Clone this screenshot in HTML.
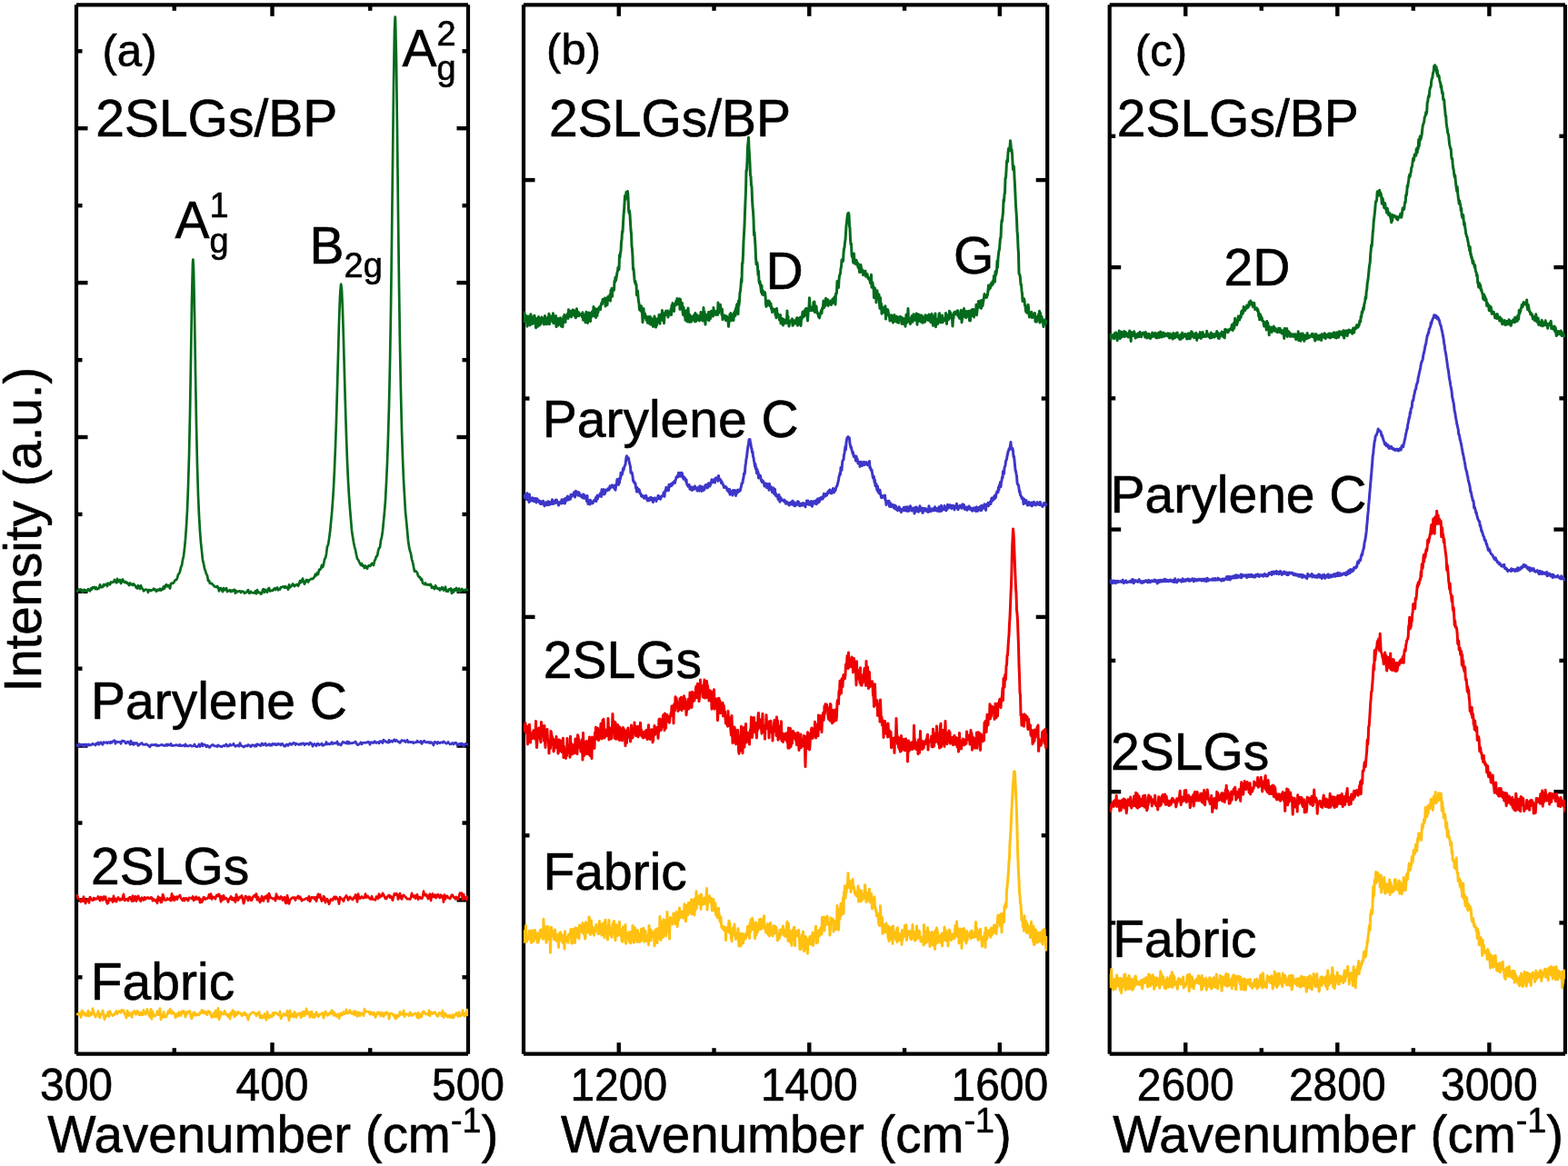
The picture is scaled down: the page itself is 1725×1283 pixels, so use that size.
<!DOCTYPE html>
<html lang="en">
<head>
<meta charset="utf-8">
<title>Raman spectra</title>
<style>html,body{margin:0;padding:0;background:#fff;}body{width:1725px;height:1283px;overflow:hidden;}svg{display:block;}</style>
</head>
<body>
<svg width="1725" height="1283" viewBox="0 0 1725 1283" font-family='"Liberation Sans", Arial, Helvetica, sans-serif' fill="#000">
<defs>
<clipPath id="clipa"><rect x="84.0" y="5.3" width="431.0" height="1154.4"/></clipPath>
<clipPath id="clipb"><rect x="576.0" y="5.3" width="576.2" height="1154.4"/></clipPath>
<clipPath id="clipc"><rect x="1220.7" y="5.3" width="501.20000000000005" height="1154.4"/></clipPath>
</defs>
<rect width="1725" height="1283" fill="#fff"/>
<g id="axes-a">
<line x1="84.00" y1="5.30" x2="515.00" y2="5.30" stroke="#000" stroke-width="4.2"/>
<line x1="84.00" y1="1159.70" x2="515.00" y2="1159.70" stroke="#000" stroke-width="4.2"/>
<line x1="84.00" y1="5.30" x2="84.00" y2="1159.70" stroke="#000" stroke-width="4.2"/>
<line x1="515.00" y1="5.30" x2="515.00" y2="1159.70" stroke="#000" stroke-width="4.2"/>
<line x1="299.50" y1="1159.70" x2="299.50" y2="1147.20" stroke="#000" stroke-width="4.4"/>
<line x1="299.50" y1="5.30" x2="299.50" y2="17.80" stroke="#000" stroke-width="4.4"/>
<line x1="191.75" y1="1159.70" x2="191.75" y2="1153.20" stroke="#000" stroke-width="4.4"/>
<line x1="191.75" y1="5.30" x2="191.75" y2="11.80" stroke="#000" stroke-width="4.4"/>
<line x1="407.25" y1="1159.70" x2="407.25" y2="1153.20" stroke="#000" stroke-width="4.4"/>
<line x1="407.25" y1="5.30" x2="407.25" y2="11.80" stroke="#000" stroke-width="4.4"/>
<line x1="84.00" y1="141.20" x2="96.50" y2="141.20" stroke="#000" stroke-width="4.4"/>
<line x1="515.00" y1="141.20" x2="502.50" y2="141.20" stroke="#000" stroke-width="4.4"/>
<line x1="84.00" y1="311.10" x2="96.50" y2="311.10" stroke="#000" stroke-width="4.4"/>
<line x1="515.00" y1="311.10" x2="502.50" y2="311.10" stroke="#000" stroke-width="4.4"/>
<line x1="84.00" y1="481.00" x2="96.50" y2="481.00" stroke="#000" stroke-width="4.4"/>
<line x1="515.00" y1="481.00" x2="502.50" y2="481.00" stroke="#000" stroke-width="4.4"/>
<line x1="84.00" y1="650.80" x2="96.50" y2="650.80" stroke="#000" stroke-width="4.4"/>
<line x1="515.00" y1="650.80" x2="502.50" y2="650.80" stroke="#000" stroke-width="4.4"/>
<line x1="84.00" y1="820.60" x2="96.50" y2="820.60" stroke="#000" stroke-width="4.4"/>
<line x1="515.00" y1="820.60" x2="502.50" y2="820.60" stroke="#000" stroke-width="4.4"/>
<line x1="84.00" y1="990.30" x2="96.50" y2="990.30" stroke="#000" stroke-width="4.4"/>
<line x1="515.00" y1="990.30" x2="502.50" y2="990.30" stroke="#000" stroke-width="4.4"/>
<line x1="84.00" y1="56.30" x2="90.50" y2="56.30" stroke="#000" stroke-width="4.4"/>
<line x1="515.00" y1="56.30" x2="508.50" y2="56.30" stroke="#000" stroke-width="4.4"/>
<line x1="84.00" y1="226.20" x2="90.50" y2="226.20" stroke="#000" stroke-width="4.4"/>
<line x1="515.00" y1="226.20" x2="508.50" y2="226.20" stroke="#000" stroke-width="4.4"/>
<line x1="84.00" y1="396.10" x2="90.50" y2="396.10" stroke="#000" stroke-width="4.4"/>
<line x1="515.00" y1="396.10" x2="508.50" y2="396.10" stroke="#000" stroke-width="4.4"/>
<line x1="84.00" y1="565.90" x2="90.50" y2="565.90" stroke="#000" stroke-width="4.4"/>
<line x1="515.00" y1="565.90" x2="508.50" y2="565.90" stroke="#000" stroke-width="4.4"/>
<line x1="84.00" y1="735.70" x2="90.50" y2="735.70" stroke="#000" stroke-width="4.4"/>
<line x1="515.00" y1="735.70" x2="508.50" y2="735.70" stroke="#000" stroke-width="4.4"/>
<line x1="84.00" y1="905.50" x2="90.50" y2="905.50" stroke="#000" stroke-width="4.4"/>
<line x1="515.00" y1="905.50" x2="508.50" y2="905.50" stroke="#000" stroke-width="4.4"/>
<line x1="84.00" y1="1075.30" x2="90.50" y2="1075.30" stroke="#000" stroke-width="4.4"/>
<line x1="515.00" y1="1075.30" x2="508.50" y2="1075.30" stroke="#000" stroke-width="4.4"/>
</g>
<text transform="translate(84.00,1210.60) scale(1.0,1.025)" font-size="48" text-anchor="middle" stroke="#000" stroke-width="0.6" stroke-linejoin="round">300</text>
<text transform="translate(299.50,1210.60) scale(1.0,1.025)" font-size="48" text-anchor="middle" stroke="#000" stroke-width="0.6" stroke-linejoin="round">400</text>
<text transform="translate(515.00,1210.60) scale(1.0,1.025)" font-size="48" text-anchor="middle" stroke="#000" stroke-width="0.6" stroke-linejoin="round">500</text>
<text transform="translate(300.30,1268.30) scale(1.0,1.02)" font-size="56.5" text-anchor="middle" stroke="#000" stroke-width="0.6" stroke-linejoin="round">Wavenumber (cm<tspan font-size="37.7" dy="-22.3">-1</tspan><tspan font-size="56.5" dy="22.3">)</tspan></text>
<g id="axes-b">
<line x1="576.00" y1="5.30" x2="1152.20" y2="5.30" stroke="#000" stroke-width="4.2"/>
<line x1="576.00" y1="1159.70" x2="1152.20" y2="1159.70" stroke="#000" stroke-width="4.2"/>
<line x1="576.00" y1="5.30" x2="576.00" y2="1159.70" stroke="#000" stroke-width="4.2"/>
<line x1="1152.20" y1="5.30" x2="1152.20" y2="1159.70" stroke="#000" stroke-width="4.2"/>
<line x1="680.76" y1="1159.70" x2="680.76" y2="1147.20" stroke="#000" stroke-width="4.4"/>
<line x1="680.76" y1="5.30" x2="680.76" y2="17.80" stroke="#000" stroke-width="4.4"/>
<line x1="890.29" y1="1159.70" x2="890.29" y2="1147.20" stroke="#000" stroke-width="4.4"/>
<line x1="890.29" y1="5.30" x2="890.29" y2="17.80" stroke="#000" stroke-width="4.4"/>
<line x1="1099.82" y1="1159.70" x2="1099.82" y2="1147.20" stroke="#000" stroke-width="4.4"/>
<line x1="1099.82" y1="5.30" x2="1099.82" y2="17.80" stroke="#000" stroke-width="4.4"/>
<line x1="785.53" y1="1159.70" x2="785.53" y2="1153.20" stroke="#000" stroke-width="4.4"/>
<line x1="785.53" y1="5.30" x2="785.53" y2="11.80" stroke="#000" stroke-width="4.4"/>
<line x1="995.05" y1="1159.70" x2="995.05" y2="1153.20" stroke="#000" stroke-width="4.4"/>
<line x1="995.05" y1="5.30" x2="995.05" y2="11.80" stroke="#000" stroke-width="4.4"/>
<line x1="576.00" y1="198.10" x2="588.50" y2="198.10" stroke="#000" stroke-width="4.4"/>
<line x1="1152.20" y1="198.10" x2="1139.70" y2="198.10" stroke="#000" stroke-width="4.4"/>
<line x1="576.00" y1="678.90" x2="588.50" y2="678.90" stroke="#000" stroke-width="4.4"/>
<line x1="1152.20" y1="678.90" x2="1139.70" y2="678.90" stroke="#000" stroke-width="4.4"/>
<line x1="576.00" y1="438.50" x2="582.50" y2="438.50" stroke="#000" stroke-width="4.4"/>
<line x1="1152.20" y1="438.50" x2="1145.70" y2="438.50" stroke="#000" stroke-width="4.4"/>
<line x1="576.00" y1="919.30" x2="582.50" y2="919.30" stroke="#000" stroke-width="4.4"/>
<line x1="1152.20" y1="919.30" x2="1145.70" y2="919.30" stroke="#000" stroke-width="4.4"/>
</g>
<text transform="translate(680.76,1210.60) scale(1.0,1.025)" font-size="48" text-anchor="middle" stroke="#000" stroke-width="0.6" stroke-linejoin="round">1200</text>
<text transform="translate(890.29,1210.60) scale(1.0,1.025)" font-size="48" text-anchor="middle" stroke="#000" stroke-width="0.6" stroke-linejoin="round">1400</text>
<text transform="translate(1099.82,1210.60) scale(1.0,1.025)" font-size="48" text-anchor="middle" stroke="#000" stroke-width="0.6" stroke-linejoin="round">1600</text>
<text transform="translate(864.90,1268.30) scale(1.0,1.02)" font-size="56.5" text-anchor="middle" stroke="#000" stroke-width="0.6" stroke-linejoin="round">Wavenumber (cm<tspan font-size="37.7" dy="-22.3">-1</tspan><tspan font-size="56.5" dy="22.3">)</tspan></text>
<g id="axes-c">
<line x1="1220.70" y1="5.30" x2="1721.90" y2="5.30" stroke="#000" stroke-width="4.2"/>
<line x1="1220.70" y1="1159.70" x2="1721.90" y2="1159.70" stroke="#000" stroke-width="4.2"/>
<line x1="1220.70" y1="5.30" x2="1220.70" y2="1159.70" stroke="#000" stroke-width="4.2"/>
<line x1="1721.90" y1="5.30" x2="1721.90" y2="1159.70" stroke="#000" stroke-width="4.2"/>
<line x1="1304.23" y1="1159.70" x2="1304.23" y2="1147.20" stroke="#000" stroke-width="4.4"/>
<line x1="1304.23" y1="5.30" x2="1304.23" y2="17.80" stroke="#000" stroke-width="4.4"/>
<line x1="1471.30" y1="1159.70" x2="1471.30" y2="1147.20" stroke="#000" stroke-width="4.4"/>
<line x1="1471.30" y1="5.30" x2="1471.30" y2="17.80" stroke="#000" stroke-width="4.4"/>
<line x1="1638.37" y1="1159.70" x2="1638.37" y2="1147.20" stroke="#000" stroke-width="4.4"/>
<line x1="1638.37" y1="5.30" x2="1638.37" y2="17.80" stroke="#000" stroke-width="4.4"/>
<line x1="1387.77" y1="1159.70" x2="1387.77" y2="1153.20" stroke="#000" stroke-width="4.4"/>
<line x1="1387.77" y1="5.30" x2="1387.77" y2="11.80" stroke="#000" stroke-width="4.4"/>
<line x1="1554.83" y1="1159.70" x2="1554.83" y2="1153.20" stroke="#000" stroke-width="4.4"/>
<line x1="1554.83" y1="5.30" x2="1554.83" y2="11.80" stroke="#000" stroke-width="4.4"/>
<line x1="1220.70" y1="294.10" x2="1233.20" y2="294.10" stroke="#000" stroke-width="4.4"/>
<line x1="1721.90" y1="294.10" x2="1709.40" y2="294.10" stroke="#000" stroke-width="4.4"/>
<line x1="1220.70" y1="582.60" x2="1233.20" y2="582.60" stroke="#000" stroke-width="4.4"/>
<line x1="1721.90" y1="582.60" x2="1709.40" y2="582.60" stroke="#000" stroke-width="4.4"/>
<line x1="1220.70" y1="871.20" x2="1233.20" y2="871.20" stroke="#000" stroke-width="4.4"/>
<line x1="1721.90" y1="871.20" x2="1709.40" y2="871.20" stroke="#000" stroke-width="4.4"/>
<line x1="1220.70" y1="149.80" x2="1227.20" y2="149.80" stroke="#000" stroke-width="4.4"/>
<line x1="1721.90" y1="149.80" x2="1715.40" y2="149.80" stroke="#000" stroke-width="4.4"/>
<line x1="1220.70" y1="438.30" x2="1227.20" y2="438.30" stroke="#000" stroke-width="4.4"/>
<line x1="1721.90" y1="438.30" x2="1715.40" y2="438.30" stroke="#000" stroke-width="4.4"/>
<line x1="1220.70" y1="726.90" x2="1227.20" y2="726.90" stroke="#000" stroke-width="4.4"/>
<line x1="1721.90" y1="726.90" x2="1715.40" y2="726.90" stroke="#000" stroke-width="4.4"/>
<line x1="1220.70" y1="1015.40" x2="1227.20" y2="1015.40" stroke="#000" stroke-width="4.4"/>
<line x1="1721.90" y1="1015.40" x2="1715.40" y2="1015.40" stroke="#000" stroke-width="4.4"/>
</g>
<text transform="translate(1304.23,1210.60) scale(1.0,1.025)" font-size="48" text-anchor="middle" stroke="#000" stroke-width="0.6" stroke-linejoin="round">2600</text>
<text transform="translate(1471.30,1210.60) scale(1.0,1.025)" font-size="48" text-anchor="middle" stroke="#000" stroke-width="0.6" stroke-linejoin="round">2800</text>
<text transform="translate(1638.37,1210.60) scale(1.0,1.025)" font-size="48" text-anchor="middle" stroke="#000" stroke-width="0.6" stroke-linejoin="round">3000</text>
<text transform="translate(1472.10,1268.30) scale(1.0,1.02)" font-size="56.5" text-anchor="middle" stroke="#000" stroke-width="0.6" stroke-linejoin="round">Wavenumber (cm<tspan font-size="37.7" dy="-22.3">-1</tspan><tspan font-size="56.5" dy="22.3">)</tspan></text>
<polyline points="84.0,650.0 85.0,650.4 86.0,649.5 87.0,648.6 88.0,649.2 89.0,648.4 90.0,650.0 91.0,651.8 92.0,649.1 93.0,648.8 94.0,650.5 95.0,650.2 96.0,649.8 97.0,648.2 98.0,649.5 99.0,650.4 100.0,647.3 101.0,648.5 102.0,646.2 103.0,646.9 104.0,645.9 105.0,648.1 106.0,646.4 107.0,648.4 108.0,647.9 109.0,647.1 110.0,643.3 111.0,645.9 112.0,646.2 113.0,646.0 114.0,643.1 115.0,644.2 116.0,643.0 117.0,642.7 118.0,645.0 119.0,641.7 120.0,642.3 121.0,643.2 122.0,640.5 123.0,640.8 124.0,640.7 125.0,640.2 126.0,638.0 127.0,639.6 128.0,641.3 129.0,636.8 130.0,640.3 131.0,639.1 132.0,638.0 133.0,642.0 134.0,640.3 135.0,637.5 136.0,639.7 137.0,640.8 138.0,640.0 139.0,641.6 140.0,640.9 141.0,642.5 142.0,644.1 143.0,641.4 144.0,643.2 145.0,642.6 146.0,644.0 147.0,642.4 148.0,643.8 149.0,644.7 150.0,646.8 151.0,647.5 152.0,644.2 153.0,645.4 154.0,647.9 155.0,644.4 156.0,647.0 157.0,647.9 158.0,650.3 159.0,649.8 160.0,648.5 161.0,648.7 162.0,649.0 163.0,651.8 164.0,649.0 165.0,649.1 166.0,650.1 167.0,649.3 168.0,649.1 169.0,647.7 170.0,649.2 171.0,648.5 172.0,650.8 173.0,649.8 174.0,648.7 175.0,649.5 176.0,647.8 177.0,649.7 178.0,647.9 179.0,648.5 180.0,645.5 181.0,647.6 182.0,644.2 183.0,643.3 184.0,645.4 185.0,644.0 186.0,645.0 187.0,647.5 188.0,642.1 189.0,641.6 190.0,642.0 191.0,641.5 192.0,639.4 193.0,638.1 194.0,638.1 195.0,636.2 196.0,632.1 197.0,631.3 198.0,628.9 199.0,624.2 200.0,622.2 201.0,615.9 202.0,612.1 203.0,603.4 204.0,593.2 205.0,579.2 206.0,561.5 207.0,535.4 208.0,501.7 209.0,455.6 210.0,395.3 211.0,332.4 212.0,289.4 212.4,285.5 213.0,295.0 214.0,344.9 215.0,409.3 216.0,466.3 217.0,511.9 218.0,544.7 219.0,567.4 220.0,584.5 221.0,597.4 222.0,606.3 223.0,616.3 224.0,620.1 225.0,625.5 226.0,628.3 227.0,631.6 228.0,633.2 229.0,639.1 230.0,638.8 231.0,642.0 232.0,641.8 233.0,641.9 234.0,643.4 235.0,643.9 236.0,645.4 237.0,645.5 238.0,646.2 239.0,645.0 240.0,646.3 241.0,650.4 242.0,647.2 243.0,647.0 244.0,649.3 245.0,651.2 246.0,647.1 247.0,649.2 248.0,648.7 249.0,647.2 250.0,651.1 251.0,650.1 252.0,650.3 253.0,649.2 254.0,651.1 255.0,649.7 256.0,650.4 257.0,649.0 258.0,648.9 259.0,652.8 260.0,650.1 261.0,651.3 262.0,650.9 263.0,650.3 264.0,650.3 265.0,652.0 266.0,650.6 267.0,650.9 268.0,651.1 269.0,652.9 270.0,652.2 271.0,651.7 272.0,650.3 273.0,649.1 274.0,652.6 275.0,652.6 276.0,650.9 277.0,651.9 278.0,652.3 279.0,652.3 280.0,652.4 281.0,650.3 282.0,653.3 283.0,649.1 284.0,652.2 285.0,651.6 286.0,652.2 287.0,653.6 288.0,653.0 289.0,649.0 290.0,648.1 291.0,651.8 292.0,649.0 293.0,650.4 294.0,651.6 295.0,647.8 296.0,647.0 297.0,650.5 298.0,650.1 299.0,649.6 300.0,649.9 301.0,648.4 302.0,647.3 303.0,649.1 304.0,647.6 305.0,646.4 306.0,649.3 307.0,648.2 308.0,648.6 309.0,646.1 310.0,646.3 311.0,645.5 312.0,645.4 313.0,646.8 314.0,645.1 315.0,646.6 316.0,646.3 317.0,648.7 318.0,643.3 319.0,646.5 320.0,644.9 321.0,644.8 322.0,642.4 323.0,643.6 324.0,645.2 325.0,643.7 326.0,643.7 327.0,642.9 328.0,644.8 329.0,642.7 330.0,639.1 331.0,641.1 332.0,638.8 333.0,636.6 334.0,640.3 335.0,642.7 336.0,640.4 337.0,638.1 338.0,638.0 339.0,640.6 340.0,638.6 341.0,637.9 342.0,637.2 343.0,636.7 344.0,637.1 345.0,636.0 346.0,634.6 347.0,631.8 348.0,633.2 349.0,630.3 350.0,631.8 351.0,626.9 352.0,627.1 353.0,625.6 354.0,621.8 355.0,624.1 356.0,621.2 357.0,615.6 358.0,614.1 359.0,609.7 360.0,601.3 361.0,599.8 362.0,593.1 363.0,585.8 364.0,575.5 365.0,565.4 366.0,552.1 367.0,536.7 368.0,516.0 369.0,491.3 370.0,462.5 371.0,427.6 372.0,390.6 373.0,354.3 374.0,326.5 375.0,313.0 375.2,312.6 376.0,318.9 377.0,342.0 378.0,375.9 379.0,413.1 380.0,448.7 381.0,480.1 382.0,507.4 383.0,528.7 384.0,546.0 385.0,559.9 386.0,571.6 387.0,583.7 388.0,590.5 389.0,596.5 390.0,601.5 391.0,605.0 392.0,610.2 393.0,614.8 394.0,615.7 395.0,618.1 396.0,619.9 397.0,621.8 398.0,620.2 399.0,622.8 400.0,622.3 401.0,625.1 402.0,622.6 403.0,624.5 404.0,625.8 405.0,622.9 406.0,622.2 407.0,622.9 408.0,622.0 409.0,619.8 410.0,620.9 411.0,622.0 412.0,617.2 413.0,615.5 414.0,612.2 415.0,611.7 416.0,606.4 417.0,603.1 418.0,602.3 419.0,594.3 420.0,590.8 421.0,584.0 422.0,573.5 423.0,562.8 424.0,550.5 425.0,531.3 426.0,509.3 427.0,481.0 428.0,446.0 429.0,400.2 430.0,340.2 431.0,265.4 432.0,179.5 433.0,93.9 434.0,32.7 434.7,18.5 435.0,21.3 436.0,65.6 437.0,145.3 438.0,233.9 439.0,314.1 440.0,379.9 441.0,432.1 442.0,473.4 443.0,503.9 444.0,527.9 445.0,545.6 446.0,563.0 447.0,572.8 448.0,583.5 449.0,594.7 450.0,601.6 451.0,606.3 452.0,609.1 453.0,615.3 454.0,618.5 455.0,623.6 456.0,628.8 457.0,628.2 458.0,628.9 459.0,630.2 460.0,633.6 461.0,634.9 462.0,634.8 463.0,637.9 464.0,637.0 465.0,641.4 466.0,642.2 467.0,643.0 468.0,641.4 469.0,643.5 470.0,643.2 471.0,643.3 472.0,643.9 473.0,642.9 474.0,643.1 475.0,646.9 476.0,645.7 477.0,646.7 478.0,648.1 479.0,644.3 480.0,645.9 481.0,647.6 482.0,648.1 483.0,647.1 484.0,649.4 485.0,648.3 486.0,646.3 487.0,646.8 488.0,649.5 489.0,649.1 490.0,645.7 491.0,650.7 492.0,649.6 493.0,650.8 494.0,648.3 495.0,648.5 496.0,647.4 497.0,652.9 498.0,648.9 499.0,651.6 500.0,648.3 501.0,649.6 502.0,646.9 503.0,648.9 504.0,650.9 505.0,647.6 506.0,651.2 507.0,650.1 508.0,648.0 509.0,648.9 510.0,649.0 511.0,649.6 512.0,648.9 513.0,648.5 514.0,649.3 515.0,648.3" fill="none" stroke="#046a1c" stroke-width="2.7" stroke-linejoin="round" stroke-linecap="butt" clip-path="url(#clipa)"/>
<polyline points="84.0,819.0 85.0,820.2 86.0,821.1 87.0,818.6 88.0,820.1 89.0,819.4 90.0,819.1 91.0,820.8 92.0,819.4 93.0,821.4 94.0,819.0 95.0,820.1 96.0,819.4 97.0,818.8 98.0,820.1 99.0,819.3 100.0,820.0 101.0,819.3 102.0,818.2 103.0,819.1 104.0,819.1 105.0,820.0 106.0,818.0 107.0,818.8 108.0,817.0 109.0,819.3 110.0,817.5 111.0,816.7 112.0,818.3 113.0,819.4 114.0,816.6 115.0,816.9 116.0,817.1 117.0,816.6 118.0,817.9 119.0,816.6 120.0,816.5 121.0,817.7 122.0,816.2 123.0,817.2 124.0,815.7 125.0,815.4 126.0,814.6 127.0,818.3 128.0,816.0 129.0,816.6 130.0,816.3 131.0,816.5 132.0,816.4 133.0,818.3 134.0,815.5 135.0,815.1 136.0,815.7 137.0,815.5 138.0,817.8 139.0,818.0 140.0,816.4 141.0,816.1 142.0,817.3 143.0,819.2 144.0,815.2 145.0,818.7 146.0,817.3 147.0,819.5 148.0,817.5 149.0,818.4 150.0,817.3 151.0,817.9 152.0,820.4 153.0,819.9 154.0,818.7 155.0,818.3 156.0,817.4 157.0,819.0 158.0,819.4 159.0,819.4 160.0,819.5 161.0,818.6 162.0,819.7 163.0,819.8 164.0,821.2 165.0,821.8 166.0,819.9 167.0,819.3 168.0,820.0 169.0,819.5 170.0,819.4 171.0,820.2 172.0,819.2 173.0,820.9 174.0,820.2 175.0,820.6 176.0,820.1 177.0,819.6 178.0,819.4 179.0,820.1 180.0,819.8 181.0,820.6 182.0,820.4 183.0,819.0 184.0,820.4 185.0,819.0 186.0,819.8 187.0,820.1 188.0,818.3 189.0,820.5 190.0,820.6 191.0,820.3 192.0,820.0 193.0,820.1 194.0,819.5 195.0,820.2 196.0,819.9 197.0,820.6 198.0,819.3 199.0,820.7 200.0,820.6 201.0,820.3 202.0,820.0 203.0,821.0 204.0,818.8 205.0,821.0 206.0,820.7 207.0,820.8 208.0,820.9 209.0,819.9 210.0,820.3 211.0,821.2 212.0,821.0 213.0,820.7 214.0,819.0 215.0,821.1 216.0,821.7 217.0,821.6 218.0,820.8 219.0,819.0 220.0,821.5 221.0,820.4 222.0,818.0 223.0,820.9 224.0,819.1 225.0,819.3 226.0,819.9 227.0,821.8 228.0,820.2 229.0,820.9 230.0,822.3 231.0,822.2 232.0,820.5 233.0,820.3 234.0,819.3 235.0,819.9 236.0,821.0 237.0,821.0 238.0,820.7 239.0,821.6 240.0,819.8 241.0,820.5 242.0,821.3 243.0,821.2 244.0,821.7 245.0,821.0 246.0,820.3 247.0,821.0 248.0,819.6 249.0,819.0 250.0,821.2 251.0,820.5 252.0,820.9 253.0,818.9 254.0,820.2 255.0,820.0 256.0,819.7 257.0,818.3 258.0,820.2 259.0,821.4 260.0,820.9 261.0,819.9 262.0,820.4 263.0,821.2 264.0,817.6 265.0,820.2 266.0,820.9 267.0,821.0 268.0,822.0 269.0,821.4 270.0,820.5 271.0,820.5 272.0,820.9 273.0,819.5 274.0,820.0 275.0,820.9 276.0,821.9 277.0,819.8 278.0,819.8 279.0,820.1 280.0,821.2 281.0,819.7 282.0,821.2 283.0,818.7 284.0,819.5 285.0,819.4 286.0,820.4 287.0,820.6 288.0,818.0 289.0,818.6 290.0,819.8 291.0,818.8 292.0,817.9 293.0,820.4 294.0,819.8 295.0,819.8 296.0,818.8 297.0,820.3 298.0,819.0 299.0,820.3 300.0,818.3 301.0,818.3 302.0,819.4 303.0,818.4 304.0,819.8 305.0,819.4 306.0,818.2 307.0,819.2 308.0,818.7 309.0,820.0 310.0,818.4 311.0,818.6 312.0,820.2 313.0,821.3 314.0,821.0 315.0,819.1 316.0,819.2 317.0,820.5 318.0,818.8 319.0,818.0 320.0,819.1 321.0,819.4 322.0,818.1 323.0,817.3 324.0,817.5 325.0,819.6 326.0,818.1 327.0,818.7 328.0,819.1 329.0,819.5 330.0,818.5 331.0,819.3 332.0,817.9 333.0,818.5 334.0,817.8 335.0,819.9 336.0,818.8 337.0,818.0 338.0,818.4 339.0,818.5 340.0,819.4 341.0,817.1 342.0,817.7 343.0,818.3 344.0,821.2 345.0,819.6 346.0,818.5 347.0,819.4 348.0,820.7 349.0,818.4 350.0,818.2 351.0,819.8 352.0,819.1 353.0,819.2 354.0,818.0 355.0,820.4 356.0,820.2 357.0,819.0 358.0,819.1 359.0,816.4 360.0,819.1 361.0,818.2 362.0,818.8 363.0,819.1 364.0,818.0 365.0,816.6 366.0,818.7 367.0,817.5 368.0,817.9 369.0,817.6 370.0,817.9 371.0,815.9 372.0,819.4 373.0,818.4 374.0,819.2 375.0,820.1 376.0,818.1 377.0,816.3 378.0,817.1 379.0,816.8 380.0,817.5 381.0,818.0 382.0,815.9 383.0,818.3 384.0,816.4 385.0,818.2 386.0,817.7 387.0,817.5 388.0,817.7 389.0,817.2 390.0,817.1 391.0,816.0 392.0,817.6 393.0,819.5 394.0,819.6 395.0,818.9 396.0,818.2 397.0,816.8 398.0,818.9 399.0,817.4 400.0,817.3 401.0,817.1 402.0,817.4 403.0,816.8 404.0,817.1 405.0,816.1 406.0,816.7 407.0,819.3 408.0,816.9 409.0,816.7 410.0,817.4 411.0,817.5 412.0,815.6 413.0,816.4 414.0,817.5 415.0,816.7 416.0,816.5 417.0,817.9 418.0,815.6 419.0,816.3 420.0,815.6 421.0,817.6 422.0,814.1 423.0,815.3 424.0,815.4 425.0,816.6 426.0,816.5 427.0,817.2 428.0,814.2 429.0,816.6 430.0,815.5 431.0,815.1 432.0,816.3 433.0,814.9 434.0,813.7 435.0,815.5 436.0,814.4 437.0,815.2 438.0,816.3 439.0,816.2 440.0,817.5 441.0,815.8 442.0,814.5 443.0,815.3 444.0,815.1 445.0,814.9 446.0,816.5 447.0,815.5 448.0,814.2 449.0,816.9 450.0,816.1 451.0,816.6 452.0,816.4 453.0,817.0 454.0,816.4 455.0,817.7 456.0,816.9 457.0,816.9 458.0,816.9 459.0,815.1 460.0,816.4 461.0,816.4 462.0,816.9 463.0,815.4 464.0,818.4 465.0,816.9 466.0,815.6 467.0,815.2 468.0,816.7 469.0,816.9 470.0,816.3 471.0,817.2 472.0,816.5 473.0,817.7 474.0,816.5 475.0,817.2 476.0,818.3 477.0,820.0 478.0,816.4 479.0,817.0 480.0,816.7 481.0,818.4 482.0,816.5 483.0,817.2 484.0,817.7 485.0,816.8 486.0,816.9 487.0,817.4 488.0,815.8 489.0,816.5 490.0,817.6 491.0,818.2 492.0,817.9 493.0,816.3 494.0,817.7 495.0,819.0 496.0,818.8 497.0,818.2 498.0,817.4 499.0,819.0 500.0,817.8 501.0,817.2 502.0,817.6 503.0,819.9 504.0,818.7 505.0,819.7 506.0,818.1 507.0,819.5 508.0,818.0 509.0,818.5 510.0,821.2 511.0,819.5 512.0,818.2 513.0,818.7 514.0,819.1 515.0,820.0" fill="none" stroke="#3d36c8" stroke-width="2.7" stroke-linejoin="round" stroke-linecap="butt" clip-path="url(#clipa)"/>
<polyline points="84.0,988.2 85.0,985.3 86.0,988.6 87.0,989.3 88.0,989.5 89.0,992.3 90.0,990.0 91.0,991.1 92.0,986.7 93.0,991.2 94.0,994.0 95.0,991.0 96.0,989.8 97.0,989.5 98.0,993.3 99.0,987.0 100.0,988.9 101.0,990.2 102.0,990.8 103.0,988.1 104.0,989.8 105.0,988.5 106.0,989.4 107.0,988.8 108.0,986.5 109.0,989.0 110.0,991.1 111.0,986.8 112.0,988.5 113.0,990.6 114.0,986.6 115.0,989.4 116.0,986.6 117.0,991.6 118.0,994.3 119.0,993.6 120.0,988.5 121.0,990.7 122.0,989.2 123.0,989.2 124.0,992.5 125.0,985.9 126.0,991.4 127.0,988.8 128.0,992.2 129.0,989.3 130.0,987.4 131.0,989.5 132.0,990.6 133.0,989.0 134.0,990.0 135.0,987.7 136.0,983.9 137.0,990.9 138.0,990.5 139.0,989.2 140.0,989.0 141.0,991.2 142.0,987.8 143.0,987.2 144.0,988.4 145.0,991.5 146.0,985.6 147.0,991.5 148.0,987.3 149.0,986.2 150.0,991.7 151.0,988.5 152.0,985.8 153.0,987.9 154.0,990.9 155.0,991.5 156.0,987.7 157.0,989.7 158.0,990.4 159.0,987.2 160.0,989.5 161.0,988.6 162.0,987.5 163.0,987.6 164.0,988.8 165.0,988.8 166.0,987.4 167.0,987.7 168.0,991.2 169.0,989.2 170.0,990.7 171.0,991.4 172.0,990.0 173.0,993.9 174.0,986.7 175.0,990.5 176.0,987.9 177.0,992.9 178.0,992.5 179.0,984.1 180.0,986.4 181.0,990.2 182.0,990.4 183.0,990.3 184.0,988.5 185.0,989.7 186.0,990.1 187.0,988.4 188.0,991.0 189.0,983.4 190.0,990.1 191.0,986.2 192.0,990.8 193.0,988.1 194.0,986.6 195.0,989.5 196.0,986.5 197.0,986.5 198.0,985.0 199.0,988.5 200.0,989.7 201.0,991.0 202.0,988.3 203.0,991.0 204.0,988.6 205.0,988.4 206.0,989.9 207.0,991.0 208.0,987.8 209.0,988.0 210.0,988.2 211.0,988.8 212.0,986.5 213.0,991.0 214.0,987.7 215.0,989.7 216.0,986.7 217.0,989.4 218.0,989.5 219.0,987.6 220.0,993.2 221.0,989.5 222.0,992.7 223.0,990.8 224.0,987.1 225.0,987.7 226.0,989.6 227.0,988.7 228.0,988.7 229.0,987.9 230.0,984.4 231.0,988.1 232.0,983.5 233.0,989.5 234.0,986.9 235.0,987.0 236.0,988.1 237.0,989.2 238.0,985.3 239.0,984.6 240.0,986.1 241.0,983.9 242.0,986.4 243.0,992.3 244.0,986.2 245.0,990.1 246.0,985.4 247.0,989.3 248.0,987.9 249.0,988.5 250.0,989.9 251.0,992.6 252.0,989.0 253.0,988.9 254.0,986.4 255.0,989.9 256.0,988.0 257.0,990.5 258.0,988.5 259.0,992.6 260.0,984.0 261.0,987.9 262.0,990.6 263.0,987.8 264.0,986.8 265.0,988.0 266.0,985.4 267.0,988.9 268.0,994.2 269.0,991.2 270.0,986.0 271.0,986.6 272.0,987.7 273.0,990.9 274.0,986.7 275.0,987.0 276.0,990.6 277.0,990.6 278.0,987.7 279.0,986.0 280.0,985.0 281.0,987.0 282.0,983.5 283.0,990.3 284.0,987.2 285.0,989.7 286.0,992.9 287.0,991.3 288.0,986.0 289.0,990.6 290.0,991.3 291.0,986.9 292.0,986.4 293.0,988.3 294.0,984.9 295.0,992.0 296.0,983.1 297.0,986.1 298.0,988.0 299.0,988.1 300.0,989.0 301.0,989.2 302.0,988.1 303.0,991.2 304.0,983.7 305.0,988.6 306.0,987.0 307.0,988.9 308.0,989.1 309.0,986.5 310.0,987.2 311.0,990.5 312.0,989.4 313.0,987.1 314.0,993.3 315.0,994.0 316.0,985.3 317.0,989.4 318.0,994.4 319.0,990.5 320.0,989.2 321.0,988.2 322.0,987.5 323.0,988.2 324.0,987.5 325.0,990.5 326.0,987.8 327.0,987.7 328.0,986.0 329.0,988.7 330.0,986.7 331.0,988.4 332.0,991.2 333.0,989.7 334.0,990.0 335.0,989.7 336.0,989.0 337.0,988.6 338.0,988.2 339.0,990.6 340.0,986.4 341.0,992.0 342.0,989.0 343.0,987.2 344.0,987.8 345.0,987.4 346.0,989.3 347.0,987.3 348.0,991.6 349.0,987.2 350.0,983.8 351.0,987.3 352.0,984.4 353.0,988.9 354.0,991.5 355.0,990.6 356.0,986.0 357.0,987.3 358.0,993.2 359.0,989.8 360.0,989.1 361.0,991.5 362.0,994.8 363.0,992.1 364.0,989.5 365.0,990.0 366.0,990.6 367.0,987.7 368.0,986.7 369.0,989.3 370.0,987.0 371.0,989.0 372.0,989.4 373.0,994.6 374.0,987.2 375.0,988.9 376.0,988.8 377.0,990.2 378.0,991.6 379.0,988.1 380.0,987.3 381.0,985.4 382.0,987.1 383.0,990.4 384.0,989.2 385.0,986.8 386.0,988.2 387.0,989.1 388.0,990.1 389.0,987.6 390.0,988.3 391.0,984.6 392.0,986.1 393.0,992.4 394.0,983.5 395.0,987.7 396.0,988.9 397.0,987.5 398.0,986.4 399.0,988.0 400.0,988.1 401.0,987.8 402.0,983.6 403.0,987.5 404.0,985.8 405.0,986.4 406.0,988.1 407.0,989.0 408.0,989.5 409.0,986.2 410.0,989.4 411.0,989.9 412.0,989.8 413.0,990.3 414.0,986.7 415.0,986.6 416.0,988.8 417.0,983.7 418.0,987.3 419.0,985.6 420.0,986.0 421.0,982.8 422.0,984.7 423.0,986.7 424.0,988.8 425.0,989.0 426.0,986.5 427.0,986.3 428.0,984.8 429.0,987.6 430.0,986.1 431.0,988.0 432.0,990.7 433.0,986.5 434.0,983.2 435.0,984.6 436.0,983.2 437.0,983.8 438.0,989.6 439.0,987.1 440.0,983.0 441.0,988.0 442.0,989.4 443.0,985.7 444.0,984.9 445.0,985.7 446.0,987.1 447.0,987.9 448.0,989.2 449.0,989.2 450.0,989.2 451.0,989.6 452.0,988.0 453.0,982.9 454.0,986.1 455.0,987.1 456.0,985.5 457.0,988.5 458.0,985.6 459.0,984.3 460.0,989.7 461.0,987.9 462.0,986.9 463.0,988.5 464.0,988.8 465.0,987.1 466.0,980.7 467.0,984.8 468.0,985.3 469.0,984.0 470.0,986.8 471.0,989.0 472.0,985.2 473.0,983.7 474.0,990.9 475.0,985.2 476.0,983.4 477.0,986.8 478.0,987.2 479.0,984.6 480.0,988.0 481.0,985.1 482.0,984.1 483.0,986.6 484.0,988.0 485.0,984.7 486.0,986.9 487.0,986.0 488.0,992.7 489.0,984.5 490.0,989.3 491.0,986.0 492.0,985.8 493.0,987.8 494.0,988.2 495.0,989.0 496.0,986.9 497.0,984.7 498.0,984.9 499.0,987.3 500.0,987.4 501.0,989.3 502.0,987.0 503.0,988.5 504.0,989.5 505.0,986.4 506.0,982.6 507.0,983.3 508.0,982.7 509.0,989.7 510.0,984.1 511.0,988.9 512.0,987.4 513.0,990.0 514.0,988.3 515.0,985.8" fill="none" stroke="#ee0000" stroke-width="2.7" stroke-linejoin="round" stroke-linecap="butt" clip-path="url(#clipa)"/>
<polyline points="84.0,1115.3 85.0,1116.0 86.0,1116.2 87.0,1114.6 88.0,1115.7 89.0,1119.5 90.0,1111.8 91.0,1116.3 92.0,1113.6 93.0,1116.1 94.0,1117.6 95.0,1115.6 96.0,1117.5 97.0,1112.0 98.0,1118.2 99.0,1114.3 100.0,1117.1 101.0,1116.1 102.0,1109.7 103.0,1113.9 104.0,1116.1 105.0,1119.2 106.0,1116.3 107.0,1116.2 108.0,1112.4 109.0,1118.9 110.0,1119.8 111.0,1115.7 112.0,1115.1 113.0,1111.9 114.0,1117.6 115.0,1121.8 116.0,1117.2 117.0,1118.5 118.0,1116.8 119.0,1113.3 120.0,1118.6 121.0,1112.7 122.0,1115.0 123.0,1116.2 124.0,1117.6 125.0,1116.5 126.0,1116.4 127.0,1113.8 128.0,1112.5 129.0,1115.6 130.0,1113.9 131.0,1112.5 132.0,1112.6 133.0,1114.4 134.0,1111.2 135.0,1112.4 136.0,1111.7 137.0,1115.9 138.0,1116.4 139.0,1120.1 140.0,1112.0 141.0,1113.9 142.0,1117.6 143.0,1115.0 144.0,1114.7 145.0,1119.4 146.0,1114.7 147.0,1112.8 148.0,1112.4 149.0,1116.2 150.0,1116.1 151.0,1112.3 152.0,1113.2 153.0,1116.7 154.0,1116.8 155.0,1114.0 156.0,1116.9 157.0,1116.7 158.0,1111.3 159.0,1114.7 160.0,1116.4 161.0,1114.1 162.0,1110.5 163.0,1114.8 164.0,1117.1 165.0,1119.1 166.0,1110.4 167.0,1121.4 168.0,1112.8 169.0,1117.6 170.0,1118.2 171.0,1117.7 172.0,1115.8 173.0,1112.7 174.0,1116.8 175.0,1113.8 176.0,1109.6 177.0,1121.9 178.0,1117.0 179.0,1119.6 180.0,1113.3 181.0,1118.8 182.0,1119.1 183.0,1119.0 184.0,1115.4 185.0,1112.6 186.0,1115.0 187.0,1110.3 188.0,1111.5 189.0,1115.6 190.0,1113.1 191.0,1115.0 192.0,1115.1 193.0,1119.8 194.0,1118.4 195.0,1115.3 196.0,1118.2 197.0,1113.6 198.0,1114.6 199.0,1117.5 200.0,1112.5 201.0,1114.8 202.0,1112.4 203.0,1115.7 204.0,1119.2 205.0,1113.7 206.0,1115.9 207.0,1113.3 208.0,1112.8 209.0,1112.6 210.0,1118.8 211.0,1120.9 212.0,1116.5 213.0,1113.8 214.0,1117.1 215.0,1114.7 216.0,1117.3 217.0,1116.1 218.0,1116.1 219.0,1116.9 220.0,1114.2 221.0,1114.6 222.0,1111.5 223.0,1114.5 224.0,1112.2 225.0,1115.2 226.0,1113.3 227.0,1115.8 228.0,1116.6 229.0,1112.3 230.0,1113.7 231.0,1113.4 232.0,1117.3 233.0,1119.5 234.0,1117.6 235.0,1114.8 236.0,1119.0 237.0,1112.2 238.0,1119.1 239.0,1114.2 240.0,1109.3 241.0,1121.8 242.0,1119.3 243.0,1113.3 244.0,1116.1 245.0,1115.2 246.0,1116.0 247.0,1112.4 248.0,1114.2 249.0,1116.9 250.0,1116.3 251.0,1118.6 252.0,1116.0 253.0,1121.2 254.0,1114.2 255.0,1116.5 256.0,1111.5 257.0,1113.0 258.0,1119.0 259.0,1113.7 260.0,1117.1 261.0,1115.8 262.0,1113.5 263.0,1115.2 264.0,1114.8 265.0,1114.9 266.0,1117.7 267.0,1117.5 268.0,1114.7 269.0,1113.9 270.0,1116.7 271.0,1115.8 272.0,1118.4 273.0,1122.2 274.0,1118.0 275.0,1116.0 276.0,1115.7 277.0,1114.1 278.0,1114.0 279.0,1113.8 280.0,1115.2 281.0,1115.1 282.0,1117.8 283.0,1115.2 284.0,1115.7 285.0,1113.3 286.0,1119.9 287.0,1117.3 288.0,1120.3 289.0,1118.0 290.0,1119.6 291.0,1115.6 292.0,1117.8 293.0,1122.4 294.0,1113.4 295.0,1118.9 296.0,1120.1 297.0,1117.2 298.0,1118.0 299.0,1119.1 300.0,1114.7 301.0,1117.2 302.0,1114.2 303.0,1114.6 304.0,1114.7 305.0,1115.9 306.0,1116.5 307.0,1117.3 308.0,1112.8 309.0,1120.8 310.0,1118.9 311.0,1117.9 312.0,1115.3 313.0,1116.0 314.0,1117.4 315.0,1117.1 316.0,1112.2 317.0,1117.9 318.0,1123.0 319.0,1111.8 320.0,1118.5 321.0,1117.0 322.0,1115.8 323.0,1119.3 324.0,1113.3 325.0,1116.5 326.0,1119.5 327.0,1115.6 328.0,1115.1 329.0,1116.3 330.0,1115.0 331.0,1119.7 332.0,1113.9 333.0,1118.1 334.0,1113.0 335.0,1117.6 336.0,1115.7 337.0,1109.8 338.0,1115.9 339.0,1113.4 340.0,1114.9 341.0,1119.5 342.0,1113.3 343.0,1113.4 344.0,1119.3 345.0,1116.1 346.0,1119.5 347.0,1116.6 348.0,1113.7 349.0,1115.7 350.0,1118.7 351.0,1118.0 352.0,1115.8 353.0,1115.9 354.0,1115.5 355.0,1114.4 356.0,1120.3 357.0,1115.7 358.0,1113.0 359.0,1114.6 360.0,1117.4 361.0,1117.2 362.0,1115.3 363.0,1114.1 364.0,1115.7 365.0,1111.7 366.0,1112.5 367.0,1117.5 368.0,1114.5 369.0,1116.5 370.0,1118.5 371.0,1117.1 372.0,1115.6 373.0,1120.6 374.0,1117.1 375.0,1114.7 376.0,1117.2 377.0,1116.5 378.0,1113.5 379.0,1115.7 380.0,1115.1 381.0,1110.8 382.0,1115.1 383.0,1114.8 384.0,1114.4 385.0,1111.6 386.0,1114.6 387.0,1115.3 388.0,1115.7 389.0,1112.7 390.0,1116.9 391.0,1112.5 392.0,1114.9 393.0,1118.5 394.0,1113.8 395.0,1114.2 396.0,1117.9 397.0,1114.5 398.0,1114.7 399.0,1115.9 400.0,1117.9 401.0,1110.2 402.0,1113.4 403.0,1113.0 404.0,1112.9 405.0,1113.4 406.0,1113.5 407.0,1116.2 408.0,1113.4 409.0,1115.8 410.0,1116.5 411.0,1113.9 412.0,1115.9 413.0,1119.5 414.0,1116.4 415.0,1114.2 416.0,1115.6 417.0,1113.6 418.0,1116.5 419.0,1117.9 420.0,1114.0 421.0,1115.4 422.0,1118.6 423.0,1114.8 424.0,1116.5 425.0,1113.7 426.0,1114.2 427.0,1115.0 428.0,1121.2 429.0,1115.3 430.0,1115.1 431.0,1115.1 432.0,1116.0 433.0,1117.9 434.0,1116.9 435.0,1121.2 436.0,1117.0 437.0,1119.9 438.0,1117.2 439.0,1118.0 440.0,1113.3 441.0,1116.4 442.0,1116.5 443.0,1116.2 444.0,1111.8 445.0,1118.8 446.0,1115.9 447.0,1115.8 448.0,1116.2 449.0,1116.3 450.0,1117.7 451.0,1113.9 452.0,1114.7 453.0,1117.5 454.0,1117.1 455.0,1115.9 456.0,1115.5 457.0,1114.9 458.0,1116.7 459.0,1119.5 460.0,1114.4 461.0,1120.3 462.0,1118.7 463.0,1115.8 464.0,1118.6 465.0,1113.4 466.0,1112.8 467.0,1113.8 468.0,1115.9 469.0,1116.0 470.0,1115.6 471.0,1117.0 472.0,1111.9 473.0,1117.9 474.0,1113.5 475.0,1115.3 476.0,1115.8 477.0,1114.1 478.0,1113.6 479.0,1114.5 480.0,1116.8 481.0,1118.1 482.0,1118.1 483.0,1114.5 484.0,1115.0 485.0,1114.7 486.0,1117.8 487.0,1112.1 488.0,1119.6 489.0,1115.6 490.0,1115.0 491.0,1117.5 492.0,1119.1 493.0,1117.5 494.0,1119.2 495.0,1117.0 496.0,1119.6 497.0,1119.6 498.0,1116.5 499.0,1120.0 500.0,1117.1 501.0,1116.9 502.0,1114.6 503.0,1116.0 504.0,1118.5 505.0,1113.7 506.0,1118.2 507.0,1117.5 508.0,1117.3 509.0,1111.6 510.0,1116.4 511.0,1118.1 512.0,1114.9 513.0,1116.8 514.0,1111.1 515.0,1118.1" fill="none" stroke="#ffc010" stroke-width="2.7" stroke-linejoin="round" stroke-linecap="butt" clip-path="url(#clipa)"/>
<polyline points="576.0,348.0 576.5,353.6 577.0,344.0 577.5,353.2 578.0,349.9 578.5,353.8 579.0,347.6 579.5,348.9 580.0,359.2 580.5,348.3 581.0,348.8 581.5,350.4 582.0,347.9 582.5,355.9 583.0,357.9 583.5,349.3 584.0,345.7 584.5,356.2 585.0,356.0 585.5,355.1 586.0,356.3 586.5,349.1 587.0,351.7 587.5,347.4 588.0,347.3 588.5,356.0 589.0,350.1 589.5,360.8 590.0,352.9 590.5,350.4 591.0,355.6 591.5,359.3 592.0,354.6 592.5,348.5 593.0,354.2 593.5,357.9 594.0,351.2 594.5,350.2 595.0,356.6 595.5,353.5 596.0,349.0 596.5,351.6 597.0,350.3 597.5,354.1 598.0,353.4 598.5,357.1 599.0,355.6 599.5,347.4 600.0,354.5 600.5,356.2 601.0,354.6 601.5,356.7 602.0,351.0 602.5,349.6 603.0,356.3 603.5,349.2 604.0,345.2 604.5,356.7 605.0,350.4 605.5,351.9 606.0,348.0 606.5,348.2 607.0,348.8 607.5,351.7 608.0,354.3 608.5,344.7 609.0,355.7 609.5,348.7 610.0,349.2 610.5,355.4 611.0,352.7 611.5,347.5 612.0,359.6 612.5,349.9 613.0,353.9 613.5,353.7 614.0,358.1 614.5,351.3 615.0,356.5 615.5,350.2 616.0,356.8 616.5,349.8 617.0,351.1 617.5,359.1 618.0,353.2 618.5,352.2 619.0,359.7 619.5,352.7 620.0,348.2 620.5,353.5 621.0,346.3 621.5,354.4 622.0,354.4 622.5,347.7 623.0,347.2 623.5,349.8 624.0,348.9 624.5,345.1 625.0,350.4 625.5,340.7 626.0,346.2 626.5,346.1 627.0,346.3 627.5,348.2 628.0,342.4 628.5,348.8 629.0,345.7 629.5,343.8 630.0,341.0 630.5,341.4 631.0,346.6 631.5,341.6 632.0,345.1 632.5,348.4 633.0,348.1 633.5,349.7 634.0,342.9 634.5,339.8 635.0,347.3 635.5,344.6 636.0,347.5 636.5,343.4 637.0,347.7 637.5,346.6 638.0,346.3 638.5,345.7 639.0,345.6 639.5,345.4 640.0,345.7 640.5,348.8 641.0,343.8 641.5,352.2 642.0,346.0 642.5,350.2 643.0,346.7 643.5,346.4 644.0,354.8 644.5,346.6 645.0,343.2 645.5,345.2 646.0,346.6 646.5,355.5 647.0,348.4 647.5,351.0 648.0,343.9 648.5,348.7 649.0,349.7 649.5,353.6 650.0,344.5 650.5,349.0 651.0,347.7 651.5,342.7 652.0,346.1 652.5,345.0 653.0,337.4 653.5,347.7 654.0,347.2 654.5,343.5 655.0,339.8 655.5,349.5 656.0,344.6 656.5,346.7 657.0,347.4 657.5,339.7 658.0,343.7 658.5,339.1 659.0,338.9 659.5,337.9 660.0,337.4 660.5,340.5 661.0,336.1 661.5,334.3 662.0,333.1 662.5,334.6 663.0,329.6 663.5,330.4 664.0,331.4 664.5,329.1 665.0,330.2 665.5,327.9 666.0,336.9 666.5,334.0 667.0,330.3 667.5,328.0 668.0,335.6 668.5,328.4 669.0,326.4 669.5,327.2 670.0,326.7 670.5,330.0 671.0,324.2 671.5,331.1 672.0,319.5 672.5,324.3 673.0,317.3 673.5,326.3 674.0,317.5 674.5,317.2 675.0,319.5 675.5,319.3 676.0,309.3 676.5,310.5 677.0,305.1 677.5,308.8 678.0,306.1 678.5,303.1 679.0,299.6 679.5,298.2 680.0,294.2 680.5,295.9 681.0,296.4 681.5,280.7 682.0,283.4 682.5,278.0 683.0,276.5 683.5,266.1 684.0,263.6 684.5,254.8 685.0,255.3 685.5,246.2 686.0,237.5 686.5,232.0 687.0,224.1 687.5,215.5 688.0,219.6 688.5,215.4 689.0,211.5 689.5,214.6 690.0,216.2 690.5,210.6 691.0,216.0 691.5,229.4 692.0,234.3 692.5,231.8 693.0,236.5 693.5,245.6 694.0,253.5 694.5,257.0 695.0,270.7 695.5,274.4 696.0,282.6 696.5,296.6 697.0,295.3 697.5,301.3 698.0,307.2 698.5,310.8 699.0,309.4 699.5,313.4 700.0,312.8 700.5,324.7 701.0,323.4 701.5,319.9 702.0,326.6 702.5,331.8 703.0,333.5 703.5,340.8 704.0,341.3 704.5,336.4 705.0,339.6 705.5,336.7 706.0,343.5 706.5,344.4 707.0,354.7 707.5,346.4 708.0,339.5 708.5,345.5 709.0,349.2 709.5,345.0 710.0,347.0 710.5,349.3 711.0,352.3 711.5,351.0 712.0,348.8 712.5,355.3 713.0,350.9 713.5,351.4 714.0,348.6 714.5,351.1 715.0,356.5 715.5,348.6 716.0,354.3 716.5,357.3 717.0,353.4 717.5,355.7 718.0,350.7 718.5,359.4 719.0,358.6 719.5,355.4 720.0,348.1 720.5,350.5 721.0,357.6 721.5,360.0 722.0,354.7 722.5,357.9 723.0,351.0 723.5,352.2 724.0,352.6 724.5,353.9 725.0,346.6 725.5,355.2 726.0,356.2 726.5,347.0 727.0,346.0 727.5,351.8 728.0,347.9 728.5,341.4 729.0,352.4 729.5,349.7 730.0,346.9 730.5,355.7 731.0,348.1 731.5,344.3 732.0,346.8 732.5,342.2 733.0,342.6 733.5,346.1 734.0,342.2 734.5,342.0 735.0,349.1 735.5,345.7 736.0,345.0 736.5,343.6 737.0,343.0 737.5,346.1 738.0,340.3 738.5,346.6 739.0,336.1 739.5,338.1 740.0,333.6 740.5,336.9 741.0,339.5 741.5,342.4 742.0,334.4 742.5,336.4 743.0,334.7 743.5,332.9 744.0,331.0 744.5,335.2 745.0,328.4 745.5,334.8 746.0,334.3 746.5,331.7 747.0,330.3 747.5,328.8 748.0,340.5 748.5,329.2 749.0,340.1 749.5,337.5 750.0,335.1 750.5,333.4 751.0,342.6 751.5,346.4 752.0,338.1 752.5,341.6 753.0,347.5 753.5,345.8 754.0,352.3 754.5,343.4 755.0,347.7 755.5,341.6 756.0,353.9 756.5,344.0 757.0,338.9 757.5,346.7 758.0,346.9 758.5,354.5 759.0,346.6 759.5,348.0 760.0,350.4 760.5,354.1 761.0,348.4 761.5,352.5 762.0,350.8 762.5,347.9 763.0,349.4 763.5,349.3 764.0,346.0 764.5,353.8 765.0,344.4 765.5,353.7 766.0,352.9 766.5,349.2 767.0,346.7 767.5,348.7 768.0,351.2 768.5,352.1 769.0,350.4 769.5,352.9 770.0,347.3 770.5,350.1 771.0,343.5 771.5,351.8 772.0,349.5 772.5,347.4 773.0,353.0 773.5,351.2 774.0,338.5 774.5,348.6 775.0,343.1 775.5,352.1 776.0,357.1 776.5,346.1 777.0,348.2 777.5,346.8 778.0,348.9 778.5,349.8 779.0,352.0 779.5,343.6 780.0,352.7 780.5,343.5 781.0,347.7 781.5,350.6 782.0,348.6 782.5,342.3 783.0,342.7 783.5,343.1 784.0,344.1 784.5,347.9 785.0,338.6 785.5,344.5 786.0,344.5 786.5,343.8 787.0,343.1 787.5,346.4 788.0,342.4 788.5,343.4 789.0,342.1 789.5,346.4 790.0,333.1 790.5,344.6 791.0,339.3 791.5,339.6 792.0,337.7 792.5,335.2 793.0,341.4 793.5,341.2 794.0,346.4 794.5,340.3 795.0,351.8 795.5,348.7 796.0,347.8 796.5,347.0 797.0,347.6 797.5,347.2 798.0,350.0 798.5,352.5 799.0,352.2 799.5,347.9 800.0,352.0 800.5,349.7 801.0,353.3 801.5,359.3 802.0,354.5 802.5,350.8 803.0,345.7 803.5,346.1 804.0,344.6 804.5,352.8 805.0,346.9 805.5,349.4 806.0,346.4 806.5,348.4 807.0,352.5 807.5,344.3 808.0,344.8 808.5,342.3 809.0,347.5 809.5,339.6 810.0,338.1 810.5,335.9 811.0,334.5 811.5,339.7 812.0,345.6 812.5,330.9 813.0,335.9 813.5,330.5 814.0,321.8 814.5,320.1 815.0,314.8 815.5,307.1 816.0,310.1 816.5,289.5 817.0,289.6 817.5,279.8 818.0,265.8 818.5,257.1 819.0,248.4 819.5,233.8 820.0,221.8 820.5,209.7 821.0,187.6 821.5,187.8 822.0,177.0 822.5,161.3 823.0,156.8 823.5,151.2 824.0,163.3 824.5,170.3 825.0,180.1 825.5,193.2 826.0,194.3 826.5,204.2 827.0,205.3 827.5,219.1 828.0,227.6 828.5,232.7 829.0,241.0 829.5,258.7 830.0,255.5 830.5,263.4 831.0,270.6 831.5,283.1 832.0,291.0 832.5,288.9 833.0,289.0 833.5,293.7 834.0,302.3 834.5,298.2 835.0,309.4 835.5,311.8 836.0,309.5 836.5,313.9 837.0,316.5 837.5,321.5 838.0,314.0 838.5,323.9 839.0,319.9 839.5,320.0 840.0,324.5 840.5,324.5 841.0,322.9 841.5,321.7 842.0,325.1 842.5,334.7 843.0,337.4 843.5,333.5 844.0,336.2 844.5,330.9 845.0,333.2 845.5,335.2 846.0,331.1 846.5,332.1 847.0,336.7 847.5,336.0 848.0,334.0 848.5,339.9 849.0,338.2 849.5,343.5 850.0,340.4 850.5,340.0 851.0,342.1 851.5,341.6 852.0,340.4 852.5,342.0 853.0,346.7 853.5,346.9 854.0,349.7 854.5,339.5 855.0,344.8 855.5,345.3 856.0,348.1 856.5,346.5 857.0,346.9 857.5,352.2 858.0,350.6 858.5,346.4 859.0,356.0 859.5,355.4 860.0,350.3 860.5,355.9 861.0,350.7 861.5,357.9 862.0,353.4 862.5,351.6 863.0,353.5 863.5,352.2 864.0,355.8 864.5,355.8 865.0,355.3 865.5,353.2 866.0,342.0 866.5,355.4 867.0,348.2 867.5,355.9 868.0,359.0 868.5,355.8 869.0,353.4 869.5,354.0 870.0,354.1 870.5,352.5 871.0,352.2 871.5,350.9 872.0,358.3 872.5,353.8 873.0,357.2 873.5,352.7 874.0,353.7 874.5,352.7 875.0,354.8 875.5,355.9 876.0,353.6 876.5,350.1 877.0,349.6 877.5,358.2 878.0,351.0 878.5,350.7 879.0,356.7 879.5,355.1 880.0,352.7 880.5,349.0 881.0,358.5 881.5,351.0 882.0,351.1 882.5,348.1 883.0,343.2 883.5,343.0 884.0,348.8 884.5,348.3 885.0,345.5 885.5,341.7 886.0,340.3 886.5,343.8 887.0,339.3 887.5,347.2 888.0,347.5 888.5,352.9 889.0,345.2 889.5,339.3 890.0,337.6 890.5,327.7 891.0,337.3 891.5,338.2 892.0,341.8 892.5,340.0 893.0,339.4 893.5,337.7 894.0,339.1 894.5,341.7 895.0,332.6 895.5,334.9 896.0,332.0 896.5,343.6 897.0,343.5 897.5,342.7 898.0,336.9 898.5,343.2 899.0,342.9 899.5,345.2 900.0,345.2 900.5,348.4 901.0,345.4 901.5,349.9 902.0,347.2 902.5,344.5 903.0,344.1 903.5,341.6 904.0,344.7 904.5,339.3 905.0,339.9 905.5,336.1 906.0,331.0 906.5,338.7 907.0,331.0 907.5,337.0 908.0,335.9 908.5,328.3 909.0,330.7 909.5,332.2 910.0,331.0 910.5,329.6 911.0,336.5 911.5,332.9 912.0,335.1 912.5,332.2 913.0,334.7 913.5,330.9 914.0,333.4 914.5,335.5 915.0,333.4 915.5,331.5 916.0,329.0 916.5,333.2 917.0,333.1 917.5,329.9 918.0,326.7 918.5,329.8 919.0,335.1 919.5,323.2 920.0,323.7 920.5,322.0 921.0,309.4 921.5,316.9 922.0,311.6 922.5,316.5 923.0,307.9 923.5,303.3 924.0,302.4 924.5,300.8 925.0,295.2 925.5,293.9 926.0,286.0 926.5,286.7 927.0,286.8 927.5,287.4 928.0,279.0 928.5,273.5 929.0,272.3 929.5,266.8 930.0,264.1 930.5,257.1 931.0,248.3 931.5,244.8 932.0,239.4 932.5,236.0 933.0,234.6 933.5,234.4 934.0,236.1 934.5,248.9 935.0,250.8 935.5,263.7 936.0,269.1 936.5,268.0 937.0,280.1 937.5,282.6 938.0,281.1 938.5,287.8 939.0,289.4 939.5,279.1 940.0,287.9 940.5,286.7 941.0,287.7 941.5,290.8 942.0,286.2 942.5,288.2 943.0,288.8 943.5,290.5 944.0,294.2 944.5,290.5 945.0,292.9 945.5,299.5 946.0,297.6 946.5,299.5 947.0,291.6 947.5,295.8 948.0,296.8 948.5,299.0 949.0,296.9 949.5,302.5 950.0,299.1 950.5,299.5 951.0,299.6 951.5,302.3 952.0,298.2 952.5,304.2 953.0,302.1 953.5,301.4 954.0,301.5 954.5,303.8 955.0,306.3 955.5,306.8 956.0,305.6 956.5,308.2 957.0,306.4 957.5,311.5 958.0,308.2 958.5,302.3 959.0,316.3 959.5,313.7 960.0,310.9 960.5,316.2 961.0,315.4 961.5,327.6 962.0,323.1 962.5,316.9 963.0,325.7 963.5,323.4 964.0,332.8 964.5,323.1 965.0,319.8 965.5,329.1 966.0,328.5 966.5,329.2 967.0,323.9 967.5,334.0 968.0,339.4 968.5,327.4 969.0,339.3 969.5,333.9 970.0,345.3 970.5,339.2 971.0,337.8 971.5,343.3 972.0,342.0 972.5,338.8 973.0,344.2 973.5,340.6 974.0,336.7 974.5,351.1 975.0,343.1 975.5,342.8 976.0,346.8 976.5,340.5 977.0,341.8 977.5,345.5 978.0,346.0 978.5,348.7 979.0,353.0 979.5,347.8 980.0,351.8 980.5,352.6 981.0,346.8 981.5,351.8 982.0,347.8 982.5,355.1 983.0,352.9 983.5,351.4 984.0,346.5 984.5,351.7 985.0,348.5 985.5,353.8 986.0,350.8 986.5,348.3 987.0,354.5 987.5,353.7 988.0,349.0 988.5,355.3 989.0,350.0 989.5,349.9 990.0,351.4 990.5,348.2 991.0,349.3 991.5,350.3 992.0,356.3 992.5,356.2 993.0,349.8 993.5,356.5 994.0,350.5 994.5,352.0 995.0,353.8 995.5,351.6 996.0,359.2 996.5,351.4 997.0,346.2 997.5,355.2 998.0,349.0 998.5,349.3 999.0,339.6 999.5,354.0 1000.0,353.3 1000.5,353.3 1001.0,353.9 1001.5,356.5 1002.0,350.3 1002.5,353.8 1003.0,347.8 1003.5,349.2 1004.0,354.3 1004.5,351.9 1005.0,345.8 1005.5,351.9 1006.0,350.0 1006.5,347.7 1007.0,352.3 1007.5,349.3 1008.0,345.1 1008.5,346.8 1009.0,357.2 1009.5,345.4 1010.0,351.7 1010.5,353.2 1011.0,353.3 1011.5,346.6 1012.0,349.9 1012.5,351.6 1013.0,354.0 1013.5,348.8 1014.0,347.0 1014.5,354.8 1015.0,355.2 1015.5,352.6 1016.0,349.1 1016.5,352.8 1017.0,351.7 1017.5,354.3 1018.0,346.8 1018.5,351.7 1019.0,350.7 1019.5,347.3 1020.0,352.0 1020.5,351.4 1021.0,349.7 1021.5,352.6 1022.0,346.0 1022.5,350.9 1023.0,352.6 1023.5,352.0 1024.0,354.8 1024.5,346.6 1025.0,345.4 1025.5,351.7 1026.0,352.4 1026.5,358.3 1027.0,352.8 1027.5,347.4 1028.0,353.4 1028.5,347.4 1029.0,345.0 1029.5,359.7 1030.0,351.4 1030.5,352.7 1031.0,352.1 1031.5,356.5 1032.0,351.0 1032.5,354.2 1033.0,346.1 1033.5,344.7 1034.0,354.8 1034.5,354.9 1035.0,351.4 1035.5,350.3 1036.0,350.0 1036.5,346.9 1037.0,354.8 1037.5,351.6 1038.0,351.0 1038.5,350.4 1039.0,352.8 1039.5,350.7 1040.0,351.5 1040.5,344.6 1041.0,350.5 1041.5,356.5 1042.0,346.7 1042.5,348.0 1043.0,351.6 1043.5,351.7 1044.0,350.5 1044.5,342.3 1045.0,349.9 1045.5,343.7 1046.0,344.9 1046.5,349.8 1047.0,346.7 1047.5,350.6 1048.0,358.9 1048.5,350.3 1049.0,350.0 1049.5,344.1 1050.0,345.0 1050.5,343.4 1051.0,345.2 1051.5,343.1 1052.0,344.6 1052.5,346.2 1053.0,343.3 1053.5,341.7 1054.0,341.9 1054.5,348.4 1055.0,346.9 1055.5,350.3 1056.0,350.4 1056.5,345.3 1057.0,348.9 1057.5,341.3 1058.0,354.7 1058.5,350.7 1059.0,345.6 1059.5,342.2 1060.0,347.7 1060.5,339.6 1061.0,343.5 1061.5,348.9 1062.0,346.5 1062.5,344.4 1063.0,349.6 1063.5,342.4 1064.0,347.1 1064.5,344.2 1065.0,342.9 1065.5,347.6 1066.0,342.3 1066.5,352.7 1067.0,343.7 1067.5,352.9 1068.0,341.7 1068.5,347.7 1069.0,341.1 1069.5,340.5 1070.0,345.9 1070.5,347.6 1071.0,340.4 1071.5,348.9 1072.0,341.3 1072.5,344.1 1073.0,344.4 1073.5,344.5 1074.0,335.2 1074.5,346.7 1075.0,342.1 1075.5,337.7 1076.0,334.8 1076.5,331.6 1077.0,332.0 1077.5,338.2 1078.0,334.4 1078.5,330.9 1079.0,332.4 1079.5,339.3 1080.0,331.9 1080.5,330.3 1081.0,336.6 1081.5,332.8 1082.0,330.6 1082.5,327.6 1083.0,323.5 1083.5,324.2 1084.0,325.9 1084.5,326.1 1085.0,327.4 1085.5,327.3 1086.0,325.2 1086.5,324.4 1087.0,319.1 1087.5,314.0 1088.0,319.0 1088.5,316.5 1089.0,316.6 1089.5,316.9 1090.0,312.4 1090.5,311.7 1091.0,314.1 1091.5,313.7 1092.0,309.5 1092.5,312.3 1093.0,308.1 1093.5,303.6 1094.0,305.6 1094.5,310.1 1095.0,298.7 1095.5,302.8 1096.0,300.9 1096.5,298.5 1097.0,287.2 1097.5,294.3 1098.0,284.1 1098.5,279.4 1099.0,275.7 1099.5,274.4 1100.0,267.7 1100.5,261.9 1101.0,261.8 1101.5,249.2 1102.0,242.5 1102.5,243.6 1103.0,237.9 1103.5,233.7 1104.0,220.1 1104.5,221.9 1105.0,213.8 1105.5,212.6 1106.0,196.0 1106.5,195.8 1107.0,188.5 1107.5,178.2 1108.0,176.0 1108.5,177.8 1109.0,168.1 1109.5,163.6 1110.0,165.8 1110.5,163.2 1111.0,161.4 1111.5,154.8 1112.0,159.2 1112.5,166.4 1113.0,164.5 1113.5,168.8 1114.0,179.0 1114.5,186.6 1115.0,182.6 1115.5,183.9 1116.0,195.0 1116.5,203.9 1117.0,214.7 1117.5,226.0 1118.0,232.8 1118.5,240.9 1119.0,253.9 1119.5,259.2 1120.0,271.8 1120.5,279.3 1121.0,300.5 1121.5,302.0 1122.0,302.6 1122.5,306.9 1123.0,313.3 1123.5,313.0 1124.0,319.9 1124.5,323.0 1125.0,331.5 1125.5,328.9 1126.0,329.2 1126.5,328.7 1127.0,330.7 1127.5,336.0 1128.0,336.6 1128.5,342.6 1129.0,337.2 1129.5,344.2 1130.0,342.1 1130.5,341.9 1131.0,335.3 1131.5,338.5 1132.0,346.3 1132.5,349.1 1133.0,345.2 1133.5,347.6 1134.0,343.7 1134.5,344.2 1135.0,343.4 1135.5,349.6 1136.0,347.6 1136.5,345.8 1137.0,345.7 1137.5,349.1 1138.0,348.5 1138.5,344.6 1139.0,354.0 1139.5,349.0 1140.0,348.4 1140.5,354.0 1141.0,352.6 1141.5,348.9 1142.0,351.5 1142.5,346.0 1143.0,347.8 1143.5,342.3 1144.0,355.1 1144.5,344.2 1145.0,353.8 1145.5,348.6 1146.0,348.4 1146.5,351.5 1147.0,353.4 1147.5,355.0 1148.0,359.5 1148.5,354.7 1149.0,356.8 1149.5,351.8 1150.0,356.8 1150.5,355.1 1151.0,353.2 1151.5,354.8 1152.0,355.2" fill="none" stroke="#046a1c" stroke-width="3.0" stroke-linejoin="round" stroke-linecap="butt" clip-path="url(#clipb)"/>
<polyline points="576.0,546.0 576.5,546.6 577.0,545.3 577.5,545.1 578.0,547.8 578.5,543.9 579.0,545.9 579.5,549.8 580.0,542.8 580.5,546.4 581.0,548.9 581.5,545.1 582.0,552.6 582.5,543.9 583.0,551.0 583.5,551.3 584.0,550.4 584.5,548.7 585.0,549.8 585.5,547.9 586.0,551.0 586.5,547.9 587.0,549.5 587.5,551.8 588.0,548.4 588.5,549.8 589.0,550.9 589.5,548.5 590.0,553.0 590.5,551.8 591.0,548.8 591.5,551.5 592.0,550.5 592.5,550.9 593.0,552.3 593.5,551.1 594.0,554.1 594.5,551.4 595.0,554.4 595.5,552.8 596.0,554.4 596.5,552.2 597.0,552.3 597.5,551.2 598.0,554.2 598.5,554.8 599.0,556.8 599.5,555.4 600.0,553.6 600.5,552.8 601.0,553.8 601.5,553.1 602.0,555.7 602.5,554.8 603.0,551.7 603.5,552.0 604.0,555.4 604.5,553.6 605.0,552.7 605.5,555.1 606.0,552.4 606.5,552.6 607.0,552.2 607.5,549.7 608.0,554.5 608.5,550.9 609.0,552.0 609.5,551.7 610.0,554.1 610.5,552.8 611.0,552.9 611.5,550.0 612.0,552.7 612.5,550.3 613.0,553.3 613.5,553.3 614.0,552.7 614.5,556.1 615.0,553.5 615.5,553.5 616.0,552.7 616.5,552.0 617.0,553.9 617.5,554.0 618.0,549.8 618.5,553.7 619.0,552.7 619.5,553.3 620.0,552.3 620.5,549.2 621.0,549.2 621.5,554.1 622.0,551.3 622.5,548.2 623.0,551.1 623.5,549.7 624.0,546.9 624.5,546.0 625.0,546.9 625.5,549.9 626.0,549.2 626.5,548.6 627.0,549.2 627.5,549.3 628.0,544.3 628.5,546.8 629.0,545.4 629.5,544.2 630.0,544.8 630.5,545.1 631.0,544.3 631.5,541.8 632.0,543.1 632.5,547.0 633.0,541.5 633.5,540.3 634.0,543.6 634.5,544.1 635.0,544.0 635.5,541.4 636.0,545.2 636.5,542.3 637.0,541.9 637.5,543.1 638.0,544.2 638.5,545.9 639.0,546.0 639.5,545.2 640.0,547.1 640.5,546.0 641.0,547.6 641.5,544.0 642.0,544.0 642.5,548.3 643.0,544.9 643.5,547.1 644.0,547.8 644.5,547.6 645.0,548.1 645.5,551.6 646.0,545.4 646.5,551.6 647.0,554.4 647.5,551.0 648.0,551.2 648.5,552.9 649.0,555.0 649.5,550.2 650.0,552.6 650.5,552.2 651.0,553.6 651.5,553.0 652.0,553.8 652.5,551.7 653.0,552.2 653.5,550.6 654.0,550.2 654.5,550.5 655.0,549.9 655.5,547.6 656.0,551.6 656.5,548.0 657.0,545.2 657.5,548.8 658.0,545.0 658.5,546.6 659.0,545.1 659.5,545.1 660.0,544.6 660.5,542.8 661.0,543.5 661.5,546.4 662.0,538.7 662.5,542.2 663.0,542.4 663.5,539.5 664.0,538.5 664.5,544.1 665.0,539.4 665.5,543.2 666.0,540.2 666.5,539.1 667.0,539.4 667.5,539.3 668.0,539.9 668.5,538.4 669.0,537.6 669.5,537.4 670.0,539.1 670.5,538.0 671.0,534.7 671.5,535.1 672.0,536.6 672.5,534.8 673.0,535.0 673.5,533.8 674.0,534.8 674.5,535.8 675.0,536.5 675.5,534.6 676.0,537.9 676.5,533.9 677.0,539.2 677.5,535.1 678.0,533.9 678.5,531.8 679.0,527.4 679.5,531.4 680.0,531.2 680.5,533.3 681.0,526.7 681.5,531.3 682.0,526.5 682.5,526.9 683.0,520.2 683.5,523.5 684.0,521.4 684.5,521.8 685.0,519.2 685.5,515.4 686.0,517.2 686.5,515.0 687.0,513.2 687.5,512.3 688.0,510.9 688.5,507.2 689.0,503.3 689.5,501.7 690.0,505.4 690.5,503.9 691.0,503.5 691.5,504.1 692.0,507.1 692.5,509.7 693.0,511.7 693.5,513.4 694.0,520.3 694.5,519.2 695.0,520.0 695.5,521.0 696.0,524.0 696.5,528.3 697.0,530.0 697.5,529.7 698.0,531.5 698.5,532.1 699.0,531.9 699.5,537.1 700.0,536.5 700.5,541.1 701.0,536.5 701.5,538.5 702.0,541.0 702.5,539.8 703.0,538.6 703.5,539.9 704.0,542.3 704.5,543.3 705.0,543.2 705.5,545.6 706.0,546.1 706.5,545.5 707.0,545.4 707.5,545.4 708.0,547.2 708.5,548.1 709.0,547.0 709.5,547.9 710.0,546.8 710.5,545.2 711.0,546.0 711.5,549.2 712.0,548.8 712.5,550.9 713.0,548.4 713.5,549.9 714.0,550.8 714.5,550.4 715.0,547.7 715.5,548.6 716.0,549.2 716.5,547.4 717.0,549.9 717.5,550.9 718.0,548.4 718.5,552.5 719.0,548.7 719.5,548.8 720.0,548.7 720.5,547.9 721.0,549.7 721.5,548.9 722.0,551.5 722.5,549.5 723.0,549.2 723.5,547.7 724.0,545.5 724.5,547.5 725.0,545.9 725.5,548.7 726.0,546.7 726.5,549.3 727.0,547.4 727.5,547.3 728.0,546.0 728.5,545.5 729.0,545.7 729.5,545.6 730.0,542.1 730.5,543.5 731.0,546.3 731.5,540.9 732.0,539.8 732.5,538.2 733.0,536.2 733.5,539.9 734.0,537.2 734.5,537.0 735.0,539.0 735.5,539.6 736.0,533.2 736.5,536.0 737.0,534.8 737.5,533.9 738.0,533.5 738.5,532.2 739.0,534.4 739.5,532.3 740.0,531.4 740.5,532.4 741.0,531.4 741.5,530.1 742.0,529.4 742.5,531.4 743.0,528.8 743.5,527.2 744.0,525.3 744.5,525.5 745.0,523.7 745.5,525.0 746.0,524.7 746.5,520.2 747.0,523.2 747.5,523.8 748.0,522.7 748.5,520.5 749.0,524.2 749.5,520.9 750.0,520.2 750.5,521.0 751.0,523.5 751.5,526.0 752.0,527.2 752.5,526.5 753.0,525.1 753.5,526.9 754.0,527.3 754.5,529.4 755.0,527.6 755.5,531.8 756.0,533.7 756.5,533.4 757.0,535.3 757.5,533.7 758.0,533.3 758.5,535.0 759.0,538.2 759.5,538.1 760.0,535.7 760.5,538.7 761.0,536.2 761.5,539.4 762.0,537.7 762.5,536.3 763.0,538.5 763.5,535.9 764.0,535.7 764.5,534.9 765.0,537.8 765.5,537.4 766.0,537.4 766.5,536.9 767.0,540.1 767.5,536.9 768.0,536.5 768.5,539.8 769.0,540.2 769.5,538.3 770.0,534.8 770.5,536.8 771.0,538.8 771.5,537.8 772.0,540.4 772.5,535.4 773.0,538.8 773.5,536.4 774.0,539.5 774.5,536.9 775.0,538.5 775.5,535.4 776.0,533.8 776.5,533.9 777.0,534.4 777.5,533.4 778.0,536.8 778.5,536.6 779.0,534.4 779.5,531.8 780.0,533.0 780.5,531.7 781.0,535.0 781.5,532.7 782.0,532.7 782.5,530.8 783.0,527.8 783.5,529.5 784.0,528.5 784.5,530.6 785.0,529.7 785.5,527.8 786.0,528.1 786.5,531.0 787.0,526.3 787.5,526.0 788.0,526.9 788.5,525.8 789.0,526.0 789.5,527.5 790.0,529.4 790.5,523.4 791.0,526.5 791.5,526.9 792.0,527.2 792.5,527.7 793.0,528.2 793.5,531.4 794.0,529.9 794.5,531.4 795.0,532.5 795.5,533.5 796.0,533.8 796.5,536.4 797.0,535.3 797.5,536.2 798.0,536.5 798.5,535.6 799.0,536.5 799.5,536.8 800.0,539.5 800.5,538.5 801.0,538.4 801.5,541.0 802.0,541.8 802.5,538.2 803.0,544.2 803.5,541.4 804.0,541.1 804.5,543.1 805.0,541.4 805.5,540.3 806.0,545.0 806.5,539.5 807.0,541.1 807.5,542.7 808.0,539.5 808.5,541.1 809.0,542.0 809.5,545.4 810.0,539.8 810.5,541.2 811.0,542.4 811.5,541.4 812.0,538.9 812.5,541.2 813.0,540.1 813.5,539.9 814.0,540.1 814.5,538.9 815.0,536.7 815.5,535.3 816.0,531.7 816.5,532.0 817.0,530.8 817.5,527.5 818.0,525.6 818.5,521.0 819.0,521.8 819.5,519.5 820.0,512.0 820.5,509.7 821.0,504.7 821.5,503.2 822.0,498.0 822.5,494.1 823.0,490.6 823.5,488.2 824.0,483.8 824.5,485.5 825.0,483.5 825.5,487.1 826.0,488.7 826.5,492.9 827.0,493.7 827.5,497.9 828.0,497.0 828.5,502.3 829.0,503.6 829.5,507.0 830.0,509.5 830.5,513.4 831.0,510.5 831.5,516.2 832.0,514.7 832.5,520.7 833.0,516.6 833.5,519.5 834.0,519.4 834.5,526.0 835.0,522.0 835.5,525.2 836.0,524.8 836.5,523.4 837.0,526.6 837.5,528.9 838.0,528.1 838.5,530.6 839.0,529.0 839.5,530.2 840.0,530.0 840.5,531.8 841.0,534.9 841.5,532.8 842.0,533.0 842.5,532.1 843.0,532.3 843.5,536.5 844.0,532.5 844.5,533.3 845.0,535.0 845.5,534.8 846.0,539.3 846.5,532.3 847.0,537.3 847.5,538.2 848.0,535.5 848.5,536.7 849.0,538.9 849.5,541.4 850.0,537.5 850.5,536.8 851.0,541.7 851.5,543.2 852.0,540.6 852.5,538.1 853.0,545.0 853.5,542.9 854.0,545.9 854.5,544.6 855.0,544.8 855.5,545.4 856.0,549.3 856.5,549.9 857.0,544.4 857.5,547.1 858.0,552.2 858.5,549.0 859.0,547.6 859.5,550.2 860.0,550.3 860.5,550.5 861.0,550.0 861.5,550.5 862.0,550.4 862.5,551.9 863.0,550.1 863.5,551.2 864.0,551.6 864.5,554.2 865.0,552.7 865.5,552.0 866.0,553.3 866.5,553.2 867.0,554.5 867.5,553.7 868.0,556.0 868.5,555.4 869.0,553.2 869.5,552.8 870.0,555.1 870.5,554.7 871.0,553.8 871.5,551.6 872.0,551.2 872.5,555.0 873.0,555.9 873.5,556.1 874.0,552.7 874.5,556.7 875.0,554.2 875.5,555.8 876.0,555.9 876.5,553.9 877.0,554.3 877.5,551.8 878.0,553.7 878.5,552.2 879.0,556.0 879.5,555.4 880.0,556.8 880.5,555.8 881.0,554.1 881.5,555.8 882.0,554.5 882.5,556.2 883.0,555.7 883.5,553.4 884.0,555.0 884.5,555.1 885.0,554.4 885.5,556.4 886.0,557.8 886.5,554.2 887.0,554.2 887.5,550.9 888.0,554.4 888.5,553.9 889.0,550.9 889.5,555.0 890.0,555.4 890.5,553.1 891.0,553.6 891.5,552.5 892.0,555.4 892.5,551.5 893.0,553.4 893.5,557.2 894.0,553.9 894.5,554.5 895.0,553.4 895.5,551.5 896.0,553.3 896.5,553.9 897.0,551.3 897.5,553.4 898.0,554.7 898.5,554.2 899.0,549.4 899.5,550.1 900.0,548.7 900.5,553.0 901.0,551.9 901.5,551.7 902.0,548.6 902.5,547.8 903.0,549.5 903.5,549.2 904.0,547.2 904.5,548.5 905.0,549.0 905.5,548.0 906.0,545.4 906.5,543.2 907.0,545.9 907.5,546.2 908.0,544.9 908.5,544.2 909.0,543.2 909.5,545.1 910.0,543.3 910.5,543.1 911.0,540.8 911.5,541.0 912.0,542.0 912.5,539.6 913.0,538.9 913.5,540.3 914.0,542.7 914.5,540.8 915.0,542.8 915.5,540.0 916.0,539.5 916.5,537.5 917.0,538.7 917.5,541.9 918.0,539.7 918.5,540.1 919.0,539.6 919.5,537.5 920.0,536.0 920.5,535.1 921.0,534.4 921.5,532.3 922.0,530.4 922.5,528.0 923.0,524.5 923.5,523.6 924.0,520.5 924.5,521.8 925.0,514.3 925.5,515.3 926.0,517.4 926.5,510.5 927.0,506.7 927.5,506.2 928.0,505.8 928.5,500.5 929.0,498.8 929.5,494.9 930.0,491.3 930.5,494.6 931.0,487.1 931.5,483.9 932.0,481.7 932.5,481.5 933.0,480.6 933.5,481.7 934.0,482.3 934.5,482.1 935.0,488.4 935.5,489.9 936.0,492.4 936.5,492.1 937.0,495.2 937.5,496.4 938.0,498.9 938.5,497.8 939.0,501.5 939.5,502.7 940.0,501.5 940.5,503.2 941.0,503.4 941.5,507.1 942.0,501.9 942.5,506.2 943.0,504.6 943.5,507.2 944.0,509.9 944.5,507.9 945.0,509.7 945.5,508.4 946.0,513.4 946.5,511.9 947.0,512.4 947.5,508.3 948.0,508.7 948.5,512.4 949.0,510.2 949.5,510.0 950.0,511.0 950.5,508.2 951.0,511.5 951.5,510.2 952.0,510.9 952.5,508.8 953.0,510.8 953.5,508.7 954.0,511.4 954.5,511.7 955.0,511.4 955.5,511.2 956.0,512.2 956.5,507.5 957.0,514.8 957.5,514.4 958.0,516.5 958.5,517.4 959.0,517.1 959.5,520.0 960.0,523.4 960.5,526.0 961.0,524.0 961.5,525.0 962.0,530.6 962.5,528.2 963.0,534.7 963.5,532.8 964.0,532.6 964.5,537.0 965.0,539.4 965.5,535.1 966.0,541.1 966.5,538.9 967.0,542.7 967.5,540.4 968.0,539.1 968.5,543.4 969.0,544.8 969.5,547.5 970.0,547.6 970.5,546.5 971.0,545.6 971.5,545.7 972.0,546.7 972.5,546.5 973.0,548.1 973.5,544.9 974.0,550.2 974.5,550.5 975.0,555.5 975.5,553.1 976.0,551.6 976.5,553.9 977.0,551.4 977.5,553.0 978.0,551.3 978.5,557.3 979.0,556.2 979.5,553.5 980.0,555.6 980.5,557.6 981.0,557.1 981.5,557.2 982.0,555.3 982.5,555.9 983.0,557.4 983.5,559.0 984.0,556.2 984.5,556.0 985.0,560.0 985.5,556.7 986.0,560.2 986.5,559.0 987.0,560.2 987.5,561.8 988.0,560.2 988.5,560.5 989.0,557.7 989.5,558.2 990.0,560.6 990.5,562.2 991.0,562.0 991.5,563.6 992.0,560.3 992.5,560.2 993.0,561.6 993.5,560.0 994.0,559.9 994.5,558.3 995.0,561.8 995.5,558.3 996.0,561.1 996.5,557.9 997.0,562.2 997.5,558.6 998.0,561.9 998.5,557.8 999.0,559.8 999.5,562.6 1000.0,559.3 1000.5,560.8 1001.0,559.9 1001.5,556.8 1002.0,561.3 1002.5,561.6 1003.0,559.0 1003.5,561.9 1004.0,559.6 1004.5,559.3 1005.0,561.0 1005.5,559.9 1006.0,565.0 1006.5,558.5 1007.0,562.4 1007.5,562.9 1008.0,557.9 1008.5,558.3 1009.0,562.2 1009.5,560.5 1010.0,562.0 1010.5,563.3 1011.0,560.7 1011.5,559.6 1012.0,556.8 1012.5,561.8 1013.0,559.9 1013.5,562.0 1014.0,561.9 1014.5,559.1 1015.0,564.4 1015.5,563.3 1016.0,562.9 1016.5,559.5 1017.0,560.8 1017.5,560.6 1018.0,560.8 1018.5,559.6 1019.0,562.2 1019.5,561.9 1020.0,562.1 1020.5,560.6 1021.0,563.6 1021.5,561.7 1022.0,556.7 1022.5,560.2 1023.0,561.2 1023.5,562.8 1024.0,560.6 1024.5,560.7 1025.0,559.9 1025.5,562.1 1026.0,560.2 1026.5,559.8 1027.0,559.5 1027.5,561.7 1028.0,559.8 1028.5,557.8 1029.0,561.6 1029.5,559.3 1030.0,561.0 1030.5,561.0 1031.0,562.3 1031.5,562.0 1032.0,559.2 1032.5,559.8 1033.0,557.8 1033.5,562.8 1034.0,560.6 1034.5,562.2 1035.0,559.2 1035.5,556.2 1036.0,562.2 1036.5,559.7 1037.0,559.7 1037.5,559.5 1038.0,560.4 1038.5,560.1 1039.0,556.4 1039.5,560.9 1040.0,558.0 1040.5,558.0 1041.0,561.7 1041.5,560.2 1042.0,558.0 1042.5,555.3 1043.0,558.6 1043.5,559.2 1044.0,558.0 1044.5,555.9 1045.0,556.6 1045.5,555.7 1046.0,558.2 1046.5,559.1 1047.0,559.4 1047.5,556.3 1048.0,557.9 1048.5,558.3 1049.0,556.5 1049.5,557.0 1050.0,560.9 1050.5,557.5 1051.0,558.7 1051.5,556.4 1052.0,557.2 1052.5,554.2 1053.0,557.1 1053.5,559.1 1054.0,560.7 1054.5,559.2 1055.0,558.4 1055.5,557.3 1056.0,556.3 1056.5,557.1 1057.0,558.5 1057.5,556.2 1058.0,559.2 1058.5,556.1 1059.0,554.8 1059.5,556.2 1060.0,555.2 1060.5,555.8 1061.0,560.2 1061.5,558.0 1062.0,558.8 1062.5,560.6 1063.0,560.8 1063.5,557.9 1064.0,561.2 1064.5,559.7 1065.0,559.1 1065.5,560.0 1066.0,556.9 1066.5,558.0 1067.0,559.3 1067.5,560.5 1068.0,558.9 1068.5,559.4 1069.0,561.3 1069.5,562.1 1070.0,561.0 1070.5,561.9 1071.0,559.0 1071.5,559.2 1072.0,560.2 1072.5,559.1 1073.0,558.7 1073.5,562.4 1074.0,559.2 1074.5,557.8 1075.0,560.2 1075.5,562.4 1076.0,559.4 1076.5,561.2 1077.0,558.3 1077.5,558.1 1078.0,557.7 1078.5,558.5 1079.0,561.8 1079.5,556.6 1080.0,561.2 1080.5,556.5 1081.0,557.7 1081.5,559.4 1082.0,558.9 1082.5,558.2 1083.0,554.7 1083.5,558.0 1084.0,555.5 1084.5,561.4 1085.0,556.5 1085.5,556.9 1086.0,554.4 1086.5,555.1 1087.0,553.4 1087.5,556.8 1088.0,554.2 1088.5,555.1 1089.0,552.4 1089.5,552.2 1090.0,554.6 1090.5,550.2 1091.0,548.1 1091.5,551.3 1092.0,548.0 1092.5,548.5 1093.0,550.1 1093.5,546.5 1094.0,548.7 1094.5,545.2 1095.0,548.1 1095.5,547.0 1096.0,543.0 1096.5,542.5 1097.0,540.5 1097.5,541.2 1098.0,541.7 1098.5,536.1 1099.0,538.9 1099.5,533.9 1100.0,533.4 1100.5,530.4 1101.0,535.5 1101.5,530.3 1102.0,528.7 1102.5,525.1 1103.0,526.0 1103.5,518.5 1104.0,519.9 1104.5,521.4 1105.0,514.8 1105.5,513.3 1106.0,512.2 1106.5,507.3 1107.0,506.3 1107.5,505.4 1108.0,501.8 1108.5,500.0 1109.0,496.9 1109.5,496.3 1110.0,494.0 1110.5,494.8 1111.0,492.3 1111.5,490.1 1112.0,486.6 1112.5,492.8 1113.0,494.3 1113.5,493.2 1114.0,493.4 1114.5,496.9 1115.0,502.6 1115.5,502.2 1116.0,506.7 1116.5,511.6 1117.0,517.0 1117.5,518.4 1118.0,521.3 1118.5,523.7 1119.0,530.6 1119.5,532.7 1120.0,533.6 1120.5,534.0 1121.0,537.2 1121.5,541.2 1122.0,540.6 1122.5,544.8 1123.0,545.2 1123.5,546.4 1124.0,548.2 1124.5,549.0 1125.0,547.6 1125.5,549.3 1126.0,554.5 1126.5,548.9 1127.0,550.6 1127.5,553.6 1128.0,551.9 1128.5,551.1 1129.0,550.6 1129.5,554.0 1130.0,555.1 1130.5,556.0 1131.0,554.0 1131.5,555.8 1132.0,552.5 1132.5,554.6 1133.0,553.3 1133.5,554.8 1134.0,555.8 1134.5,556.4 1135.0,552.9 1135.5,556.8 1136.0,553.9 1136.5,553.0 1137.0,554.5 1137.5,552.3 1138.0,554.9 1138.5,555.4 1139.0,554.6 1139.5,555.9 1140.0,554.4 1140.5,555.0 1141.0,552.6 1141.5,555.1 1142.0,553.6 1142.5,554.3 1143.0,555.0 1143.5,555.5 1144.0,552.4 1144.5,552.5 1145.0,554.7 1145.5,556.0 1146.0,555.8 1146.5,556.7 1147.0,557.5 1147.5,556.1 1148.0,555.2 1148.5,553.5 1149.0,553.7 1149.5,554.5 1150.0,555.7 1150.5,555.7 1151.0,555.3 1151.5,555.0 1152.0,556.4" fill="none" stroke="#3d36c8" stroke-width="3.0" stroke-linejoin="round" stroke-linecap="butt" clip-path="url(#clipb)"/>
<polyline points="576.0,802.7 576.5,803.6 577.0,803.9 577.5,798.6 578.0,795.7 578.5,806.0 579.0,805.8 579.5,801.9 580.0,800.9 580.5,818.9 581.0,799.1 581.5,802.9 582.0,806.4 582.5,797.2 583.0,805.8 583.5,817.1 584.0,811.6 584.5,809.8 585.0,809.8 585.5,806.8 586.0,812.5 586.5,805.3 587.0,803.7 587.5,807.3 588.0,812.7 588.5,809.0 589.0,811.4 589.5,793.6 590.0,814.9 590.5,822.6 591.0,816.0 591.5,805.2 592.0,801.7 592.5,809.2 593.0,800.9 593.5,812.3 594.0,804.1 594.5,814.0 595.0,816.7 595.5,794.4 596.0,809.8 596.5,803.3 597.0,798.7 597.5,804.1 598.0,806.8 598.5,815.2 599.0,798.6 599.5,815.8 600.0,822.4 600.5,813.3 601.0,813.3 601.5,809.9 602.0,802.6 602.5,814.3 603.0,813.6 603.5,816.3 604.0,828.9 604.5,817.1 605.0,815.5 605.5,823.4 606.0,804.6 606.5,806.3 607.0,811.8 607.5,810.3 608.0,819.5 608.5,813.1 609.0,827.0 609.5,825.9 610.0,821.2 610.5,813.9 611.0,820.9 611.5,822.5 612.0,810.4 612.5,820.1 613.0,822.8 613.5,819.9 614.0,829.2 614.5,827.2 615.0,814.0 615.5,820.6 616.0,814.6 616.5,824.2 617.0,815.0 617.5,827.0 618.0,823.8 618.5,827.8 619.0,820.7 619.5,812.2 620.0,833.6 620.5,821.0 621.0,831.3 621.5,825.2 622.0,826.8 622.5,834.5 623.0,824.6 623.5,831.6 624.0,812.6 624.5,828.1 625.0,820.8 625.5,821.5 626.0,822.5 626.5,824.7 627.0,833.3 627.5,810.2 628.0,822.7 628.5,817.7 629.0,830.1 629.5,819.6 630.0,825.4 630.5,819.8 631.0,826.8 631.5,829.1 632.0,819.8 632.5,822.7 633.0,813.0 633.5,824.4 634.0,828.1 634.5,818.7 635.0,829.8 635.5,808.7 636.0,810.2 636.5,813.2 637.0,819.2 637.5,822.5 638.0,821.9 638.5,821.9 639.0,827.1 639.5,819.2 640.0,813.9 640.5,814.0 641.0,836.1 641.5,806.6 642.0,820.9 642.5,831.6 643.0,825.1 643.5,816.3 644.0,821.7 644.5,827.3 645.0,829.5 645.5,815.5 646.0,826.3 646.5,822.9 647.0,828.4 647.5,830.1 648.0,818.6 648.5,811.1 649.0,823.2 649.5,832.0 650.0,824.4 650.5,820.9 651.0,834.6 651.5,811.1 652.0,823.1 652.5,812.5 653.0,815.6 653.5,815.0 654.0,823.4 654.5,806.3 655.0,808.1 655.5,800.3 656.0,813.2 656.5,806.4 657.0,811.6 657.5,801.3 658.0,805.8 658.5,814.7 659.0,806.5 659.5,811.5 660.0,810.6 660.5,804.5 661.0,796.3 661.5,812.9 662.0,807.3 662.5,812.5 663.0,792.5 663.5,794.7 664.0,791.3 664.5,799.5 665.0,812.1 665.5,808.8 666.0,804.8 666.5,805.8 667.0,809.9 667.5,802.8 668.0,807.4 668.5,805.7 669.0,790.4 669.5,802.3 670.0,813.9 670.5,802.4 671.0,804.2 671.5,801.3 672.0,802.2 672.5,813.0 673.0,804.0 673.5,799.2 674.0,785.6 674.5,802.6 675.0,793.6 675.5,794.7 676.0,812.2 676.5,811.8 677.0,794.7 677.5,813.2 678.0,810.8 678.5,802.8 679.0,813.0 679.5,797.6 680.0,800.5 680.5,799.1 681.0,801.4 681.5,814.7 682.0,800.2 682.5,801.5 683.0,802.9 683.5,810.5 684.0,807.0 684.5,814.9 685.0,804.5 685.5,800.6 686.0,805.8 686.5,809.3 687.0,802.8 687.5,810.7 688.0,820.8 688.5,804.9 689.0,808.9 689.5,817.5 690.0,804.2 690.5,802.7 691.0,801.0 691.5,810.7 692.0,811.4 692.5,806.9 693.0,808.0 693.5,816.0 694.0,813.2 694.5,798.1 695.0,807.2 695.5,807.9 696.0,811.8 696.5,805.5 697.0,802.6 697.5,803.8 698.0,795.0 698.5,806.5 699.0,802.6 699.5,809.6 700.0,799.7 700.5,803.6 701.0,799.9 701.5,799.4 702.0,811.0 702.5,803.3 703.0,809.3 703.5,799.0 704.0,807.0 704.5,795.2 705.0,803.2 705.5,803.0 706.0,810.2 706.5,807.5 707.0,805.2 707.5,811.9 708.0,807.6 708.5,809.9 709.0,811.4 709.5,805.9 710.0,804.4 710.5,808.5 711.0,803.6 711.5,808.9 712.0,813.6 712.5,811.9 713.0,803.8 713.5,797.8 714.0,805.9 714.5,805.5 715.0,813.5 715.5,803.7 716.0,804.7 716.5,810.8 717.0,802.7 717.5,804.7 718.0,816.9 718.5,815.3 719.0,809.4 719.5,806.9 720.0,798.5 720.5,808.4 721.0,804.8 721.5,805.7 722.0,800.6 722.5,803.7 723.0,802.3 723.5,805.3 724.0,812.4 724.5,805.1 725.0,791.4 725.5,795.5 726.0,790.9 726.5,795.5 727.0,803.8 727.5,802.1 728.0,794.8 728.5,799.7 729.0,792.3 729.5,787.1 730.0,786.5 730.5,789.4 731.0,803.7 731.5,784.9 732.0,801.3 732.5,801.2 733.0,790.6 733.5,790.9 734.0,786.5 734.5,789.8 735.0,793.6 735.5,788.7 736.0,794.6 736.5,795.2 737.0,789.1 737.5,788.3 738.0,785.1 738.5,787.2 739.0,777.0 739.5,786.4 740.0,784.4 740.5,776.8 741.0,796.0 741.5,774.9 742.0,774.9 742.5,781.9 743.0,766.7 743.5,773.6 744.0,768.1 744.5,771.2 745.0,776.0 745.5,778.3 746.0,782.6 746.5,779.7 747.0,781.2 747.5,776.4 748.0,768.7 748.5,778.6 749.0,767.9 749.5,767.2 750.0,781.7 750.5,777.3 751.0,774.1 751.5,778.3 752.0,779.8 752.5,765.8 753.0,774.9 753.5,768.5 754.0,777.7 754.5,773.0 755.0,786.8 755.5,781.5 756.0,772.8 756.5,777.9 757.0,769.6 757.5,777.3 758.0,780.0 758.5,777.3 759.0,762.0 759.5,771.5 760.0,776.1 760.5,773.7 761.0,778.4 761.5,761.3 762.0,772.4 762.5,763.9 763.0,768.8 763.5,769.6 764.0,770.9 764.5,762.0 765.0,766.6 765.5,757.2 766.0,755.1 766.5,767.6 767.0,763.1 767.5,752.3 768.0,756.9 768.5,762.2 769.0,771.8 769.5,767.9 770.0,765.8 770.5,748.1 771.0,758.6 771.5,761.6 772.0,760.3 772.5,759.7 773.0,754.7 773.5,767.2 774.0,764.8 774.5,754.1 775.0,748.1 775.5,768.1 776.0,751.0 776.5,762.8 777.0,767.8 777.5,749.4 778.0,758.0 778.5,754.3 779.0,760.5 779.5,759.8 780.0,771.1 780.5,762.8 781.0,759.8 781.5,768.4 782.0,760.6 782.5,761.5 783.0,780.3 783.5,761.8 784.0,765.6 784.5,770.6 785.0,764.6 785.5,758.7 786.0,780.3 786.5,768.8 787.0,771.0 787.5,772.6 788.0,769.1 788.5,768.9 789.0,777.5 789.5,792.7 790.0,782.1 790.5,782.6 791.0,768.2 791.5,778.4 792.0,771.3 792.5,784.8 793.0,778.8 793.5,781.2 794.0,781.1 794.5,778.6 795.0,773.3 795.5,788.0 796.0,775.9 796.5,778.1 797.0,784.8 797.5,783.0 798.0,790.3 798.5,796.2 799.0,792.1 799.5,792.8 800.0,792.6 800.5,799.2 801.0,782.4 801.5,798.0 802.0,790.5 802.5,789.6 803.0,798.8 803.5,797.2 804.0,804.6 804.5,809.0 805.0,787.4 805.5,803.2 806.0,817.7 806.5,811.6 807.0,816.6 807.5,808.9 808.0,799.9 808.5,803.0 809.0,816.2 809.5,818.8 810.0,808.4 810.5,812.2 811.0,816.2 811.5,803.2 812.0,812.6 812.5,825.6 813.0,829.2 813.5,814.0 814.0,826.6 814.5,810.9 815.0,808.8 815.5,799.2 816.0,820.1 816.5,811.1 817.0,828.7 817.5,815.3 818.0,814.1 818.5,800.6 819.0,822.1 819.5,809.5 820.0,810.4 820.5,796.6 821.0,816.8 821.5,816.8 822.0,805.9 822.5,810.1 823.0,811.6 823.5,815.0 824.0,808.9 824.5,819.1 825.0,805.7 825.5,802.8 826.0,803.3 826.5,789.1 827.0,800.0 827.5,811.4 828.0,806.0 828.5,798.3 829.0,805.5 829.5,789.4 830.0,800.3 830.5,805.2 831.0,805.8 831.5,795.6 832.0,806.3 832.5,812.0 833.0,796.3 833.5,803.5 834.0,787.7 834.5,784.5 835.0,801.0 835.5,796.9 836.0,797.5 836.5,792.1 837.0,793.9 837.5,801.1 838.0,807.2 838.5,794.5 839.0,785.3 839.5,804.9 840.0,800.8 840.5,801.6 841.0,798.7 841.5,813.2 842.0,798.8 842.5,802.0 843.0,786.7 843.5,795.4 844.0,795.0 844.5,799.6 845.0,802.3 845.5,795.3 846.0,812.0 846.5,793.8 847.0,798.1 847.5,802.9 848.0,793.3 848.5,805.5 849.0,806.2 849.5,800.3 850.0,815.1 850.5,803.3 851.0,804.8 851.5,796.9 852.0,792.4 852.5,799.5 853.0,801.8 853.5,801.2 854.0,809.5 854.5,788.9 855.0,797.4 855.5,793.1 856.0,814.3 856.5,801.9 857.0,802.5 857.5,798.9 858.0,812.4 858.5,804.0 859.0,808.4 859.5,793.8 860.0,815.2 860.5,810.4 861.0,811.7 861.5,816.4 862.0,807.3 862.5,807.7 863.0,813.8 863.5,812.1 864.0,807.9 864.5,810.0 865.0,806.7 865.5,814.9 866.0,816.6 866.5,810.7 867.0,823.3 867.5,801.0 868.0,809.8 868.5,822.9 869.0,809.0 869.5,801.4 870.0,821.5 870.5,816.1 871.0,804.8 871.5,818.0 872.0,806.3 872.5,804.5 873.0,812.5 873.5,810.5 874.0,806.6 874.5,811.7 875.0,807.6 875.5,814.8 876.0,814.4 876.5,819.7 877.0,811.9 877.5,806.2 878.0,806.4 878.5,813.6 879.0,825.5 879.5,821.1 880.0,811.3 880.5,821.9 881.0,808.1 881.5,822.6 882.0,813.5 882.5,821.2 883.0,820.4 883.5,814.5 884.0,818.6 884.5,809.4 885.0,816.1 885.5,823.8 886.0,843.8 886.5,821.4 887.0,817.3 887.5,810.1 888.0,823.8 888.5,805.8 889.0,811.2 889.5,818.4 890.0,807.5 890.5,825.0 891.0,821.3 891.5,809.4 892.0,808.5 892.5,802.5 893.0,801.0 893.5,812.2 894.0,812.4 894.5,809.7 895.0,808.2 895.5,801.9 896.0,807.2 896.5,794.2 897.0,803.1 897.5,812.0 898.0,810.1 898.5,797.4 899.0,797.3 899.5,807.8 900.0,809.6 900.5,786.9 901.0,793.1 901.5,796.6 902.0,802.2 902.5,787.7 903.0,796.5 903.5,789.2 904.0,805.7 904.5,791.7 905.0,786.9 905.5,784.5 906.0,792.7 906.5,789.4 907.0,777.1 907.5,785.2 908.0,774.7 908.5,778.5 909.0,775.1 909.5,775.2 910.0,779.8 910.5,778.3 911.0,788.8 911.5,791.2 912.0,784.9 912.5,779.6 913.0,792.9 913.5,774.6 914.0,775.7 914.5,793.6 915.0,793.4 915.5,795.8 916.0,788.2 916.5,781.5 917.0,786.7 917.5,794.1 918.0,785.3 918.5,785.8 919.0,781.0 919.5,781.4 920.0,792.6 920.5,787.3 921.0,773.4 921.5,770.5 922.0,770.5 922.5,774.6 923.0,760.4 923.5,764.7 924.0,749.3 924.5,752.9 925.0,761.8 925.5,762.8 926.0,747.1 926.5,747.5 927.0,755.8 927.5,745.8 928.0,742.6 928.5,747.3 929.0,742.8 929.5,746.5 930.0,742.2 930.5,731.1 931.0,732.3 931.5,731.3 932.0,721.8 932.5,723.5 933.0,735.6 933.5,718.0 934.0,734.4 934.5,729.1 935.0,725.8 935.5,729.9 936.0,729.1 936.5,733.7 937.0,723.0 937.5,724.2 938.0,724.7 938.5,739.9 939.0,735.1 939.5,724.4 940.0,730.1 940.5,729.4 941.0,736.0 941.5,738.9 942.0,754.0 942.5,727.7 943.0,747.4 943.5,744.4 944.0,737.6 944.5,742.1 945.0,740.4 945.5,744.6 946.0,751.3 946.5,734.8 947.0,753.6 947.5,742.3 948.0,754.3 948.5,746.6 949.0,751.5 949.5,746.4 950.0,749.3 950.5,741.9 951.0,735.5 951.5,745.2 952.0,745.3 952.5,754.5 953.0,727.6 953.5,739.8 954.0,748.6 954.5,733.9 955.0,741.3 955.5,757.6 956.0,753.8 956.5,739.5 957.0,755.6 957.5,755.0 958.0,753.8 958.5,753.2 959.0,754.5 959.5,749.7 960.0,754.7 960.5,765.5 961.0,764.0 961.5,777.5 962.0,764.8 962.5,752.8 963.0,768.1 963.5,773.6 964.0,775.8 964.5,775.1 965.0,770.7 965.5,787.4 966.0,774.5 966.5,785.0 967.0,779.9 967.5,775.4 968.0,794.3 968.5,770.0 969.0,782.6 969.5,792.7 970.0,789.1 970.5,798.0 971.0,793.9 971.5,792.9 972.0,811.5 972.5,796.9 973.0,798.4 973.5,793.4 974.0,796.7 974.5,807.0 975.0,807.4 975.5,804.7 976.0,801.0 976.5,811.0 977.0,796.1 977.5,805.8 978.0,807.1 978.5,803.7 979.0,810.8 979.5,805.8 980.0,805.3 980.5,822.8 981.0,816.2 981.5,819.5 982.0,812.2 982.5,818.5 983.0,817.6 983.5,820.7 984.0,828.5 984.5,811.6 985.0,815.1 985.5,813.2 986.0,790.6 986.5,804.7 987.0,814.3 987.5,818.5 988.0,810.7 988.5,822.2 989.0,823.4 989.5,812.4 990.0,824.7 990.5,827.1 991.0,818.8 991.5,809.5 992.0,825.9 992.5,815.4 993.0,814.2 993.5,817.7 994.0,813.6 994.5,824.5 995.0,822.7 995.5,825.8 996.0,821.8 996.5,812.9 997.0,817.3 997.5,824.3 998.0,815.9 998.5,838.0 999.0,817.2 999.5,815.0 1000.0,826.5 1000.5,823.8 1001.0,818.7 1001.5,817.4 1002.0,821.7 1002.5,824.4 1003.0,823.9 1003.5,816.8 1004.0,821.6 1004.5,824.3 1005.0,823.8 1005.5,798.3 1006.0,812.8 1006.5,813.5 1007.0,817.0 1007.5,819.7 1008.0,824.5 1008.5,822.5 1009.0,817.5 1009.5,818.4 1010.0,829.8 1010.5,814.1 1011.0,820.1 1011.5,828.4 1012.0,820.2 1012.5,804.4 1013.0,820.3 1013.5,815.2 1014.0,816.9 1014.5,824.5 1015.0,820.6 1015.5,815.7 1016.0,823.3 1016.5,820.2 1017.0,817.9 1017.5,819.1 1018.0,818.7 1018.5,814.7 1019.0,813.9 1019.5,817.0 1020.0,810.4 1020.5,808.3 1021.0,825.1 1021.5,814.8 1022.0,816.1 1022.5,815.2 1023.0,816.2 1023.5,816.0 1024.0,816.2 1024.5,810.3 1025.0,821.6 1025.5,810.7 1026.0,822.0 1026.5,802.3 1027.0,807.8 1027.5,821.2 1028.0,813.5 1028.5,809.9 1029.0,816.6 1029.5,807.1 1030.0,814.3 1030.5,799.0 1031.0,810.4 1031.5,809.0 1032.0,816.6 1032.5,818.7 1033.0,807.0 1033.5,823.1 1034.0,808.4 1034.5,798.5 1035.0,796.2 1035.5,821.9 1036.0,810.9 1036.5,806.9 1037.0,806.0 1037.5,803.4 1038.0,819.2 1038.5,809.4 1039.0,821.4 1039.5,808.0 1040.0,793.5 1040.5,814.3 1041.0,806.1 1041.5,806.9 1042.0,818.7 1042.5,806.6 1043.0,816.1 1043.5,808.5 1044.0,803.9 1044.5,812.6 1045.0,805.7 1045.5,818.3 1046.0,817.0 1046.5,811.7 1047.0,815.9 1047.5,816.2 1048.0,811.3 1048.5,819.7 1049.0,812.9 1049.5,819.0 1050.0,809.2 1050.5,816.6 1051.0,819.1 1051.5,811.5 1052.0,814.2 1052.5,813.6 1053.0,821.9 1053.5,812.4 1054.0,820.0 1054.5,827.1 1055.0,819.4 1055.5,806.4 1056.0,817.8 1056.5,823.8 1057.0,815.0 1057.5,824.1 1058.0,820.8 1058.5,819.4 1059.0,814.9 1059.5,813.1 1060.0,814.7 1060.5,816.7 1061.0,819.7 1061.5,818.9 1062.0,814.0 1062.5,816.3 1063.0,818.3 1063.5,804.9 1064.0,810.4 1064.5,810.1 1065.0,813.9 1065.5,813.3 1066.0,813.3 1066.5,809.1 1067.0,819.1 1067.5,816.4 1068.0,803.6 1068.5,814.3 1069.0,806.7 1069.5,825.2 1070.0,810.8 1070.5,811.1 1071.0,814.1 1071.5,812.1 1072.0,812.8 1072.5,823.3 1073.0,814.4 1073.5,818.3 1074.0,820.0 1074.5,805.9 1075.0,823.3 1075.5,816.5 1076.0,818.1 1076.5,805.8 1077.0,816.6 1077.5,813.7 1078.0,807.1 1078.5,825.4 1079.0,813.7 1079.5,808.0 1080.0,810.5 1080.5,814.8 1081.0,815.8 1081.5,811.4 1082.0,814.5 1082.5,814.7 1083.0,795.2 1083.5,798.4 1084.0,793.5 1084.5,798.5 1085.0,805.6 1085.5,798.8 1086.0,786.2 1086.5,790.0 1087.0,797.7 1087.5,786.3 1088.0,788.1 1088.5,789.8 1089.0,774.8 1089.5,791.0 1090.0,787.2 1090.5,787.9 1091.0,776.9 1091.5,777.5 1092.0,777.9 1092.5,782.9 1093.0,781.1 1093.5,781.0 1094.0,791.5 1094.5,787.9 1095.0,774.3 1095.5,774.4 1096.0,789.7 1096.5,776.1 1097.0,786.9 1097.5,788.0 1098.0,773.8 1098.5,775.2 1099.0,777.0 1099.5,770.5 1100.0,769.2 1100.5,772.1 1101.0,778.7 1101.5,769.1 1102.0,768.6 1102.5,764.8 1103.0,757.0 1103.5,770.7 1104.0,746.4 1104.5,752.9 1105.0,756.1 1105.5,742.7 1106.0,748.5 1106.5,746.8 1107.0,732.7 1107.5,731.9 1108.0,721.3 1108.5,721.0 1109.0,712.2 1109.5,704.3 1110.0,698.6 1110.5,686.9 1111.0,679.3 1111.5,667.6 1112.0,653.2 1112.5,643.2 1113.0,626.6 1113.5,604.1 1114.0,593.6 1114.5,582.0 1115.0,586.5 1115.5,596.6 1116.0,609.4 1116.5,622.6 1117.0,634.6 1117.5,647.1 1118.0,653.2 1118.5,671.1 1119.0,675.3 1119.5,682.6 1120.0,697.2 1120.5,710.1 1121.0,731.4 1121.5,743.5 1122.0,762.1 1122.5,765.1 1123.0,787.1 1123.5,785.9 1124.0,798.3 1124.5,786.2 1125.0,796.6 1125.5,788.5 1126.0,797.9 1126.5,799.1 1127.0,786.0 1127.5,789.0 1128.0,789.1 1128.5,787.2 1129.0,792.4 1129.5,791.3 1130.0,788.6 1130.5,799.1 1131.0,802.6 1131.5,791.2 1132.0,796.8 1132.5,801.1 1133.0,800.3 1133.5,797.9 1134.0,808.5 1134.5,809.4 1135.0,808.9 1135.5,803.7 1136.0,818.7 1136.5,817.7 1137.0,804.0 1137.5,806.4 1138.0,815.5 1138.5,802.9 1139.0,811.3 1139.5,809.4 1140.0,805.0 1140.5,808.5 1141.0,800.1 1141.5,807.3 1142.0,798.0 1142.5,826.5 1143.0,821.6 1143.5,819.9 1144.0,813.9 1144.5,818.4 1145.0,820.3 1145.5,818.6 1146.0,817.9 1146.5,805.8 1147.0,814.6 1147.5,808.2 1148.0,803.9 1148.5,804.1 1149.0,814.3 1149.5,818.3 1150.0,802.2 1150.5,822.6 1151.0,820.6 1151.5,808.2 1152.0,807.4" fill="none" stroke="#ee0000" stroke-width="3.0" stroke-linejoin="round" stroke-linecap="butt" clip-path="url(#clipb)"/>
<polyline points="576.0,1030.7 576.5,1036.4 577.0,1028.5 577.5,1024.3 578.0,1032.2 578.5,1018.5 579.0,1030.7 579.5,1036.2 580.0,1031.2 580.5,1033.7 581.0,1032.0 581.5,1033.1 582.0,1029.7 582.5,1024.1 583.0,1027.4 583.5,1028.1 584.0,1035.4 584.5,1037.4 585.0,1030.5 585.5,1023.9 586.0,1023.9 586.5,1026.9 587.0,1035.6 587.5,1029.7 588.0,1027.4 588.5,1023.4 589.0,1032.6 589.5,1029.3 590.0,1027.3 590.5,1028.2 591.0,1037.0 591.5,1026.7 592.0,1037.1 592.5,1034.6 593.0,1028.0 593.5,1032.7 594.0,1027.2 594.5,1023.3 595.0,1026.6 595.5,1023.1 596.0,1031.1 596.5,1028.5 597.0,1031.7 597.5,1033.3 598.0,1011.3 598.5,1030.7 599.0,1019.0 599.5,1030.1 600.0,1024.4 600.5,1030.0 601.0,1037.2 601.5,1020.1 602.0,1030.9 602.5,1029.5 603.0,1019.4 603.5,1033.7 604.0,1030.4 604.5,1027.4 605.0,1026.2 605.5,1048.3 606.0,1028.2 606.5,1020.3 607.0,1025.3 607.5,1028.5 608.0,1028.4 608.5,1030.1 609.0,1024.8 609.5,1033.7 610.0,1028.0 610.5,1023.1 611.0,1026.2 611.5,1028.7 612.0,1035.6 612.5,1033.6 613.0,1029.0 613.5,1031.0 614.0,1032.2 614.5,1042.4 615.0,1027.6 615.5,1033.6 616.0,1035.1 616.5,1025.7 617.0,1032.1 617.5,1032.0 618.0,1028.5 618.5,1034.3 619.0,1036.9 619.5,1037.4 620.0,1030.0 620.5,1032.1 621.0,1044.1 621.5,1024.7 622.0,1032.1 622.5,1035.7 623.0,1031.4 623.5,1034.1 624.0,1031.3 624.5,1034.4 625.0,1037.2 625.5,1028.6 626.0,1030.8 626.5,1029.2 627.0,1027.1 627.5,1029.0 628.0,1022.6 628.5,1032.9 629.0,1038.1 629.5,1037.9 630.0,1035.3 630.5,1022.6 631.0,1036.3 631.5,1023.6 632.0,1027.1 632.5,1037.5 633.0,1021.0 633.5,1031.5 634.0,1028.2 634.5,1025.6 635.0,1021.4 635.5,1028.6 636.0,1023.5 636.5,1031.8 637.0,1032.7 637.5,1018.0 638.0,1022.7 638.5,1023.6 639.0,1018.7 639.5,1018.9 640.0,1025.5 640.5,1023.7 641.0,1015.5 641.5,1021.6 642.0,1027.4 642.5,1017.6 643.0,1019.1 643.5,1033.0 644.0,1031.3 644.5,1014.8 645.0,1016.2 645.5,1025.7 646.0,1016.8 646.5,1022.0 647.0,1020.7 647.5,1026.3 648.0,1008.9 648.5,1010.6 649.0,1016.0 649.5,1028.5 650.0,1021.9 650.5,1013.1 651.0,1025.4 651.5,1026.5 652.0,1021.1 652.5,1020.6 653.0,1024.9 653.5,1029.2 654.0,1023.3 654.5,1025.4 655.0,1022.1 655.5,1020.3 656.0,1017.3 656.5,1023.8 657.0,1020.7 657.5,1021.0 658.0,1027.6 658.5,1025.1 659.0,1027.3 659.5,1013.6 660.0,1025.5 660.5,1019.1 661.0,1017.9 661.5,1017.6 662.0,1029.2 662.5,1027.0 663.0,1018.4 663.5,1016.0 664.0,1022.5 664.5,1019.8 665.0,1031.7 665.5,1014.2 666.0,1012.2 666.5,1021.0 667.0,1022.5 667.5,1023.1 668.0,1026.6 668.5,1034.0 669.0,1020.5 669.5,1019.4 670.0,1012.6 670.5,1023.9 671.0,1027.3 671.5,1021.2 672.0,1029.3 672.5,1022.9 673.0,1031.3 673.5,1024.8 674.0,1017.1 674.5,1019.5 675.0,1014.6 675.5,1013.6 676.0,1024.9 676.5,1028.4 677.0,1034.6 677.5,1023.5 678.0,1022.6 678.5,1017.8 679.0,1029.7 679.5,1026.5 680.0,1021.1 680.5,1028.4 681.0,1027.8 681.5,1014.3 682.0,1029.1 682.5,1025.8 683.0,1023.0 683.5,1023.1 684.0,1035.4 684.5,1034.4 685.0,1036.3 685.5,1019.9 686.0,1022.9 686.5,1031.9 687.0,1020.3 687.5,1023.3 688.0,1017.5 688.5,1038.3 689.0,1034.1 689.5,1031.0 690.0,1030.0 690.5,1026.7 691.0,1027.0 691.5,1033.0 692.0,1025.8 692.5,1036.9 693.0,1027.4 693.5,1025.5 694.0,1037.8 694.5,1029.9 695.0,1034.0 695.5,1028.7 696.0,1018.5 696.5,1034.2 697.0,1023.6 697.5,1037.3 698.0,1022.6 698.5,1020.9 699.0,1033.1 699.5,1033.8 700.0,1032.1 700.5,1024.7 701.0,1036.5 701.5,1023.4 702.0,1029.1 702.5,1027.3 703.0,1029.6 703.5,1036.5 704.0,1028.2 704.5,1035.0 705.0,1035.7 705.5,1022.3 706.0,1025.4 706.5,1029.8 707.0,1028.6 707.5,1033.7 708.0,1021.2 708.5,1036.0 709.0,1036.2 709.5,1031.1 710.0,1024.3 710.5,1032.0 711.0,1029.0 711.5,1035.1 712.0,1031.4 712.5,1035.9 713.0,1029.3 713.5,1039.7 714.0,1018.5 714.5,1025.6 715.0,1033.9 715.5,1022.5 716.0,1034.9 716.5,1023.7 717.0,1030.9 717.5,1025.0 718.0,1027.4 718.5,1030.6 719.0,1028.8 719.5,1027.0 720.0,1041.0 720.5,1028.7 721.0,1023.0 721.5,1033.4 722.0,1032.5 722.5,1034.5 723.0,1037.4 723.5,1021.8 724.0,1032.7 724.5,1032.8 725.0,1026.1 725.5,1027.1 726.0,1008.5 726.5,1021.7 727.0,1034.5 727.5,1014.0 728.0,1020.6 728.5,1024.7 729.0,1025.9 729.5,1031.3 730.0,1011.8 730.5,1021.5 731.0,1025.6 731.5,1013.0 732.0,1019.6 732.5,1030.0 733.0,1026.4 733.5,1021.6 734.0,1003.5 734.5,1016.9 735.0,1019.4 735.5,1015.0 736.0,1015.9 736.5,1033.1 737.0,1014.1 737.5,1009.4 738.0,1015.8 738.5,1012.1 739.0,1011.7 739.5,1012.5 740.0,1016.9 740.5,1013.4 741.0,1004.9 741.5,1010.4 742.0,1013.4 742.5,1007.7 743.0,1016.4 743.5,1013.9 744.0,1003.6 744.5,1010.6 745.0,1019.6 745.5,1016.9 746.0,1007.6 746.5,1012.6 747.0,1003.6 747.5,999.0 748.0,1010.0 748.5,1008.0 749.0,1009.3 749.5,1006.1 750.0,1007.8 750.5,1002.9 751.0,1008.2 751.5,1010.0 752.0,1004.8 752.5,1009.5 753.0,994.8 753.5,1000.1 754.0,1012.3 754.5,1013.8 755.0,1005.1 755.5,1002.8 756.0,995.9 756.5,1004.7 757.0,1006.6 757.5,993.4 758.0,1004.4 758.5,1003.4 759.0,1002.6 759.5,993.2 760.0,1001.9 760.5,989.9 761.0,1006.0 761.5,997.9 762.0,990.0 762.5,1003.6 763.0,1002.0 763.5,991.4 764.0,1007.0 764.5,988.7 765.0,995.8 765.5,1000.4 766.0,980.8 766.5,998.9 767.0,992.7 767.5,992.8 768.0,986.7 768.5,994.4 769.0,986.1 769.5,986.7 770.0,989.5 770.5,984.9 771.0,1000.4 771.5,984.0 772.0,987.1 772.5,989.3 773.0,991.0 773.5,995.2 774.0,995.1 774.5,988.7 775.0,988.0 775.5,990.1 776.0,994.3 776.5,993.4 777.0,986.4 777.5,977.6 778.0,1001.1 778.5,994.3 779.0,990.6 779.5,991.4 780.0,987.4 780.5,985.7 781.0,990.6 781.5,992.6 782.0,991.7 782.5,988.4 783.0,996.0 783.5,1002.1 784.0,997.0 784.5,1000.6 785.0,989.6 785.5,1000.7 786.0,1001.8 786.5,996.2 787.0,993.9 787.5,1006.5 788.0,1000.2 788.5,1008.0 789.0,1003.5 789.5,1009.9 790.0,1005.2 790.5,999.3 791.0,1008.0 791.5,1007.4 792.0,1013.8 792.5,1008.4 793.0,1009.7 793.5,1017.7 794.0,1020.4 794.5,1019.1 795.0,1021.6 795.5,1019.3 796.0,1022.0 796.5,1023.4 797.0,1021.6 797.5,1020.3 798.0,1021.4 798.5,1034.6 799.0,1021.7 799.5,1020.8 800.0,1020.6 800.5,1022.9 801.0,1024.9 801.5,1017.6 802.0,1013.2 802.5,1026.3 803.0,1016.0 803.5,1026.9 804.0,1026.5 804.5,1032.6 805.0,1035.8 805.5,1028.8 806.0,1024.0 806.5,1020.9 807.0,1023.4 807.5,1028.4 808.0,1017.0 808.5,1029.4 809.0,1029.3 809.5,1033.4 810.0,1028.3 810.5,1031.1 811.0,1026.8 811.5,1028.7 812.0,1021.7 812.5,1032.6 813.0,1040.9 813.5,1033.4 814.0,1034.7 814.5,1027.3 815.0,1040.9 815.5,1028.6 816.0,1037.3 816.5,1033.3 817.0,1027.2 817.5,1038.0 818.0,1032.0 818.5,1032.6 819.0,1033.7 819.5,1030.5 820.0,1028.1 820.5,1032.3 821.0,1026.9 821.5,1029.0 822.0,1024.3 822.5,1019.2 823.0,1023.3 823.5,1023.8 824.0,1026.2 824.5,1032.4 825.0,1015.9 825.5,1025.6 826.0,1012.1 826.5,1018.2 827.0,1020.7 827.5,1010.5 828.0,1012.3 828.5,1023.1 829.0,1022.2 829.5,1020.7 830.0,1016.4 830.5,1032.6 831.0,1019.3 831.5,1015.0 832.0,1028.9 832.5,1022.6 833.0,1016.8 833.5,1025.3 834.0,1019.2 834.5,1021.7 835.0,1019.2 835.5,1011.8 836.0,1022.8 836.5,1018.0 837.0,1011.2 837.5,1012.4 838.0,1021.9 838.5,1014.3 839.0,1016.5 839.5,1019.9 840.0,1016.9 840.5,1007.7 841.0,1019.9 841.5,1021.7 842.0,1021.5 842.5,1025.9 843.0,1019.2 843.5,1021.8 844.0,1026.7 844.5,1016.5 845.0,1028.3 845.5,1028.6 846.0,1023.7 846.5,1030.0 847.0,1024.9 847.5,1015.6 848.0,1027.2 848.5,1023.1 849.0,1023.9 849.5,1022.7 850.0,1029.7 850.5,1025.5 851.0,1018.7 851.5,1025.5 852.0,1027.0 852.5,1019.1 853.0,1020.9 853.5,1021.4 854.0,1020.3 854.5,1025.8 855.0,1029.7 855.5,1034.8 856.0,1031.1 856.5,1030.3 857.0,1031.1 857.5,1032.3 858.0,1022.9 858.5,1029.0 859.0,1027.1 859.5,1024.7 860.0,1023.0 860.5,1022.8 861.0,1024.3 861.5,1019.0 862.0,1028.9 862.5,1026.0 863.0,1026.8 863.5,1028.2 864.0,1030.5 864.5,1023.2 865.0,1026.0 865.5,1017.6 866.0,1014.3 866.5,1015.9 867.0,1035.4 867.5,1016.6 868.0,1029.5 868.5,1035.2 869.0,1024.4 869.5,1036.2 870.0,1037.4 870.5,1032.4 871.0,1040.5 871.5,1030.7 872.0,1023.2 872.5,1030.3 873.0,1025.0 873.5,1020.2 874.0,1020.5 874.5,1040.7 875.0,1025.0 875.5,1028.2 876.0,1024.9 876.5,1029.9 877.0,1028.2 877.5,1027.8 878.0,1023.8 878.5,1023.3 879.0,1027.6 879.5,1034.1 880.0,1044.7 880.5,1039.6 881.0,1044.5 881.5,1037.6 882.0,1034.9 882.5,1028.5 883.0,1036.5 883.5,1024.9 884.0,1035.6 884.5,1046.7 885.0,1039.7 885.5,1044.4 886.0,1036.0 886.5,1030.5 887.0,1035.5 887.5,1035.9 888.0,1044.8 888.5,1049.1 889.0,1033.8 889.5,1035.8 890.0,1036.9 890.5,1035.6 891.0,1030.4 891.5,1037.8 892.0,1039.1 892.5,1039.0 893.0,1029.9 893.5,1035.8 894.0,1026.3 894.5,1040.5 895.0,1028.9 895.5,1032.1 896.0,1030.1 896.5,1028.2 897.0,1024.4 897.5,1019.3 898.0,1037.8 898.5,1028.5 899.0,1027.6 899.5,1037.0 900.0,1024.0 900.5,1027.2 901.0,1023.8 901.5,1029.9 902.0,1025.7 902.5,1024.3 903.0,1020.7 903.5,1023.4 904.0,1028.0 904.5,1009.6 905.0,1020.2 905.5,1018.3 906.0,1018.7 906.5,1009.0 907.0,1023.9 907.5,1014.9 908.0,1018.1 908.5,1016.3 909.0,1009.5 909.5,1016.2 910.0,1008.1 910.5,1012.9 911.0,1016.2 911.5,1017.8 912.0,1017.9 912.5,1016.6 913.0,1029.1 913.5,1019.3 914.0,1009.9 914.5,1013.1 915.0,1012.7 915.5,1015.3 916.0,1012.8 916.5,1011.2 917.0,1025.1 917.5,1015.9 918.0,1013.7 918.5,1013.9 919.0,1013.9 919.5,1022.7 920.0,1017.4 920.5,1020.7 921.0,996.6 921.5,1015.5 922.0,1019.0 922.5,1023.2 923.0,1011.1 923.5,999.9 924.0,1011.2 924.5,1002.8 925.0,994.2 925.5,998.8 926.0,1006.3 926.5,1005.1 927.0,1000.3 927.5,988.0 928.0,1005.2 928.5,981.7 929.0,985.1 929.5,974.9 930.0,988.3 930.5,981.5 931.0,982.1 931.5,975.8 932.0,973.2 932.5,973.2 933.0,960.7 933.5,976.4 934.0,976.0 934.5,968.9 935.0,971.5 935.5,973.8 936.0,981.6 936.5,975.9 937.0,974.5 937.5,972.2 938.0,967.4 938.5,973.2 939.0,977.6 939.5,976.4 940.0,979.0 940.5,983.5 941.0,982.6 941.5,982.5 942.0,985.5 942.5,983.7 943.0,983.2 943.5,986.7 944.0,975.0 944.5,992.1 945.0,978.3 945.5,990.4 946.0,985.8 946.5,991.9 947.0,985.7 947.5,979.9 948.0,990.8 948.5,985.5 949.0,984.7 949.5,984.1 950.0,988.8 950.5,987.4 951.0,983.9 951.5,973.7 952.0,980.0 952.5,982.9 953.0,992.6 953.5,985.0 954.0,982.7 954.5,990.5 955.0,983.7 955.5,984.9 956.0,986.6 956.5,978.2 957.0,992.7 957.5,990.5 958.0,987.4 958.5,983.4 959.0,992.0 959.5,999.9 960.0,989.8 960.5,988.8 961.0,998.6 961.5,988.8 962.0,986.8 962.5,998.2 963.0,998.2 963.5,1001.9 964.0,1001.6 964.5,1007.8 965.0,1006.0 965.5,1005.2 966.0,1007.2 966.5,1014.6 967.0,1017.6 967.5,1018.4 968.0,1018.3 968.5,996.8 969.0,1010.5 969.5,1015.2 970.0,1018.9 970.5,1009.5 971.0,1027.3 971.5,1021.7 972.0,1017.3 972.5,1022.3 973.0,1020.1 973.5,1018.3 974.0,1026.0 974.5,1021.0 975.0,1016.1 975.5,1020.8 976.0,1024.0 976.5,1018.8 977.0,1032.2 977.5,1019.3 978.0,1035.5 978.5,1030.9 979.0,1020.8 979.5,1027.1 980.0,1033.2 980.5,1025.7 981.0,1020.2 981.5,1027.7 982.0,1038.4 982.5,1019.1 983.0,1030.6 983.5,1027.7 984.0,1027.1 984.5,1025.7 985.0,1026.1 985.5,1033.8 986.0,1031.3 986.5,1022.4 987.0,1036.7 987.5,1020.7 988.0,1031.6 988.5,1028.9 989.0,1034.5 989.5,1029.8 990.0,1033.6 990.5,1027.5 991.0,1033.0 991.5,1029.4 992.0,1039.4 992.5,1023.4 993.0,1033.9 993.5,1029.7 994.0,1028.0 994.5,1023.8 995.0,1029.4 995.5,1018.5 996.0,1019.0 996.5,1030.6 997.0,1017.8 997.5,1034.5 998.0,1024.9 998.5,1027.8 999.0,1026.8 999.5,1028.7 1000.0,1024.8 1000.5,1024.3 1001.0,1025.6 1001.5,1032.3 1002.0,1032.8 1002.5,1033.7 1003.0,1028.7 1003.5,1025.7 1004.0,1017.5 1004.5,1030.7 1005.0,1032.0 1005.5,1025.2 1006.0,1032.1 1006.5,1035.0 1007.0,1028.6 1007.5,1034.2 1008.0,1030.2 1008.5,1019.0 1009.0,1026.3 1009.5,1026.8 1010.0,1032.3 1010.5,1024.7 1011.0,1027.3 1011.5,1024.6 1012.0,1030.0 1012.5,1030.8 1013.0,1036.0 1013.5,1035.2 1014.0,1031.8 1014.5,1032.4 1015.0,1031.8 1015.5,1031.9 1016.0,1040.0 1016.5,1017.5 1017.0,1030.5 1017.5,1033.3 1018.0,1037.9 1018.5,1025.4 1019.0,1033.5 1019.5,1036.4 1020.0,1029.0 1020.5,1020.8 1021.0,1029.5 1021.5,1024.8 1022.0,1035.2 1022.5,1026.8 1023.0,1041.5 1023.5,1032.3 1024.0,1027.0 1024.5,1028.7 1025.0,1025.4 1025.5,1033.7 1026.0,1039.9 1026.5,1030.3 1027.0,1036.7 1027.5,1026.3 1028.0,1033.3 1028.5,1044.4 1029.0,1023.7 1029.5,1038.4 1030.0,1038.1 1030.5,1021.0 1031.0,1023.5 1031.5,1026.1 1032.0,1037.0 1032.5,1029.1 1033.0,1030.6 1033.5,1035.5 1034.0,1032.2 1034.5,1032.8 1035.0,1029.7 1035.5,1037.8 1036.0,1027.2 1036.5,1040.9 1037.0,1029.5 1037.5,1026.9 1038.0,1034.9 1038.5,1033.7 1039.0,1020.0 1039.5,1032.3 1040.0,1023.3 1040.5,1026.1 1041.0,1035.1 1041.5,1025.7 1042.0,1032.4 1042.5,1028.1 1043.0,1040.9 1043.5,1029.4 1044.0,1023.2 1044.5,1023.4 1045.0,1024.4 1045.5,1030.0 1046.0,1029.2 1046.5,1034.5 1047.0,1029.8 1047.5,1029.5 1048.0,1030.5 1048.5,1027.8 1049.0,1030.1 1049.5,1032.7 1050.0,1032.6 1050.5,1025.1 1051.0,1018.2 1051.5,1023.5 1052.0,1029.6 1052.5,1014.0 1053.0,1025.3 1053.5,1030.5 1054.0,1024.8 1054.5,1021.7 1055.0,1037.9 1055.5,1035.8 1056.0,1026.7 1056.5,1035.6 1057.0,1035.5 1057.5,1022.0 1058.0,1043.4 1058.5,1023.2 1059.0,1027.1 1059.5,1022.5 1060.0,1029.2 1060.5,1021.5 1061.0,1028.9 1061.5,1035.1 1062.0,1030.4 1062.5,1027.8 1063.0,1038.0 1063.5,1024.5 1064.0,1035.0 1064.5,1028.0 1065.0,1031.0 1065.5,1030.0 1066.0,1030.7 1066.5,1029.8 1067.0,1025.8 1067.5,1027.0 1068.0,1032.8 1068.5,1029.8 1069.0,1023.9 1069.5,1026.5 1070.0,1026.7 1070.5,1030.3 1071.0,1031.6 1071.5,1031.2 1072.0,1027.0 1072.5,1030.8 1073.0,1023.1 1073.5,1014.6 1074.0,1030.5 1074.5,1021.6 1075.0,1025.6 1075.5,1024.2 1076.0,1034.5 1076.5,1024.2 1077.0,1032.6 1077.5,1028.3 1078.0,1024.1 1078.5,1022.3 1079.0,1033.7 1079.5,1033.3 1080.0,1035.5 1080.5,1041.4 1081.0,1032.7 1081.5,1032.8 1082.0,1030.5 1082.5,1031.8 1083.0,1029.2 1083.5,1026.2 1084.0,1042.4 1084.5,1020.8 1085.0,1032.6 1085.5,1033.5 1086.0,1031.7 1086.5,1025.2 1087.0,1029.2 1087.5,1027.3 1088.0,1023.4 1088.5,1028.7 1089.0,1026.2 1089.5,1024.9 1090.0,1031.3 1090.5,1021.0 1091.0,1028.9 1091.5,1022.4 1092.0,1027.7 1092.5,1025.2 1093.0,1025.6 1093.5,1018.3 1094.0,1019.0 1094.5,1018.1 1095.0,1023.4 1095.5,1026.1 1096.0,1027.5 1096.5,1018.2 1097.0,1021.0 1097.5,1011.0 1098.0,1007.1 1098.5,1014.0 1099.0,1014.5 1099.5,1009.0 1100.0,1007.1 1100.5,1019.0 1101.0,1011.0 1101.5,1005.4 1102.0,1025.9 1102.5,1013.4 1103.0,1009.7 1103.5,1013.5 1104.0,1004.7 1104.5,1014.6 1105.0,997.5 1105.5,996.5 1106.0,999.4 1106.5,993.7 1107.0,998.3 1107.5,979.6 1108.0,975.7 1108.5,971.3 1109.0,964.5 1109.5,958.0 1110.0,947.7 1110.5,944.1 1111.0,928.3 1111.5,921.0 1112.0,913.0 1112.5,900.7 1113.0,890.7 1113.5,881.0 1114.0,872.6 1114.5,863.7 1115.0,856.4 1115.5,849.1 1116.0,848.9 1116.5,849.6 1117.0,861.6 1117.5,871.9 1118.0,883.0 1118.5,894.9 1119.0,912.9 1119.5,935.0 1120.0,948.0 1120.5,960.8 1121.0,968.6 1121.5,982.5 1122.0,985.2 1122.5,994.5 1123.0,994.7 1123.5,1003.8 1124.0,1012.7 1124.5,1012.2 1125.0,1013.7 1125.5,1020.1 1126.0,1017.3 1126.5,1024.3 1127.0,1007.7 1127.5,1022.7 1128.0,1023.0 1128.5,1013.1 1129.0,1014.7 1129.5,1026.5 1130.0,1016.6 1130.5,1019.3 1131.0,1026.3 1131.5,1021.7 1132.0,1026.6 1132.5,1019.7 1133.0,1026.6 1133.5,1031.5 1134.0,1027.8 1134.5,1014.3 1135.0,1030.6 1135.5,1027.8 1136.0,1022.9 1136.5,1036.1 1137.0,1019.1 1137.5,1039.6 1138.0,1026.0 1138.5,1038.6 1139.0,1029.9 1139.5,1023.0 1140.0,1031.1 1140.5,1032.6 1141.0,1033.9 1141.5,1036.9 1142.0,1026.2 1142.5,1034.0 1143.0,1035.5 1143.5,1030.0 1144.0,1026.4 1144.5,1026.4 1145.0,1036.0 1145.5,1036.4 1146.0,1027.4 1146.5,1024.6 1147.0,1039.1 1147.5,1023.6 1148.0,1033.2 1148.5,1027.9 1149.0,1022.6 1149.5,1033.1 1150.0,1031.4 1150.5,1040.6 1151.0,1045.2 1151.5,1031.5 1152.0,1038.3" fill="none" stroke="#ffc010" stroke-width="3.0" stroke-linejoin="round" stroke-linecap="butt" clip-path="url(#clipb)"/>
<polyline points="1220.7,372.5 1221.2,368.9 1221.7,368.1 1222.2,373.7 1222.7,369.1 1223.2,369.9 1223.7,369.2 1224.2,369.5 1224.7,368.4 1225.2,371.4 1225.7,372.6 1226.2,368.8 1226.7,366.4 1227.2,369.7 1227.7,366.1 1228.2,368.0 1228.7,372.2 1229.2,374.7 1229.7,370.2 1230.2,366.9 1230.7,371.0 1231.2,364.1 1231.7,367.6 1232.2,372.6 1232.7,370.8 1233.2,365.9 1233.7,365.2 1234.2,371.0 1234.7,368.9 1235.2,367.6 1235.7,369.8 1236.2,367.5 1236.7,364.4 1237.2,370.6 1237.7,367.3 1238.2,366.4 1238.7,365.7 1239.2,369.3 1239.7,366.8 1240.2,370.1 1240.7,368.0 1241.2,371.1 1241.7,367.7 1242.2,367.0 1242.7,364.0 1243.2,366.0 1243.7,370.1 1244.2,375.5 1244.7,365.6 1245.2,366.1 1245.7,369.2 1246.2,369.5 1246.7,366.9 1247.2,368.6 1247.7,364.7 1248.2,367.7 1248.7,370.4 1249.2,372.1 1249.7,368.0 1250.2,367.8 1250.7,369.4 1251.2,370.9 1251.7,369.5 1252.2,366.7 1252.7,369.2 1253.2,370.6 1253.7,366.8 1254.2,365.3 1254.7,369.6 1255.2,369.2 1255.7,370.6 1256.2,368.6 1256.7,366.9 1257.2,367.4 1257.7,366.1 1258.2,366.3 1258.7,367.1 1259.2,367.3 1259.7,371.0 1260.2,365.6 1260.7,368.3 1261.2,367.1 1261.7,371.9 1262.2,369.1 1262.7,367.6 1263.2,370.4 1263.7,368.7 1264.2,367.4 1264.7,372.0 1265.2,370.1 1265.7,372.5 1266.2,371.2 1266.7,370.3 1267.2,368.9 1267.7,366.1 1268.2,370.2 1268.7,368.8 1269.2,370.1 1269.7,368.6 1270.2,367.0 1270.7,366.3 1271.2,370.2 1271.7,371.6 1272.2,368.0 1272.7,369.7 1273.2,371.8 1273.7,366.8 1274.2,367.9 1274.7,366.1 1275.2,371.4 1275.7,369.3 1276.2,367.7 1276.7,365.0 1277.2,368.3 1277.7,371.0 1278.2,368.1 1278.7,367.8 1279.2,370.3 1279.7,366.0 1280.2,368.9 1280.7,370.2 1281.2,367.1 1281.7,367.0 1282.2,369.4 1282.7,368.6 1283.2,368.3 1283.7,369.4 1284.2,369.4 1284.7,366.8 1285.2,367.4 1285.7,369.9 1286.2,371.5 1286.7,372.0 1287.2,367.0 1287.7,371.5 1288.2,370.7 1288.7,368.9 1289.2,370.1 1289.7,370.9 1290.2,373.1 1290.7,366.6 1291.2,370.4 1291.7,368.7 1292.2,368.6 1292.7,371.7 1293.2,371.0 1293.7,366.8 1294.2,368.5 1294.7,369.7 1295.2,365.9 1295.7,371.1 1296.2,369.0 1296.7,369.6 1297.2,370.0 1297.7,373.3 1298.2,369.3 1298.7,368.4 1299.2,373.2 1299.7,368.1 1300.2,368.1 1300.7,366.1 1301.2,371.8 1301.7,369.9 1302.2,370.4 1302.7,369.7 1303.2,369.1 1303.7,367.6 1304.2,367.6 1304.7,370.4 1305.2,369.7 1305.7,373.1 1306.2,367.7 1306.7,368.3 1307.2,367.1 1307.7,372.6 1308.2,366.7 1308.7,371.3 1309.2,372.8 1309.7,369.2 1310.2,371.2 1310.7,364.7 1311.2,368.7 1311.7,365.8 1312.2,370.0 1312.7,369.6 1313.2,367.8 1313.7,371.7 1314.2,370.4 1314.7,368.4 1315.2,368.4 1315.7,366.3 1316.2,369.2 1316.7,374.4 1317.2,368.0 1317.7,370.6 1318.2,368.4 1318.7,371.5 1319.2,370.6 1319.7,369.1 1320.2,365.6 1320.7,368.5 1321.2,372.4 1321.7,369.1 1322.2,371.1 1322.7,368.5 1323.2,365.4 1323.7,370.6 1324.2,370.4 1324.7,368.3 1325.2,368.8 1325.7,370.3 1326.2,368.3 1326.7,370.4 1327.2,369.1 1327.7,364.2 1328.2,369.3 1328.7,368.2 1329.2,367.7 1329.7,370.5 1330.2,368.4 1330.7,370.8 1331.2,372.0 1331.7,369.8 1332.2,366.0 1332.7,367.8 1333.2,371.6 1333.7,368.9 1334.2,367.6 1334.7,369.2 1335.2,370.6 1335.7,370.0 1336.2,370.9 1336.7,367.5 1337.2,368.7 1337.7,368.8 1338.2,369.3 1338.7,364.5 1339.2,368.6 1339.7,366.0 1340.2,372.1 1340.7,372.3 1341.2,372.4 1341.7,370.2 1342.2,367.1 1342.7,370.1 1343.2,367.3 1343.7,368.8 1344.2,365.1 1344.7,365.6 1345.2,367.7 1345.7,370.4 1346.2,366.0 1346.7,371.0 1347.2,371.8 1347.7,362.4 1348.2,364.9 1348.7,362.6 1349.2,364.2 1349.7,363.0 1350.2,363.7 1350.7,365.8 1351.2,365.4 1351.7,363.6 1352.2,362.6 1352.7,362.6 1353.2,362.2 1353.7,362.9 1354.2,361.2 1354.7,362.0 1355.2,357.4 1355.7,361.8 1356.2,363.5 1356.7,359.6 1357.2,355.5 1357.7,361.3 1358.2,356.9 1358.7,350.3 1359.2,356.1 1359.7,357.3 1360.2,356.2 1360.7,357.5 1361.2,355.4 1361.7,353.6 1362.2,348.1 1362.7,349.4 1363.2,351.6 1363.7,352.0 1364.2,347.4 1364.7,347.6 1365.2,349.2 1365.7,343.0 1366.2,342.0 1366.7,345.0 1367.2,345.2 1367.7,342.6 1368.2,337.6 1368.7,342.0 1369.2,338.1 1369.7,341.8 1370.2,339.3 1370.7,339.4 1371.2,339.5 1371.7,336.1 1372.2,338.4 1372.7,338.5 1373.2,335.9 1373.7,337.4 1374.2,332.5 1374.7,335.7 1375.2,334.0 1375.7,331.1 1376.2,333.3 1376.7,332.5 1377.2,332.8 1377.7,334.7 1378.2,337.4 1378.7,334.7 1379.2,336.3 1379.7,333.2 1380.2,337.4 1380.7,340.4 1381.2,340.3 1381.7,340.3 1382.2,339.0 1382.7,339.0 1383.2,342.1 1383.7,340.4 1384.2,341.8 1384.7,347.9 1385.2,344.7 1385.7,351.8 1386.2,345.4 1386.7,350.4 1387.2,347.6 1387.7,351.5 1388.2,349.6 1388.7,352.8 1389.2,353.2 1389.7,353.2 1390.2,356.1 1390.7,359.0 1391.2,354.8 1391.7,358.7 1392.2,357.4 1392.7,357.5 1393.2,363.0 1393.7,353.4 1394.2,357.2 1394.7,355.0 1395.2,358.7 1395.7,359.2 1396.2,368.7 1396.7,361.1 1397.2,364.7 1397.7,363.8 1398.2,360.1 1398.7,362.5 1399.2,365.4 1399.7,362.2 1400.2,362.5 1400.7,363.4 1401.2,359.1 1401.7,360.9 1402.2,363.7 1402.7,364.3 1403.2,361.2 1403.7,362.7 1404.2,363.4 1404.7,363.5 1405.2,365.6 1405.7,364.4 1406.2,364.7 1406.7,361.2 1407.2,362.2 1407.7,365.5 1408.2,361.3 1408.7,365.7 1409.2,363.7 1409.7,363.5 1410.2,367.0 1410.7,364.1 1411.2,363.8 1411.7,364.4 1412.2,366.2 1412.7,372.5 1413.2,361.6 1413.7,366.5 1414.2,366.2 1414.7,369.1 1415.2,366.2 1415.7,361.6 1416.2,370.4 1416.7,365.0 1417.2,367.5 1417.7,364.7 1418.2,365.5 1418.7,367.0 1419.2,370.2 1419.7,370.3 1420.2,367.2 1420.7,369.8 1421.2,367.9 1421.7,369.2 1422.2,369.4 1422.7,370.5 1423.2,367.8 1423.7,369.0 1424.2,369.9 1424.7,369.7 1425.2,367.7 1425.7,373.5 1426.2,368.6 1426.7,371.4 1427.2,370.2 1427.7,372.6 1428.2,364.8 1428.7,374.6 1429.2,369.4 1429.7,367.1 1430.2,370.3 1430.7,375.2 1431.2,371.2 1431.7,367.3 1432.2,369.1 1432.7,373.3 1433.2,367.0 1433.7,369.9 1434.2,369.6 1434.7,375.3 1435.2,369.7 1435.7,373.4 1436.2,368.9 1436.7,368.6 1437.2,372.8 1437.7,371.9 1438.2,366.6 1438.7,372.0 1439.2,372.0 1439.7,369.2 1440.2,371.1 1440.7,371.2 1441.2,369.5 1441.7,369.3 1442.2,369.1 1442.7,370.0 1443.2,367.6 1443.7,370.5 1444.2,367.2 1444.7,370.8 1445.2,370.4 1445.7,368.2 1446.2,372.5 1446.7,375.0 1447.2,373.6 1447.7,367.4 1448.2,373.4 1448.7,371.0 1449.2,370.3 1449.7,369.1 1450.2,370.4 1450.7,373.6 1451.2,371.6 1451.7,369.4 1452.2,368.8 1452.7,369.3 1453.2,371.6 1453.7,374.5 1454.2,367.8 1454.7,370.1 1455.2,369.2 1455.7,368.3 1456.2,370.9 1456.7,371.3 1457.2,366.7 1457.7,367.6 1458.2,372.6 1458.7,370.6 1459.2,371.0 1459.7,368.6 1460.2,368.9 1460.7,370.7 1461.2,368.5 1461.7,367.1 1462.2,369.6 1462.7,371.6 1463.2,367.1 1463.7,371.8 1464.2,370.9 1464.7,367.3 1465.2,369.2 1465.7,369.1 1466.2,370.5 1466.7,370.5 1467.2,366.0 1467.7,365.8 1468.2,371.2 1468.7,369.0 1469.2,369.6 1469.7,369.3 1470.2,372.0 1470.7,365.7 1471.2,370.8 1471.7,366.4 1472.2,369.8 1472.7,371.1 1473.2,364.8 1473.7,368.8 1474.2,367.1 1474.7,367.0 1475.2,367.7 1475.7,365.1 1476.2,365.2 1476.7,368.8 1477.2,369.1 1477.7,365.8 1478.2,363.6 1478.7,372.1 1479.2,369.2 1479.7,367.4 1480.2,364.1 1480.7,365.0 1481.2,366.8 1481.7,363.9 1482.2,369.6 1482.7,366.1 1483.2,366.5 1483.7,363.1 1484.2,363.2 1484.7,363.3 1485.2,365.6 1485.7,364.1 1486.2,363.9 1486.7,365.0 1487.2,364.6 1487.7,367.2 1488.2,363.1 1488.7,361.0 1489.2,362.9 1489.7,365.9 1490.2,360.9 1490.7,361.8 1491.2,360.4 1491.7,361.6 1492.2,360.6 1492.7,357.6 1493.2,358.2 1493.7,360.2 1494.2,359.7 1494.7,358.5 1495.2,357.5 1495.7,353.8 1496.2,352.6 1496.7,354.2 1497.2,347.9 1497.7,348.9 1498.2,343.1 1498.7,344.6 1499.2,341.9 1499.7,338.8 1500.2,340.7 1500.7,335.5 1501.2,333.7 1501.7,331.2 1502.2,327.0 1502.7,328.6 1503.2,320.8 1503.7,318.8 1504.2,311.6 1504.7,309.6 1505.2,305.6 1505.7,300.8 1506.2,295.1 1506.7,291.4 1507.2,289.2 1507.7,280.1 1508.2,275.0 1508.7,269.4 1509.2,271.0 1509.7,263.9 1510.2,256.5 1510.7,251.9 1511.2,244.0 1511.7,240.2 1512.2,235.9 1512.7,230.9 1513.2,224.6 1513.7,221.6 1514.2,221.8 1514.7,218.7 1515.2,210.9 1515.7,213.9 1516.2,215.2 1516.7,210.3 1517.2,212.4 1517.7,209.2 1518.2,215.3 1518.7,212.1 1519.2,213.1 1519.7,216.7 1520.2,224.2 1520.7,218.7 1521.2,218.4 1521.7,223.5 1522.2,224.2 1522.7,228.6 1523.2,223.3 1523.7,223.8 1524.2,227.8 1524.7,230.5 1525.2,231.6 1525.7,234.2 1526.2,229.2 1526.7,231.5 1527.2,233.8 1527.7,236.8 1528.2,236.8 1528.7,235.5 1529.2,234.8 1529.7,239.7 1530.2,240.4 1530.7,244.8 1531.2,238.6 1531.7,242.9 1532.2,236.5 1532.7,238.0 1533.2,237.7 1533.7,238.1 1534.2,237.2 1534.7,237.9 1535.2,238.9 1535.7,238.0 1536.2,240.4 1536.7,238.6 1537.2,238.7 1537.7,241.9 1538.2,239.2 1538.7,238.8 1539.2,238.2 1539.7,238.1 1540.2,238.9 1540.7,235.2 1541.2,238.9 1541.7,239.1 1542.2,237.2 1542.7,232.5 1543.2,228.9 1543.7,230.3 1544.2,230.4 1544.7,230.1 1545.2,225.4 1545.7,222.1 1546.2,222.8 1546.7,214.5 1547.2,215.2 1547.7,212.0 1548.2,204.4 1548.7,205.6 1549.2,201.4 1549.7,198.2 1550.2,193.9 1550.7,192.3 1551.2,194.6 1551.7,190.6 1552.2,189.8 1552.7,184.5 1553.2,183.9 1553.7,181.8 1554.2,176.7 1554.7,174.2 1555.2,176.9 1555.7,174.2 1556.2,169.9 1556.7,170.0 1557.2,170.2 1557.7,171.3 1558.2,163.8 1558.7,165.9 1559.2,168.0 1559.7,162.1 1560.2,163.9 1560.7,153.4 1561.2,160.9 1561.7,156.0 1562.2,149.9 1562.7,153.8 1563.2,152.2 1563.7,150.3 1564.2,147.8 1564.7,142.6 1565.2,138.6 1565.7,136.9 1566.2,135.4 1566.7,133.9 1567.2,129.3 1567.7,128.0 1568.2,127.3 1568.7,123.6 1569.2,125.5 1569.7,122.8 1570.2,112.9 1570.7,111.8 1571.2,107.6 1571.7,105.4 1572.2,106.6 1572.7,100.3 1573.2,97.2 1573.7,95.8 1574.2,95.1 1574.7,89.4 1575.2,86.4 1575.7,86.2 1576.2,82.2 1576.7,79.5 1577.2,78.6 1577.7,72.6 1578.2,74.1 1578.7,71.8 1579.2,76.0 1579.7,76.6 1580.2,73.8 1580.7,80.9 1581.2,77.0 1581.7,84.0 1582.2,83.5 1582.7,82.8 1583.2,84.1 1583.7,87.9 1584.2,90.6 1584.7,91.2 1585.2,96.4 1585.7,94.3 1586.2,100.1 1586.7,102.9 1587.2,101.6 1587.7,109.6 1588.2,109.2 1588.7,109.6 1589.2,117.0 1589.7,121.2 1590.2,127.3 1590.7,127.7 1591.2,135.7 1591.7,139.2 1592.2,142.0 1592.7,146.0 1593.2,147.4 1593.7,148.9 1594.2,155.1 1594.7,159.4 1595.2,161.2 1595.7,163.6 1596.2,163.9 1596.7,172.3 1597.2,174.9 1597.7,174.4 1598.2,180.9 1598.7,185.5 1599.2,186.7 1599.7,191.8 1600.2,194.8 1600.7,192.6 1601.2,198.2 1601.7,202.8 1602.2,206.6 1602.7,210.4 1603.2,205.6 1603.7,212.4 1604.2,216.8 1604.7,220.6 1605.2,224.2 1605.7,220.7 1606.2,224.4 1606.7,225.3 1607.2,231.9 1607.7,229.3 1608.2,237.3 1608.7,239.0 1609.2,240.2 1609.7,236.5 1610.2,242.1 1610.7,247.6 1611.2,245.0 1611.7,250.0 1612.2,252.7 1612.7,257.3 1613.2,258.3 1613.7,260.6 1614.2,261.3 1614.7,264.6 1615.2,266.6 1615.7,270.8 1616.2,270.9 1616.7,275.8 1617.2,271.6 1617.7,280.1 1618.2,278.9 1618.7,283.6 1619.2,283.0 1619.7,286.5 1620.2,289.7 1620.7,286.8 1621.2,290.0 1621.7,291.3 1622.2,294.0 1622.7,291.8 1623.2,297.2 1623.7,299.2 1624.2,300.2 1624.7,303.7 1625.2,302.7 1625.7,311.4 1626.2,311.1 1626.7,316.0 1627.2,311.3 1627.7,312.1 1628.2,316.8 1628.7,313.7 1629.2,319.3 1629.7,318.4 1630.2,320.5 1630.7,323.0 1631.2,323.7 1631.7,329.0 1632.2,327.3 1632.7,324.1 1633.2,330.3 1633.7,326.2 1634.2,330.6 1634.7,328.6 1635.2,330.7 1635.7,336.6 1636.2,333.4 1636.7,334.2 1637.2,335.3 1637.7,336.8 1638.2,341.7 1638.7,336.5 1639.2,337.2 1639.7,342.0 1640.2,337.8 1640.7,341.3 1641.2,345.4 1641.7,343.4 1642.2,343.0 1642.7,343.1 1643.2,343.2 1643.7,344.5 1644.2,346.7 1644.7,349.8 1645.2,349.7 1645.7,346.7 1646.2,346.9 1646.7,350.6 1647.2,345.5 1647.7,349.2 1648.2,350.0 1648.7,348.8 1649.2,349.6 1649.7,353.1 1650.2,349.1 1650.7,351.2 1651.2,352.2 1651.7,354.1 1652.2,351.1 1652.7,356.8 1653.2,353.7 1653.7,353.9 1654.2,353.8 1654.7,353.1 1655.2,352.5 1655.7,357.4 1656.2,355.3 1656.7,354.6 1657.2,357.2 1657.7,353.4 1658.2,356.5 1658.7,355.1 1659.2,353.1 1659.7,356.8 1660.2,351.7 1660.7,356.6 1661.2,353.1 1661.7,356.1 1662.2,358.3 1662.7,356.3 1663.2,353.6 1663.7,354.7 1664.2,353.8 1664.7,351.7 1665.2,351.6 1665.7,354.0 1666.2,354.8 1666.7,349.2 1667.2,352.7 1667.7,353.6 1668.2,352.3 1668.7,349.3 1669.2,353.3 1669.7,347.3 1670.2,350.4 1670.7,351.2 1671.2,341.5 1671.7,345.3 1672.2,344.0 1672.7,342.5 1673.2,339.2 1673.7,339.1 1674.2,335.4 1674.7,337.7 1675.2,337.5 1675.7,333.8 1676.2,332.5 1676.7,333.1 1677.2,334.1 1677.7,334.4 1678.2,334.3 1678.7,335.2 1679.2,332.6 1679.7,330.0 1680.2,338.3 1680.7,340.8 1681.2,335.2 1681.7,337.6 1682.2,340.5 1682.7,342.9 1683.2,343.3 1683.7,345.8 1684.2,344.0 1684.7,346.1 1685.2,347.2 1685.7,346.2 1686.2,350.7 1686.7,350.0 1687.2,351.3 1687.7,348.8 1688.2,352.5 1688.7,348.3 1689.2,352.1 1689.7,345.8 1690.2,349.8 1690.7,354.2 1691.2,351.9 1691.7,353.6 1692.2,349.9 1692.7,357.4 1693.2,355.5 1693.7,354.4 1694.2,355.7 1694.7,355.7 1695.2,358.3 1695.7,355.8 1696.2,352.2 1696.7,355.1 1697.2,358.7 1697.7,357.2 1698.2,355.1 1698.7,357.5 1699.2,356.5 1699.7,357.7 1700.2,352.8 1700.7,354.5 1701.2,358.1 1701.7,356.2 1702.2,357.6 1702.7,361.3 1703.2,356.3 1703.7,357.7 1704.2,356.0 1704.7,356.0 1705.2,357.4 1705.7,354.5 1706.2,353.3 1706.7,361.4 1707.2,358.5 1707.7,361.7 1708.2,359.9 1708.7,360.4 1709.2,362.1 1709.7,362.8 1710.2,359.0 1710.7,365.0 1711.2,360.6 1711.7,363.8 1712.2,369.6 1712.7,364.5 1713.2,368.6 1713.7,364.4 1714.2,367.0 1714.7,366.1 1715.2,367.2 1715.7,364.7 1716.2,364.8 1716.7,368.0 1717.2,364.0 1717.7,365.9 1718.2,369.5 1718.7,367.0 1719.2,366.6 1719.7,366.4 1720.2,369.4 1720.7,368.5 1721.2,369.9 1721.7,369.3" fill="none" stroke="#046a1c" stroke-width="3.0" stroke-linejoin="round" stroke-linecap="butt" clip-path="url(#clipc)"/>
<polyline points="1220.7,642.5 1221.2,640.3 1221.7,638.8 1222.2,640.8 1222.7,640.6 1223.2,640.8 1223.7,639.0 1224.2,641.7 1224.7,640.5 1225.2,640.5 1225.7,639.0 1226.2,641.0 1226.7,640.4 1227.2,641.8 1227.7,640.1 1228.2,639.3 1228.7,640.6 1229.2,639.5 1229.7,640.8 1230.2,639.3 1230.7,640.3 1231.2,640.1 1231.7,640.3 1232.2,639.8 1232.7,639.5 1233.2,640.2 1233.7,639.7 1234.2,640.4 1234.7,640.0 1235.2,638.1 1235.7,640.2 1236.2,641.6 1236.7,640.5 1237.2,640.8 1237.7,640.6 1238.2,639.7 1238.7,638.8 1239.2,640.9 1239.7,641.1 1240.2,640.6 1240.7,640.5 1241.2,640.4 1241.7,640.0 1242.2,640.3 1242.7,640.0 1243.2,640.3 1243.7,639.1 1244.2,639.4 1244.7,640.5 1245.2,639.6 1245.7,637.6 1246.2,640.0 1246.7,637.7 1247.2,641.7 1247.7,640.6 1248.2,640.5 1248.7,639.2 1249.2,638.7 1249.7,639.6 1250.2,639.8 1250.7,639.0 1251.2,639.9 1251.7,640.4 1252.2,640.3 1252.7,638.7 1253.2,637.6 1253.7,639.7 1254.2,639.1 1254.7,640.1 1255.2,641.2 1255.7,641.2 1256.2,639.9 1256.7,640.7 1257.2,641.2 1257.7,639.6 1258.2,639.9 1258.7,640.4 1259.2,639.5 1259.7,639.1 1260.2,638.8 1260.7,639.5 1261.2,638.9 1261.7,640.3 1262.2,639.2 1262.7,640.9 1263.2,640.6 1263.7,638.3 1264.2,640.5 1264.7,639.0 1265.2,640.7 1265.7,639.9 1266.2,639.4 1266.7,640.0 1267.2,638.8 1267.7,639.7 1268.2,639.7 1268.7,639.2 1269.2,639.7 1269.7,638.4 1270.2,639.8 1270.7,638.1 1271.2,639.9 1271.7,639.7 1272.2,639.9 1272.7,638.7 1273.2,642.1 1273.7,639.0 1274.2,639.4 1274.7,638.5 1275.2,640.5 1275.7,638.7 1276.2,640.1 1276.7,638.2 1277.2,639.4 1277.7,638.8 1278.2,640.0 1278.7,638.8 1279.2,638.3 1279.7,639.5 1280.2,637.9 1280.7,638.1 1281.2,639.8 1281.7,637.3 1282.2,639.7 1282.7,638.6 1283.2,638.1 1283.7,639.2 1284.2,639.6 1284.7,638.4 1285.2,638.8 1285.7,639.7 1286.2,639.6 1286.7,638.9 1287.2,638.2 1287.7,638.0 1288.2,638.3 1288.7,639.5 1289.2,639.4 1289.7,639.1 1290.2,640.1 1290.7,638.5 1291.2,638.4 1291.7,638.4 1292.2,640.6 1292.7,636.8 1293.2,639.0 1293.7,639.2 1294.2,638.8 1294.7,640.9 1295.2,639.8 1295.7,639.4 1296.2,637.8 1296.7,639.1 1297.2,638.3 1297.7,638.7 1298.2,638.8 1298.7,638.2 1299.2,639.2 1299.7,640.1 1300.2,639.6 1300.7,638.8 1301.2,636.8 1301.7,639.6 1302.2,639.6 1302.7,638.4 1303.2,638.1 1303.7,639.1 1304.2,637.7 1304.7,639.2 1305.2,637.5 1305.7,637.6 1306.2,638.5 1306.7,637.1 1307.2,638.4 1307.7,638.9 1308.2,637.2 1308.7,639.3 1309.2,637.9 1309.7,638.9 1310.2,638.6 1310.7,637.9 1311.2,637.8 1311.7,636.7 1312.2,637.7 1312.7,637.6 1313.2,639.8 1313.7,639.2 1314.2,637.0 1314.7,639.0 1315.2,638.4 1315.7,637.9 1316.2,638.6 1316.7,638.9 1317.2,637.6 1317.7,637.9 1318.2,638.3 1318.7,637.2 1319.2,638.3 1319.7,638.0 1320.2,637.5 1320.7,637.3 1321.2,638.4 1321.7,638.9 1322.2,638.4 1322.7,637.2 1323.2,638.7 1323.7,638.2 1324.2,638.5 1324.7,639.1 1325.2,637.1 1325.7,637.8 1326.2,637.4 1326.7,637.1 1327.2,639.8 1327.7,638.8 1328.2,636.3 1328.7,638.3 1329.2,637.4 1329.7,638.9 1330.2,637.9 1330.7,637.7 1331.2,638.0 1331.7,638.2 1332.2,637.8 1332.7,637.6 1333.2,637.7 1333.7,638.3 1334.2,636.7 1334.7,637.8 1335.2,637.6 1335.7,637.3 1336.2,638.4 1336.7,636.5 1337.2,637.3 1337.7,636.9 1338.2,638.2 1338.7,637.2 1339.2,637.7 1339.7,638.0 1340.2,636.1 1340.7,638.0 1341.2,636.8 1341.7,637.3 1342.2,637.4 1342.7,638.2 1343.2,638.2 1343.7,639.1 1344.2,637.6 1344.7,636.9 1345.2,636.9 1345.7,638.0 1346.2,638.8 1346.7,637.6 1347.2,636.7 1347.7,637.5 1348.2,637.4 1348.7,637.1 1349.2,636.3 1349.7,634.5 1350.2,636.3 1350.7,637.7 1351.2,636.8 1351.7,634.4 1352.2,636.4 1352.7,634.5 1353.2,638.0 1353.7,636.2 1354.2,634.7 1354.7,636.5 1355.2,634.8 1355.7,636.0 1356.2,635.3 1356.7,634.1 1357.2,635.7 1357.7,633.7 1358.2,636.0 1358.7,634.7 1359.2,633.6 1359.7,632.7 1360.2,635.8 1360.7,635.6 1361.2,633.0 1361.7,635.6 1362.2,634.1 1362.7,633.7 1363.2,633.8 1363.7,633.6 1364.2,635.1 1364.7,633.9 1365.2,632.0 1365.7,635.7 1366.2,634.5 1366.7,632.6 1367.2,633.3 1367.7,632.8 1368.2,633.6 1368.7,633.9 1369.2,633.8 1369.7,633.0 1370.2,632.8 1370.7,634.3 1371.2,633.4 1371.7,635.6 1372.2,632.7 1372.7,634.2 1373.2,633.5 1373.7,632.7 1374.2,634.7 1374.7,633.5 1375.2,632.6 1375.7,633.1 1376.2,634.3 1376.7,632.2 1377.2,634.6 1377.7,634.0 1378.2,633.1 1378.7,634.6 1379.2,634.9 1379.7,633.9 1380.2,633.4 1380.7,635.0 1381.2,634.7 1381.7,632.4 1382.2,633.0 1382.7,633.0 1383.2,632.8 1383.7,631.8 1384.2,634.0 1384.7,633.2 1385.2,633.2 1385.7,634.4 1386.2,632.6 1386.7,633.0 1387.2,633.3 1387.7,632.6 1388.2,632.9 1388.7,633.7 1389.2,633.0 1389.7,634.2 1390.2,632.2 1390.7,633.1 1391.2,631.5 1391.7,632.6 1392.2,632.0 1392.7,633.9 1393.2,633.2 1393.7,632.9 1394.2,634.0 1394.7,633.5 1395.2,632.7 1395.7,631.2 1396.2,630.4 1396.7,631.6 1397.2,631.1 1397.7,630.7 1398.2,630.9 1398.7,629.5 1399.2,632.4 1399.7,629.8 1400.2,630.1 1400.7,631.2 1401.2,629.0 1401.7,631.3 1402.2,631.2 1402.7,630.0 1403.2,629.2 1403.7,629.8 1404.2,628.5 1404.7,631.5 1405.2,630.3 1405.7,629.5 1406.2,629.4 1406.7,630.8 1407.2,631.7 1407.7,629.1 1408.2,629.7 1408.7,628.6 1409.2,631.0 1409.7,630.5 1410.2,632.5 1410.7,630.3 1411.2,630.0 1411.7,629.8 1412.2,631.3 1412.7,629.0 1413.2,631.3 1413.7,630.8 1414.2,630.1 1414.7,629.8 1415.2,631.7 1415.7,632.5 1416.2,630.3 1416.7,631.3 1417.2,632.5 1417.7,630.3 1418.2,630.7 1418.7,629.9 1419.2,631.0 1419.7,631.1 1420.2,630.9 1420.7,630.7 1421.2,630.0 1421.7,630.3 1422.2,630.7 1422.7,632.4 1423.2,631.4 1423.7,631.2 1424.2,632.7 1424.7,632.8 1425.2,631.6 1425.7,631.9 1426.2,633.2 1426.7,633.0 1427.2,632.0 1427.7,633.1 1428.2,633.0 1428.7,634.2 1429.2,632.4 1429.7,634.1 1430.2,633.8 1430.7,632.5 1431.2,634.5 1431.7,634.5 1432.2,632.4 1432.7,635.6 1433.2,632.7 1433.7,632.9 1434.2,633.5 1434.7,634.6 1435.2,634.4 1435.7,633.8 1436.2,635.2 1436.7,634.3 1437.2,635.2 1437.7,636.6 1438.2,634.1 1438.7,631.5 1439.2,633.5 1439.7,632.9 1440.2,634.1 1440.7,634.1 1441.2,632.8 1441.7,632.9 1442.2,633.8 1442.7,633.8 1443.2,631.5 1443.7,635.0 1444.2,634.1 1444.7,634.0 1445.2,634.3 1445.7,633.1 1446.2,634.0 1446.7,635.1 1447.2,635.1 1447.7,634.5 1448.2,633.8 1448.7,633.3 1449.2,635.4 1449.7,634.6 1450.2,633.7 1450.7,632.0 1451.2,633.3 1451.7,632.2 1452.2,635.3 1452.7,634.3 1453.2,633.4 1453.7,633.8 1454.2,636.6 1454.7,635.2 1455.2,632.7 1455.7,633.9 1456.2,632.8 1456.7,632.3 1457.2,634.1 1457.7,636.3 1458.2,635.4 1458.7,633.9 1459.2,633.4 1459.7,634.0 1460.2,634.8 1460.7,632.3 1461.2,631.8 1461.7,635.5 1462.2,633.9 1462.7,635.1 1463.2,633.7 1463.7,634.9 1464.2,632.8 1464.7,633.8 1465.2,634.8 1465.7,634.3 1466.2,632.8 1466.7,634.0 1467.2,632.5 1467.7,631.7 1468.2,633.5 1468.7,634.3 1469.2,633.7 1469.7,631.6 1470.2,633.7 1470.7,633.4 1471.2,632.2 1471.7,630.2 1472.2,633.6 1472.7,633.4 1473.2,632.9 1473.7,630.7 1474.2,630.8 1474.7,633.2 1475.2,633.0 1475.7,632.6 1476.2,631.8 1476.7,632.3 1477.2,631.3 1477.7,631.4 1478.2,630.8 1478.7,631.8 1479.2,631.0 1479.7,632.2 1480.2,631.9 1480.7,630.2 1481.2,632.7 1481.7,629.6 1482.2,631.0 1482.7,631.4 1483.2,631.4 1483.7,627.7 1484.2,630.6 1484.7,630.6 1485.2,630.5 1485.7,626.6 1486.2,627.8 1486.7,628.1 1487.2,627.4 1487.7,628.8 1488.2,626.4 1488.7,627.9 1489.2,626.9 1489.7,624.4 1490.2,624.5 1490.7,624.5 1491.2,624.6 1491.7,624.9 1492.2,623.1 1492.7,623.5 1493.2,620.2 1493.7,617.9 1494.2,619.7 1494.7,619.5 1495.2,617.7 1495.7,616.0 1496.2,616.2 1496.7,616.5 1497.2,613.2 1497.7,611.2 1498.2,609.5 1498.7,610.6 1499.2,606.6 1499.7,605.2 1500.2,603.5 1500.7,600.9 1501.2,596.2 1501.7,595.2 1502.2,592.1 1502.7,588.4 1503.2,584.7 1503.7,578.3 1504.2,573.4 1504.7,567.2 1505.2,562.7 1505.7,555.6 1506.2,551.0 1506.7,543.8 1507.2,538.8 1507.7,532.5 1508.2,526.8 1508.7,521.3 1509.2,515.2 1509.7,509.3 1510.2,501.7 1510.7,499.6 1511.2,493.4 1511.7,489.8 1512.2,485.6 1512.7,484.2 1513.2,479.7 1513.7,479.4 1514.2,478.6 1514.7,477.7 1515.2,476.0 1515.7,474.4 1516.2,471.9 1516.7,473.9 1517.2,473.7 1517.7,473.7 1518.2,474.4 1518.7,474.7 1519.2,475.4 1519.7,478.4 1520.2,480.0 1520.7,479.0 1521.2,482.1 1521.7,482.9 1522.2,485.0 1522.7,485.8 1523.2,488.0 1523.7,489.0 1524.2,489.6 1524.7,487.8 1525.2,490.5 1525.7,490.1 1526.2,489.3 1526.7,491.5 1527.2,489.8 1527.7,492.3 1528.2,493.4 1528.7,491.4 1529.2,493.1 1529.7,492.8 1530.2,493.2 1530.7,491.4 1531.2,493.5 1531.7,493.2 1532.2,494.0 1532.7,493.4 1533.2,494.7 1533.7,494.0 1534.2,494.6 1534.7,495.4 1535.2,494.4 1535.7,495.3 1536.2,494.7 1536.7,495.1 1537.2,494.1 1537.7,495.5 1538.2,496.0 1538.7,494.7 1539.2,495.6 1539.7,495.2 1540.2,493.5 1540.7,494.6 1541.2,495.0 1541.7,492.6 1542.2,490.6 1542.7,491.8 1543.2,490.1 1543.7,491.7 1544.2,488.7 1544.7,487.1 1545.2,484.5 1545.7,483.1 1546.2,479.9 1546.7,477.0 1547.2,475.3 1547.7,472.2 1548.2,472.0 1548.7,467.1 1549.2,465.8 1549.7,462.6 1550.2,459.5 1550.7,460.0 1551.2,453.8 1551.7,455.0 1552.2,449.8 1552.7,448.9 1553.2,448.7 1553.7,442.1 1554.2,440.5 1554.7,440.9 1555.2,437.5 1555.7,434.6 1556.2,432.9 1556.7,429.8 1557.2,428.7 1557.7,427.9 1558.2,424.0 1558.7,422.4 1559.2,421.3 1559.7,420.0 1560.2,415.4 1560.7,414.1 1561.2,411.1 1561.7,408.8 1562.2,406.9 1562.7,404.5 1563.2,401.3 1563.7,398.8 1564.2,397.9 1564.7,396.5 1565.2,395.3 1565.7,391.3 1566.2,389.2 1566.7,387.5 1567.2,385.1 1567.7,381.8 1568.2,379.4 1568.7,378.9 1569.2,374.5 1569.7,372.2 1570.2,369.0 1570.7,368.9 1571.2,366.2 1571.7,366.4 1572.2,362.3 1572.7,361.7 1573.2,360.1 1573.7,359.3 1574.2,355.0 1574.7,356.5 1575.2,353.6 1575.7,352.3 1576.2,351.0 1576.7,349.9 1577.2,349.2 1577.7,346.7 1578.2,349.0 1578.7,348.1 1579.2,346.8 1579.7,347.6 1580.2,350.0 1580.7,348.6 1581.2,348.5 1581.7,351.3 1582.2,349.7 1582.7,351.3 1583.2,351.9 1583.7,353.6 1584.2,356.1 1584.7,357.7 1585.2,358.4 1585.7,361.1 1586.2,363.5 1586.7,365.3 1587.2,368.4 1587.7,370.7 1588.2,373.8 1588.7,377.8 1589.2,380.1 1589.7,384.7 1590.2,387.3 1590.7,389.8 1591.2,393.4 1591.7,396.8 1592.2,400.4 1592.7,404.0 1593.2,406.9 1593.7,409.4 1594.2,414.8 1594.7,417.4 1595.2,419.7 1595.7,423.5 1596.2,426.0 1596.7,428.5 1597.2,431.8 1597.7,437.4 1598.2,438.8 1598.7,442.0 1599.2,443.7 1599.7,447.8 1600.2,452.5 1600.7,453.8 1601.2,457.4 1601.7,460.5 1602.2,462.7 1602.7,466.4 1603.2,467.7 1603.7,470.6 1604.2,472.1 1604.7,477.8 1605.2,478.0 1605.7,480.3 1606.2,484.0 1606.7,484.7 1607.2,487.7 1607.7,489.5 1608.2,492.8 1608.7,495.0 1609.2,498.5 1609.7,500.4 1610.2,502.5 1610.7,505.3 1611.2,508.0 1611.7,510.1 1612.2,514.0 1612.7,516.2 1613.2,518.1 1613.7,519.2 1614.2,523.3 1614.7,524.0 1615.2,527.8 1615.7,530.0 1616.2,531.7 1616.7,533.8 1617.2,536.2 1617.7,541.0 1618.2,541.0 1618.7,543.2 1619.2,546.4 1619.7,548.0 1620.2,550.7 1620.7,550.6 1621.2,552.7 1621.7,559.0 1622.2,557.6 1622.7,559.3 1623.2,561.5 1623.7,564.1 1624.2,563.8 1624.7,566.9 1625.2,568.3 1625.7,570.6 1626.2,571.7 1626.7,572.7 1627.2,573.9 1627.7,574.0 1628.2,578.8 1628.7,578.1 1629.2,580.6 1629.7,584.2 1630.2,583.7 1630.7,586.3 1631.2,587.0 1631.7,589.4 1632.2,590.2 1632.7,591.1 1633.2,594.3 1633.7,594.1 1634.2,594.4 1634.7,596.6 1635.2,598.8 1635.7,598.5 1636.2,601.6 1636.7,602.7 1637.2,605.2 1637.7,603.7 1638.2,605.9 1638.7,604.7 1639.2,606.7 1639.7,608.1 1640.2,609.2 1640.7,609.5 1641.2,610.2 1641.7,610.5 1642.2,611.3 1642.7,612.7 1643.2,613.6 1643.7,614.3 1644.2,615.3 1644.7,616.0 1645.2,613.7 1645.7,615.5 1646.2,616.4 1646.7,616.5 1647.2,618.6 1647.7,618.8 1648.2,618.5 1648.7,619.1 1649.2,620.7 1649.7,619.6 1650.2,620.1 1650.7,621.6 1651.2,621.6 1651.7,622.9 1652.2,622.3 1652.7,623.0 1653.2,622.1 1653.7,622.1 1654.2,623.4 1654.7,621.2 1655.2,624.5 1655.7,625.4 1656.2,624.9 1656.7,625.0 1657.2,626.6 1657.7,625.9 1658.2,627.1 1658.7,628.6 1659.2,627.4 1659.7,627.8 1660.2,627.6 1660.7,627.5 1661.2,627.6 1661.7,627.4 1662.2,628.4 1662.7,625.8 1663.2,627.1 1663.7,627.9 1664.2,626.5 1664.7,627.2 1665.2,626.6 1665.7,627.6 1666.2,628.0 1666.7,628.5 1667.2,627.6 1667.7,626.4 1668.2,627.2 1668.7,627.5 1669.2,628.2 1669.7,624.8 1670.2,627.1 1670.7,624.9 1671.2,627.2 1671.7,626.7 1672.2,626.4 1672.7,626.3 1673.2,625.4 1673.7,623.9 1674.2,624.4 1674.7,624.7 1675.2,623.1 1675.7,622.9 1676.2,621.4 1676.7,623.6 1677.2,622.0 1677.7,621.8 1678.2,622.3 1678.7,622.2 1679.2,623.1 1679.7,624.9 1680.2,624.8 1680.7,625.9 1681.2,626.3 1681.7,624.4 1682.2,626.1 1682.7,627.3 1683.2,628.3 1683.7,625.0 1684.2,625.2 1684.7,627.2 1685.2,626.6 1685.7,626.2 1686.2,627.7 1686.7,626.8 1687.2,625.6 1687.7,627.9 1688.2,628.2 1688.7,628.9 1689.2,629.3 1689.7,628.8 1690.2,628.5 1690.7,628.3 1691.2,627.5 1691.7,628.8 1692.2,630.3 1692.7,630.2 1693.2,631.6 1693.7,629.7 1694.2,628.3 1694.7,630.9 1695.2,631.3 1695.7,629.3 1696.2,629.0 1696.7,630.9 1697.2,631.5 1697.7,629.9 1698.2,630.8 1698.7,630.5 1699.2,630.3 1699.7,630.3 1700.2,631.8 1700.7,631.4 1701.2,631.3 1701.7,629.5 1702.2,633.8 1702.7,631.4 1703.2,632.3 1703.7,631.4 1704.2,633.0 1704.7,631.3 1705.2,633.0 1705.7,632.8 1706.2,634.0 1706.7,632.2 1707.2,632.7 1707.7,633.3 1708.2,635.6 1708.7,632.3 1709.2,634.1 1709.7,633.4 1710.2,634.4 1710.7,634.9 1711.2,634.5 1711.7,634.8 1712.2,634.9 1712.7,634.2 1713.2,634.7 1713.7,633.4 1714.2,634.8 1714.7,634.6 1715.2,635.2 1715.7,636.2 1716.2,636.0 1716.7,636.3 1717.2,637.0 1717.7,633.8 1718.2,636.6 1718.7,636.3 1719.2,636.4 1719.7,635.3 1720.2,637.2 1720.7,637.9 1721.2,638.0 1721.7,637.0" fill="none" stroke="#3d36c8" stroke-width="3.0" stroke-linejoin="round" stroke-linecap="butt" clip-path="url(#clipc)"/>
<polyline points="1220.7,887.3 1221.2,888.5 1221.7,892.2 1222.2,889.7 1222.7,885.1 1223.2,884.8 1223.7,885.1 1224.2,885.3 1224.7,882.2 1225.2,887.5 1225.7,881.4 1226.2,880.9 1226.7,885.7 1227.2,881.7 1227.7,883.1 1228.2,875.4 1228.7,887.4 1229.2,884.0 1229.7,883.4 1230.2,885.9 1230.7,884.8 1231.2,880.9 1231.7,892.3 1232.2,881.9 1232.7,887.9 1233.2,891.4 1233.7,881.1 1234.2,884.1 1234.7,880.2 1235.2,888.0 1235.7,882.2 1236.2,879.0 1236.7,889.1 1237.2,887.4 1237.7,879.8 1238.2,888.4 1238.7,884.3 1239.2,894.8 1239.7,890.6 1240.2,881.0 1240.7,882.2 1241.2,879.6 1241.7,883.8 1242.2,883.4 1242.7,886.3 1243.2,883.6 1243.7,877.0 1244.2,879.7 1244.7,889.1 1245.2,888.0 1245.7,882.4 1246.2,882.5 1246.7,882.3 1247.2,883.1 1247.7,875.9 1248.2,886.7 1248.7,880.2 1249.2,883.6 1249.7,872.3 1250.2,883.9 1250.7,888.5 1251.2,873.5 1251.7,889.2 1252.2,884.8 1252.7,879.7 1253.2,876.1 1253.7,887.7 1254.2,883.9 1254.7,885.2 1255.2,881.6 1255.7,879.4 1256.2,886.4 1256.7,878.7 1257.2,886.5 1257.7,875.7 1258.2,878.8 1258.7,876.6 1259.2,888.2 1259.7,875.3 1260.2,877.8 1260.7,885.4 1261.2,883.6 1261.7,891.8 1262.2,890.3 1262.7,885.2 1263.2,885.5 1263.7,874.9 1264.2,878.8 1264.7,881.2 1265.2,881.8 1265.7,876.7 1266.2,878.6 1266.7,878.9 1267.2,887.0 1267.7,884.3 1268.2,881.1 1268.7,881.3 1269.2,883.7 1269.7,879.5 1270.2,881.3 1270.7,875.2 1271.2,885.2 1271.7,886.4 1272.2,883.9 1272.7,884.4 1273.2,883.9 1273.7,890.9 1274.2,883.2 1274.7,876.8 1275.2,877.9 1275.7,885.3 1276.2,886.8 1276.7,885.5 1277.2,885.8 1277.7,883.0 1278.2,876.0 1278.7,879.2 1279.2,874.6 1279.7,880.6 1280.2,876.4 1280.7,882.6 1281.2,881.4 1281.7,873.9 1282.2,885.2 1282.7,885.3 1283.2,876.2 1283.7,882.7 1284.2,885.0 1284.7,880.8 1285.2,885.6 1285.7,882.7 1286.2,886.5 1286.7,882.7 1287.2,881.2 1287.7,884.0 1288.2,885.1 1288.7,882.8 1289.2,879.8 1289.7,878.3 1290.2,880.0 1290.7,879.1 1291.2,882.4 1291.7,882.2 1292.2,881.0 1292.7,881.3 1293.2,882.0 1293.7,887.9 1294.2,886.3 1294.7,878.7 1295.2,882.9 1295.7,879.6 1296.2,880.5 1296.7,879.9 1297.2,878.2 1297.7,875.0 1298.2,870.3 1298.7,881.5 1299.2,885.6 1299.7,876.7 1300.2,882.6 1300.7,878.8 1301.2,881.6 1301.7,876.9 1302.2,879.3 1302.7,879.8 1303.2,870.1 1303.7,881.0 1304.2,879.5 1304.7,869.5 1305.2,882.7 1305.7,879.7 1306.2,880.7 1306.7,881.3 1307.2,877.9 1307.7,875.0 1308.2,877.6 1308.7,877.6 1309.2,888.8 1309.7,887.2 1310.2,877.2 1310.7,877.4 1311.2,880.5 1311.7,881.5 1312.2,876.0 1312.7,874.7 1313.2,887.1 1313.7,883.3 1314.2,872.1 1314.7,871.2 1315.2,875.1 1315.7,879.5 1316.2,880.9 1316.7,877.1 1317.2,871.6 1317.7,879.4 1318.2,881.0 1318.7,878.4 1319.2,876.3 1319.7,880.8 1320.2,878.1 1320.7,873.6 1321.2,878.8 1321.7,872.9 1322.2,882.6 1322.7,880.5 1323.2,874.3 1323.7,879.5 1324.2,884.0 1324.7,869.5 1325.2,878.1 1325.7,885.8 1326.2,872.2 1326.7,878.2 1327.2,872.9 1327.7,878.8 1328.2,868.9 1328.7,872.3 1329.2,877.0 1329.7,880.0 1330.2,881.1 1330.7,881.4 1331.2,884.5 1331.7,882.7 1332.2,882.9 1332.7,875.6 1333.2,879.2 1333.7,893.6 1334.2,889.7 1334.7,883.6 1335.2,883.3 1335.7,884.4 1336.2,878.4 1336.7,888.6 1337.2,878.5 1337.7,879.8 1338.2,889.5 1338.7,871.2 1339.2,881.6 1339.7,872.6 1340.2,877.1 1340.7,879.4 1341.2,878.2 1341.7,880.4 1342.2,876.2 1342.7,878.9 1343.2,874.0 1343.7,877.3 1344.2,872.8 1344.7,881.5 1345.2,872.8 1345.7,881.2 1346.2,876.2 1346.7,876.5 1347.2,882.7 1347.7,877.9 1348.2,869.0 1348.7,879.2 1349.2,864.2 1349.7,877.7 1350.2,874.6 1350.7,870.1 1351.2,876.3 1351.7,874.5 1352.2,884.3 1352.7,873.5 1353.2,883.7 1353.7,881.1 1354.2,872.2 1354.7,871.1 1355.2,880.2 1355.7,873.6 1356.2,874.7 1356.7,872.7 1357.2,868.3 1357.7,871.7 1358.2,868.9 1358.7,866.2 1359.2,871.4 1359.7,880.2 1360.2,879.2 1360.7,871.7 1361.2,872.3 1361.7,873.7 1362.2,877.2 1362.7,872.4 1363.2,868.7 1363.7,868.9 1364.2,875.3 1364.7,881.5 1365.2,867.2 1365.7,860.8 1366.2,873.0 1366.7,868.9 1367.2,869.7 1367.7,874.2 1368.2,868.9 1368.7,862.6 1369.2,859.6 1369.7,867.7 1370.2,862.6 1370.7,868.7 1371.2,861.7 1371.7,865.5 1372.2,860.4 1372.7,865.0 1373.2,864.4 1373.7,868.8 1374.2,871.9 1374.7,865.0 1375.2,861.8 1375.7,874.0 1376.2,866.8 1376.7,867.7 1377.2,867.5 1377.7,871.0 1378.2,868.8 1378.7,867.1 1379.2,867.3 1379.7,860.0 1380.2,860.9 1380.7,862.9 1381.2,863.6 1381.7,863.1 1382.2,864.2 1382.7,862.9 1383.2,860.8 1383.7,855.5 1384.2,866.3 1384.7,865.2 1385.2,858.8 1385.7,864.9 1386.2,864.6 1386.7,863.4 1387.2,855.2 1387.7,858.2 1388.2,861.1 1388.7,871.0 1389.2,860.4 1389.7,863.0 1390.2,859.9 1390.7,862.9 1391.2,866.9 1391.7,856.6 1392.2,853.5 1392.7,869.2 1393.2,866.7 1393.7,864.2 1394.2,871.4 1394.7,871.7 1395.2,858.5 1395.7,867.3 1396.2,873.3 1396.7,865.8 1397.2,867.7 1397.7,873.6 1398.2,868.6 1398.7,864.9 1399.2,867.5 1399.7,865.1 1400.2,873.7 1400.7,864.0 1401.2,876.4 1401.7,865.1 1402.2,872.9 1402.7,866.5 1403.2,871.9 1403.7,878.1 1404.2,878.8 1404.7,879.9 1405.2,874.0 1405.7,875.1 1406.2,875.9 1406.7,877.9 1407.2,873.7 1407.7,880.5 1408.2,877.3 1408.7,881.2 1409.2,878.5 1409.7,879.6 1410.2,873.6 1410.7,875.2 1411.2,871.6 1411.7,876.2 1412.2,876.9 1412.7,881.6 1413.2,872.6 1413.7,892.5 1414.2,877.9 1414.7,884.2 1415.2,883.4 1415.7,867.9 1416.2,878.0 1416.7,885.8 1417.2,868.8 1417.7,883.0 1418.2,875.7 1418.7,877.9 1419.2,881.0 1419.7,872.0 1420.2,881.2 1420.7,877.6 1421.2,877.3 1421.7,883.8 1422.2,896.3 1422.7,882.5 1423.2,883.5 1423.7,881.0 1424.2,878.2 1424.7,882.6 1425.2,888.2 1425.7,882.5 1426.2,885.7 1426.7,880.9 1427.2,893.1 1427.7,874.8 1428.2,884.7 1428.7,884.6 1429.2,883.5 1429.7,877.5 1430.2,877.5 1430.7,881.5 1431.2,883.1 1431.7,877.4 1432.2,878.1 1432.7,885.3 1433.2,887.4 1433.7,880.5 1434.2,879.9 1434.7,879.9 1435.2,894.0 1435.7,885.3 1436.2,882.9 1436.7,887.7 1437.2,893.4 1437.7,888.5 1438.2,877.2 1438.7,883.1 1439.2,881.7 1439.7,882.0 1440.2,878.2 1440.7,881.9 1441.2,878.8 1441.7,885.1 1442.2,883.8 1442.7,877.4 1443.2,876.1 1443.7,881.5 1444.2,886.5 1444.7,885.8 1445.2,883.3 1445.7,869.0 1446.2,881.3 1446.7,880.2 1447.2,882.0 1447.7,878.0 1448.2,881.5 1448.7,880.4 1449.2,895.3 1449.7,886.3 1450.2,882.3 1450.7,882.9 1451.2,882.6 1451.7,883.9 1452.2,881.2 1452.7,882.9 1453.2,887.5 1453.7,886.6 1454.2,884.2 1454.7,888.7 1455.2,883.8 1455.7,878.4 1456.2,875.0 1456.7,879.6 1457.2,882.4 1457.7,884.4 1458.2,887.4 1458.7,880.1 1459.2,879.0 1459.7,885.9 1460.2,887.7 1460.7,880.4 1461.2,884.0 1461.7,888.5 1462.2,883.9 1462.7,882.2 1463.2,873.2 1463.7,888.2 1464.2,885.2 1464.7,882.9 1465.2,880.3 1465.7,876.8 1466.2,881.8 1466.7,881.8 1467.2,887.1 1467.7,876.9 1468.2,888.6 1468.7,882.3 1469.2,887.4 1469.7,877.8 1470.2,883.6 1470.7,887.4 1471.2,882.5 1471.7,875.5 1472.2,880.5 1472.7,884.3 1473.2,875.7 1473.7,875.4 1474.2,882.8 1474.7,877.5 1475.2,884.6 1475.7,876.4 1476.2,873.4 1476.7,877.9 1477.2,887.8 1477.7,877.3 1478.2,881.0 1478.7,882.0 1479.2,876.6 1479.7,885.4 1480.2,881.2 1480.7,882.2 1481.2,872.7 1481.7,872.2 1482.2,867.6 1482.7,878.7 1483.2,878.3 1483.7,882.3 1484.2,885.5 1484.7,877.6 1485.2,877.3 1485.7,880.2 1486.2,884.7 1486.7,874.0 1487.2,880.0 1487.7,875.8 1488.2,875.0 1488.7,879.6 1489.2,872.0 1489.7,870.2 1490.2,877.3 1490.7,873.7 1491.2,872.0 1491.7,871.9 1492.2,874.0 1492.7,869.4 1493.2,873.7 1493.7,871.3 1494.2,875.2 1494.7,873.2 1495.2,870.3 1495.7,864.5 1496.2,864.6 1496.7,860.1 1497.2,873.8 1497.7,858.7 1498.2,860.4 1498.7,862.2 1499.2,848.3 1499.7,848.5 1500.2,848.1 1500.7,842.8 1501.2,838.8 1501.7,839.1 1502.2,843.7 1502.7,837.7 1503.2,831.0 1503.7,826.7 1504.2,814.3 1504.7,819.2 1505.2,812.1 1505.7,799.4 1506.2,799.0 1506.7,791.1 1507.2,783.0 1507.7,774.2 1508.2,768.7 1508.7,760.8 1509.2,760.6 1509.7,753.9 1510.2,747.2 1510.7,738.4 1511.2,731.3 1511.7,736.9 1512.2,715.8 1512.7,726.7 1513.2,720.8 1513.7,717.4 1514.2,713.0 1514.7,712.6 1515.2,707.0 1515.7,705.1 1516.2,710.0 1516.7,702.9 1517.2,714.1 1517.7,716.0 1518.2,697.2 1518.7,707.0 1519.2,716.7 1519.7,718.1 1520.2,719.2 1520.7,721.9 1521.2,724.3 1521.7,725.7 1522.2,730.7 1522.7,723.8 1523.2,728.3 1523.7,718.1 1524.2,725.4 1524.7,721.3 1525.2,733.4 1525.7,738.1 1526.2,730.7 1526.7,723.0 1527.2,728.5 1527.7,729.5 1528.2,730.5 1528.7,734.8 1529.2,734.5 1529.7,718.9 1530.2,736.8 1530.7,728.8 1531.2,728.7 1531.7,737.6 1532.2,730.3 1532.7,725.6 1533.2,725.8 1533.7,731.9 1534.2,735.7 1534.7,738.3 1535.2,730.9 1535.7,729.5 1536.2,738.6 1536.7,729.3 1537.2,737.6 1537.7,732.1 1538.2,732.0 1538.7,729.7 1539.2,731.9 1539.7,728.3 1540.2,727.1 1540.7,729.0 1541.2,726.0 1541.7,729.3 1542.2,727.3 1542.7,724.5 1543.2,723.5 1543.7,722.0 1544.2,729.3 1544.7,719.9 1545.2,715.4 1545.7,714.4 1546.2,716.2 1546.7,709.9 1547.2,707.6 1547.7,704.7 1548.2,704.1 1548.7,702.7 1549.2,700.4 1549.7,688.7 1550.2,688.7 1550.7,679.3 1551.2,691.9 1551.7,690.8 1552.2,689.2 1552.7,681.7 1553.2,683.7 1553.7,676.1 1554.2,673.4 1554.7,664.8 1555.2,665.8 1555.7,664.3 1556.2,668.7 1556.7,669.8 1557.2,658.3 1557.7,659.8 1558.2,657.2 1558.7,650.5 1559.2,644.1 1559.7,646.1 1560.2,640.9 1560.7,643.5 1561.2,641.9 1561.7,639.4 1562.2,637.0 1562.7,637.5 1563.2,628.9 1563.7,634.4 1564.2,620.7 1564.7,625.9 1565.2,624.7 1565.7,617.0 1566.2,610.8 1566.7,618.1 1567.2,609.8 1567.7,613.8 1568.2,611.5 1568.7,606.0 1569.2,604.0 1569.7,606.3 1570.2,601.7 1570.7,594.0 1571.2,597.0 1571.7,596.8 1572.2,593.4 1572.7,591.5 1573.2,588.2 1573.7,586.6 1574.2,581.3 1574.7,577.5 1575.2,587.2 1575.7,577.9 1576.2,580.1 1576.7,571.1 1577.2,577.0 1577.7,571.5 1578.2,587.2 1578.7,569.0 1579.2,568.6 1579.7,576.4 1580.2,576.7 1580.7,562.2 1581.2,572.5 1581.7,575.5 1582.2,567.0 1582.7,576.3 1583.2,572.1 1583.7,571.3 1584.2,575.4 1584.7,576.2 1585.2,573.4 1585.7,590.7 1586.2,580.5 1586.7,580.9 1587.2,589.9 1587.7,588.0 1588.2,596.5 1588.7,592.7 1589.2,599.4 1589.7,602.7 1590.2,607.6 1590.7,610.4 1591.2,615.2 1591.7,627.5 1592.2,621.7 1592.7,626.7 1593.2,631.8 1593.7,639.6 1594.2,642.6 1594.7,648.4 1595.2,641.9 1595.7,652.3 1596.2,653.7 1596.7,656.6 1597.2,662.0 1597.7,656.1 1598.2,669.3 1598.7,672.1 1599.2,668.6 1599.7,677.7 1600.2,688.1 1600.7,682.8 1601.2,690.2 1601.7,689.7 1602.2,690.1 1602.7,692.6 1603.2,697.8 1603.7,708.1 1604.2,708.8 1604.7,704.9 1605.2,715.1 1605.7,712.8 1606.2,712.9 1606.7,720.4 1607.2,717.0 1607.7,716.6 1608.2,731.6 1608.7,720.4 1609.2,733.2 1609.7,726.7 1610.2,735.8 1610.7,737.6 1611.2,739.1 1611.7,734.0 1612.2,745.6 1612.7,748.5 1613.2,747.3 1613.7,753.4 1614.2,760.6 1614.7,755.7 1615.2,762.6 1615.7,759.0 1616.2,768.3 1616.7,772.1 1617.2,782.8 1617.7,778.6 1618.2,779.1 1618.7,786.0 1619.2,778.2 1619.7,789.7 1620.2,785.2 1620.7,787.3 1621.2,797.2 1621.7,795.8 1622.2,802.9 1622.7,793.1 1623.2,802.9 1623.7,801.6 1624.2,804.9 1624.7,800.0 1625.2,814.4 1625.7,813.4 1626.2,810.2 1626.7,810.7 1627.2,814.7 1627.7,826.5 1628.2,822.0 1628.7,822.9 1629.2,828.3 1629.7,828.1 1630.2,830.8 1630.7,834.8 1631.2,834.7 1631.7,838.6 1632.2,831.2 1632.7,838.1 1633.2,837.7 1633.7,841.1 1634.2,841.8 1634.7,840.6 1635.2,843.1 1635.7,849.9 1636.2,844.7 1636.7,842.9 1637.2,852.0 1637.7,854.8 1638.2,850.5 1638.7,853.4 1639.2,850.3 1639.7,854.1 1640.2,860.9 1640.7,860.6 1641.2,858.8 1641.7,858.0 1642.2,853.1 1642.7,862.4 1643.2,863.9 1643.7,867.3 1644.2,872.3 1644.7,866.0 1645.2,869.2 1645.7,861.0 1646.2,871.7 1646.7,870.9 1647.2,873.7 1647.7,871.3 1648.2,871.0 1648.7,876.0 1649.2,867.4 1649.7,873.6 1650.2,876.0 1650.7,868.5 1651.2,867.5 1651.7,874.8 1652.2,874.0 1652.7,876.6 1653.2,877.3 1653.7,871.7 1654.2,877.0 1654.7,880.9 1655.2,875.0 1655.7,875.8 1656.2,872.6 1656.7,881.4 1657.2,886.7 1657.7,872.9 1658.2,882.4 1658.7,883.4 1659.2,877.5 1659.7,878.6 1660.2,876.0 1660.7,877.4 1661.2,881.7 1661.7,884.1 1662.2,882.1 1662.7,885.5 1663.2,883.0 1663.7,877.3 1664.2,888.8 1664.7,887.9 1665.2,880.0 1665.7,890.9 1666.2,885.5 1666.7,884.2 1667.2,892.1 1667.7,873.3 1668.2,877.3 1668.7,887.3 1669.2,883.4 1669.7,880.5 1670.2,891.1 1670.7,886.8 1671.2,879.3 1671.7,882.1 1672.2,888.6 1672.7,892.7 1673.2,876.5 1673.7,886.3 1674.2,883.6 1674.7,877.8 1675.2,884.7 1675.7,878.5 1676.2,883.2 1676.7,892.5 1677.2,887.8 1677.7,888.9 1678.2,888.2 1678.7,887.1 1679.2,889.8 1679.7,880.6 1680.2,884.0 1680.7,889.1 1681.2,882.2 1681.7,883.3 1682.2,890.1 1682.7,891.3 1683.2,881.9 1683.7,880.7 1684.2,886.5 1684.7,884.8 1685.2,880.5 1685.7,885.7 1686.2,885.3 1686.7,883.0 1687.2,895.1 1687.7,888.1 1688.2,885.6 1688.7,886.4 1689.2,894.5 1689.7,886.4 1690.2,878.5 1690.7,882.8 1691.2,881.6 1691.7,878.8 1692.2,882.2 1692.7,882.1 1693.2,880.6 1693.7,878.7 1694.2,884.2 1694.7,873.7 1695.2,884.0 1695.7,880.4 1696.2,881.4 1696.7,869.9 1697.2,887.2 1697.7,872.4 1698.2,876.0 1698.7,882.3 1699.2,876.7 1699.7,877.4 1700.2,869.3 1700.7,876.8 1701.2,879.3 1701.7,881.1 1702.2,876.6 1702.7,878.5 1703.2,879.2 1703.7,874.2 1704.2,873.6 1704.7,885.1 1705.2,872.8 1705.7,881.6 1706.2,876.5 1706.7,882.5 1707.2,873.3 1707.7,878.4 1708.2,877.7 1708.7,875.5 1709.2,878.1 1709.7,873.8 1710.2,877.1 1710.7,876.2 1711.2,881.7 1711.7,878.5 1712.2,873.4 1712.7,878.2 1713.2,879.9 1713.7,876.9 1714.2,887.0 1714.7,883.4 1715.2,885.7 1715.7,879.1 1716.2,881.1 1716.7,887.6 1717.2,877.5 1717.7,885.7 1718.2,884.9 1718.7,882.8 1719.2,885.8 1719.7,881.2 1720.2,887.2 1720.7,881.4 1721.2,881.6 1721.7,893.6" fill="none" stroke="#ee0000" stroke-width="3.0" stroke-linejoin="round" stroke-linecap="butt" clip-path="url(#clipc)"/>
<polyline points="1220.7,1078.8 1221.2,1072.7 1221.7,1086.0 1222.2,1078.4 1222.7,1066.5 1223.2,1081.5 1223.7,1085.7 1224.2,1083.2 1224.7,1089.1 1225.2,1081.1 1225.7,1084.2 1226.2,1077.3 1226.7,1082.3 1227.2,1088.2 1227.7,1083.8 1228.2,1082.3 1228.7,1073.0 1229.2,1079.9 1229.7,1076.0 1230.2,1084.9 1230.7,1078.3 1231.2,1083.1 1231.7,1077.2 1232.2,1089.6 1232.7,1076.4 1233.2,1082.1 1233.7,1092.8 1234.2,1082.4 1234.7,1077.6 1235.2,1084.1 1235.7,1085.7 1236.2,1085.1 1236.7,1072.8 1237.2,1082.3 1237.7,1072.1 1238.2,1089.5 1238.7,1081.6 1239.2,1079.3 1239.7,1084.2 1240.2,1083.4 1240.7,1076.1 1241.2,1088.3 1241.7,1080.2 1242.2,1073.6 1242.7,1087.3 1243.2,1087.9 1243.7,1086.6 1244.2,1083.6 1244.7,1077.3 1245.2,1085.2 1245.7,1089.2 1246.2,1084.7 1246.7,1088.1 1247.2,1077.7 1247.7,1085.5 1248.2,1085.1 1248.7,1074.6 1249.2,1074.0 1249.7,1077.9 1250.2,1081.4 1250.7,1083.0 1251.2,1080.0 1251.7,1080.7 1252.2,1080.5 1252.7,1081.3 1253.2,1083.5 1253.7,1083.1 1254.2,1080.7 1254.7,1082.0 1255.2,1078.9 1255.7,1084.3 1256.2,1078.6 1256.7,1088.0 1257.2,1080.7 1257.7,1082.0 1258.2,1077.5 1258.7,1079.3 1259.2,1081.5 1259.7,1080.8 1260.2,1078.0 1260.7,1075.6 1261.2,1080.9 1261.7,1081.3 1262.2,1083.0 1262.7,1086.1 1263.2,1079.3 1263.7,1071.9 1264.2,1080.0 1264.7,1072.5 1265.2,1074.9 1265.7,1085.0 1266.2,1083.0 1266.7,1077.7 1267.2,1077.7 1267.7,1080.1 1268.2,1072.8 1268.7,1082.5 1269.2,1078.9 1269.7,1088.5 1270.2,1075.8 1270.7,1084.8 1271.2,1077.4 1271.7,1084.8 1272.2,1076.1 1272.7,1083.5 1273.2,1078.4 1273.7,1076.7 1274.2,1079.6 1274.7,1082.4 1275.2,1082.0 1275.7,1087.2 1276.2,1083.8 1276.7,1068.7 1277.2,1078.5 1277.7,1071.5 1278.2,1078.5 1278.7,1082.9 1279.2,1074.3 1279.7,1075.0 1280.2,1080.8 1280.7,1078.9 1281.2,1087.1 1281.7,1081.6 1282.2,1082.5 1282.7,1087.8 1283.2,1078.0 1283.7,1080.1 1284.2,1075.8 1284.7,1081.3 1285.2,1084.7 1285.7,1086.2 1286.2,1080.0 1286.7,1077.0 1287.2,1076.8 1287.7,1074.0 1288.2,1080.7 1288.7,1086.1 1289.2,1069.8 1289.7,1070.6 1290.2,1086.3 1290.7,1073.1 1291.2,1081.6 1291.7,1074.6 1292.2,1083.6 1292.7,1083.6 1293.2,1080.9 1293.7,1083.8 1294.2,1080.4 1294.7,1082.6 1295.2,1088.2 1295.7,1085.0 1296.2,1077.3 1296.7,1076.7 1297.2,1079.1 1297.7,1079.2 1298.2,1080.5 1298.7,1077.5 1299.2,1083.1 1299.7,1080.4 1300.2,1081.8 1300.7,1080.2 1301.2,1082.9 1301.7,1074.9 1302.2,1087.1 1302.7,1081.7 1303.2,1082.2 1303.7,1082.9 1304.2,1085.0 1304.7,1083.4 1305.2,1081.3 1305.7,1079.4 1306.2,1073.0 1306.7,1081.2 1307.2,1078.8 1307.7,1078.8 1308.2,1090.8 1308.7,1072.0 1309.2,1080.5 1309.7,1085.6 1310.2,1084.5 1310.7,1085.7 1311.2,1074.7 1311.7,1076.0 1312.2,1083.0 1312.7,1078.9 1313.2,1087.8 1313.7,1081.2 1314.2,1081.1 1314.7,1082.2 1315.2,1079.1 1315.7,1080.8 1316.2,1077.3 1316.7,1080.1 1317.2,1078.1 1317.7,1081.4 1318.2,1074.0 1318.7,1073.7 1319.2,1082.3 1319.7,1081.3 1320.2,1076.0 1320.7,1079.3 1321.2,1075.7 1321.7,1089.2 1322.2,1073.4 1322.7,1087.8 1323.2,1076.6 1323.7,1082.1 1324.2,1079.1 1324.7,1078.6 1325.2,1084.3 1325.7,1083.8 1326.2,1078.9 1326.7,1076.2 1327.2,1089.3 1327.7,1086.4 1328.2,1080.8 1328.7,1078.8 1329.2,1081.4 1329.7,1080.5 1330.2,1085.4 1330.7,1075.8 1331.2,1080.2 1331.7,1076.6 1332.2,1085.8 1332.7,1088.0 1333.2,1079.6 1333.7,1082.4 1334.2,1086.2 1334.7,1078.6 1335.2,1075.8 1335.7,1084.5 1336.2,1082.1 1336.7,1079.0 1337.2,1086.3 1337.7,1080.9 1338.2,1072.0 1338.7,1081.3 1339.2,1079.5 1339.7,1088.0 1340.2,1079.7 1340.7,1078.8 1341.2,1081.6 1341.7,1080.8 1342.2,1073.5 1342.7,1080.2 1343.2,1078.2 1343.7,1085.8 1344.2,1090.2 1344.7,1074.7 1345.2,1075.3 1345.7,1075.9 1346.2,1076.7 1346.7,1076.5 1347.2,1079.8 1347.7,1084.3 1348.2,1073.8 1348.7,1072.7 1349.2,1071.4 1349.7,1084.3 1350.2,1085.3 1350.7,1072.7 1351.2,1072.3 1351.7,1080.0 1352.2,1084.2 1352.7,1083.9 1353.2,1080.3 1353.7,1082.4 1354.2,1080.9 1354.7,1077.0 1355.2,1087.8 1355.7,1079.4 1356.2,1074.5 1356.7,1077.4 1357.2,1072.7 1357.7,1079.5 1358.2,1084.3 1358.7,1074.0 1359.2,1084.5 1359.7,1088.8 1360.2,1081.3 1360.7,1074.6 1361.2,1076.0 1361.7,1078.3 1362.2,1074.2 1362.7,1074.4 1363.2,1078.8 1363.7,1079.2 1364.2,1082.8 1364.7,1074.9 1365.2,1088.5 1365.7,1085.0 1366.2,1084.3 1366.7,1077.6 1367.2,1088.2 1367.7,1079.1 1368.2,1088.7 1368.7,1085.5 1369.2,1076.9 1369.7,1078.9 1370.2,1089.2 1370.7,1085.5 1371.2,1080.4 1371.7,1082.1 1372.2,1082.1 1372.7,1077.9 1373.2,1080.5 1373.7,1078.6 1374.2,1079.6 1374.7,1083.6 1375.2,1077.4 1375.7,1084.9 1376.2,1082.2 1376.7,1085.1 1377.2,1085.7 1377.7,1087.4 1378.2,1084.7 1378.7,1085.0 1379.2,1081.2 1379.7,1084.5 1380.2,1078.0 1380.7,1080.9 1381.2,1085.3 1381.7,1081.8 1382.2,1084.0 1382.7,1077.3 1383.2,1088.0 1383.7,1079.3 1384.2,1083.6 1384.7,1081.6 1385.2,1085.7 1385.7,1079.8 1386.2,1077.0 1386.7,1072.9 1387.2,1079.8 1387.7,1075.8 1388.2,1083.3 1388.7,1087.1 1389.2,1070.8 1389.7,1074.8 1390.2,1081.7 1390.7,1085.6 1391.2,1081.4 1391.7,1081.3 1392.2,1082.0 1392.7,1082.1 1393.2,1086.7 1393.7,1082.0 1394.2,1073.7 1394.7,1077.0 1395.2,1079.9 1395.7,1075.3 1396.2,1077.6 1396.7,1076.4 1397.2,1075.5 1397.7,1081.6 1398.2,1076.8 1398.7,1073.7 1399.2,1075.4 1399.7,1078.7 1400.2,1087.9 1400.7,1079.7 1401.2,1085.1 1401.7,1080.7 1402.2,1069.1 1402.7,1080.3 1403.2,1074.8 1403.7,1072.6 1404.2,1073.9 1404.7,1086.6 1405.2,1071.7 1405.7,1076.0 1406.2,1083.9 1406.7,1081.7 1407.2,1071.2 1407.7,1078.3 1408.2,1076.6 1408.7,1078.0 1409.2,1082.2 1409.7,1076.4 1410.2,1077.6 1410.7,1085.5 1411.2,1070.9 1411.7,1077.4 1412.2,1081.2 1412.7,1073.6 1413.2,1076.4 1413.7,1073.4 1414.2,1079.9 1414.7,1076.5 1415.2,1082.8 1415.7,1083.9 1416.2,1079.6 1416.7,1077.7 1417.2,1080.6 1417.7,1079.7 1418.2,1074.1 1418.7,1084.3 1419.2,1080.6 1419.7,1083.1 1420.2,1073.6 1420.7,1083.6 1421.2,1089.1 1421.7,1082.5 1422.2,1073.4 1422.7,1080.0 1423.2,1079.7 1423.7,1080.9 1424.2,1079.0 1424.7,1082.3 1425.2,1078.1 1425.7,1081.2 1426.2,1077.2 1426.7,1080.7 1427.2,1084.7 1427.7,1078.2 1428.2,1083.3 1428.7,1076.5 1429.2,1078.8 1429.7,1079.5 1430.2,1086.1 1430.7,1077.2 1431.2,1086.0 1431.7,1074.2 1432.2,1080.0 1432.7,1084.8 1433.2,1083.9 1433.7,1076.3 1434.2,1075.4 1434.7,1084.8 1435.2,1075.3 1435.7,1083.5 1436.2,1078.6 1436.7,1080.9 1437.2,1091.3 1437.7,1087.9 1438.2,1084.8 1438.7,1074.9 1439.2,1082.5 1439.7,1081.4 1440.2,1080.7 1440.7,1087.1 1441.2,1073.5 1441.7,1082.6 1442.2,1081.8 1442.7,1077.9 1443.2,1089.0 1443.7,1075.7 1444.2,1081.4 1444.7,1081.7 1445.2,1071.6 1445.7,1075.0 1446.2,1077.0 1446.7,1084.9 1447.2,1085.6 1447.7,1084.0 1448.2,1082.4 1448.7,1071.6 1449.2,1082.3 1449.7,1079.0 1450.2,1086.4 1450.7,1087.1 1451.2,1091.0 1451.7,1084.1 1452.2,1084.5 1452.7,1076.1 1453.2,1081.0 1453.7,1075.0 1454.2,1084.3 1454.7,1074.9 1455.2,1079.1 1455.7,1076.3 1456.2,1077.7 1456.7,1081.7 1457.2,1077.0 1457.7,1080.4 1458.2,1074.8 1458.7,1085.4 1459.2,1076.2 1459.7,1083.5 1460.2,1088.4 1460.7,1067.9 1461.2,1074.3 1461.7,1077.7 1462.2,1083.7 1462.7,1076.3 1463.2,1080.1 1463.7,1075.0 1464.2,1080.7 1464.7,1072.7 1465.2,1081.8 1465.7,1064.7 1466.2,1069.5 1466.7,1086.0 1467.2,1078.6 1467.7,1073.8 1468.2,1087.6 1468.7,1082.3 1469.2,1082.6 1469.7,1075.6 1470.2,1080.2 1470.7,1079.6 1471.2,1069.9 1471.7,1079.9 1472.2,1076.3 1472.7,1082.9 1473.2,1082.9 1473.7,1074.1 1474.2,1074.2 1474.7,1077.6 1475.2,1079.6 1475.7,1074.8 1476.2,1076.0 1476.7,1079.2 1477.2,1078.2 1477.7,1081.4 1478.2,1077.2 1478.7,1072.0 1479.2,1068.0 1479.7,1079.5 1480.2,1074.2 1480.7,1074.0 1481.2,1074.2 1481.7,1068.3 1482.2,1073.5 1482.7,1063.4 1483.2,1073.2 1483.7,1070.8 1484.2,1082.9 1484.7,1076.5 1485.2,1073.4 1485.7,1074.9 1486.2,1077.3 1486.7,1070.4 1487.2,1072.6 1487.7,1071.8 1488.2,1084.4 1488.7,1073.3 1489.2,1063.8 1489.7,1076.0 1490.2,1083.8 1490.7,1067.4 1491.2,1087.0 1491.7,1070.6 1492.2,1074.9 1492.7,1067.3 1493.2,1068.0 1493.7,1063.0 1494.2,1063.2 1494.7,1057.6 1495.2,1071.7 1495.7,1060.6 1496.2,1066.6 1496.7,1065.6 1497.2,1060.2 1497.7,1062.2 1498.2,1060.3 1498.7,1057.1 1499.2,1058.1 1499.7,1056.6 1500.2,1050.0 1500.7,1047.0 1501.2,1047.2 1501.7,1049.6 1502.2,1053.0 1502.7,1050.7 1503.2,1042.6 1503.7,1042.3 1504.2,1035.4 1504.7,1036.5 1505.2,1028.8 1505.7,1026.8 1506.2,1020.4 1506.7,1018.2 1507.2,1023.4 1507.7,1005.8 1508.2,1007.7 1508.7,1001.3 1509.2,1004.8 1509.7,1004.9 1510.2,991.1 1510.7,975.5 1511.2,986.6 1511.7,982.5 1512.2,968.6 1512.7,972.4 1513.2,971.4 1513.7,959.5 1514.2,971.5 1514.7,969.1 1515.2,967.2 1515.7,960.6 1516.2,961.9 1516.7,962.6 1517.2,968.6 1517.7,963.3 1518.2,976.1 1518.7,972.9 1519.2,962.9 1519.7,982.0 1520.2,976.0 1520.7,973.3 1521.2,976.5 1521.7,967.9 1522.2,977.3 1522.7,965.4 1523.2,972.1 1523.7,983.0 1524.2,982.7 1524.7,975.5 1525.2,972.7 1525.7,981.5 1526.2,977.1 1526.7,978.4 1527.2,980.4 1527.7,972.7 1528.2,981.3 1528.7,968.1 1529.2,984.5 1529.7,970.8 1530.2,975.1 1530.7,975.0 1531.2,981.5 1531.7,981.6 1532.2,979.9 1532.7,980.8 1533.2,980.4 1533.7,978.0 1534.2,969.5 1534.7,967.7 1535.2,967.7 1535.7,978.0 1536.2,977.1 1536.7,977.5 1537.2,979.1 1537.7,976.9 1538.2,973.3 1538.7,970.9 1539.2,969.0 1539.7,983.2 1540.2,981.7 1540.7,971.2 1541.2,975.9 1541.7,978.9 1542.2,983.7 1542.7,973.1 1543.2,976.0 1543.7,979.7 1544.2,965.6 1544.7,969.4 1545.2,971.7 1545.7,967.6 1546.2,979.7 1546.7,972.8 1547.2,968.3 1547.7,961.4 1548.2,968.1 1548.7,965.3 1549.2,958.2 1549.7,956.8 1550.2,950.3 1550.7,955.0 1551.2,957.5 1551.7,956.3 1552.2,952.5 1552.7,951.8 1553.2,943.5 1553.7,942.2 1554.2,948.1 1554.7,942.9 1555.2,935.6 1555.7,939.9 1556.2,939.9 1556.7,937.8 1557.2,933.5 1557.7,929.2 1558.2,931.9 1558.7,936.4 1559.2,927.8 1559.7,922.6 1560.2,925.7 1560.7,917.0 1561.2,922.2 1561.7,918.3 1562.2,922.6 1562.7,917.2 1563.2,920.1 1563.7,924.4 1564.2,911.3 1564.7,907.0 1565.2,911.3 1565.7,907.2 1566.2,906.5 1566.7,901.3 1567.2,904.7 1567.7,900.6 1568.2,888.5 1568.7,895.6 1569.2,896.5 1569.7,898.9 1570.2,889.5 1570.7,887.3 1571.2,895.1 1571.7,886.1 1572.2,888.4 1572.7,889.1 1573.2,889.4 1573.7,885.3 1574.2,879.4 1574.7,888.5 1575.2,881.2 1575.7,880.3 1576.2,891.4 1576.7,885.9 1577.2,876.6 1577.7,878.9 1578.2,879.7 1578.7,877.1 1579.2,871.5 1579.7,883.7 1580.2,883.2 1580.7,880.5 1581.2,877.2 1581.7,879.5 1582.2,881.0 1582.7,872.7 1583.2,875.5 1583.7,874.2 1584.2,879.8 1584.7,878.4 1585.2,873.0 1585.7,878.6 1586.2,892.3 1586.7,882.6 1587.2,890.3 1587.7,889.0 1588.2,899.9 1588.7,896.3 1589.2,897.0 1589.7,896.1 1590.2,902.8 1590.7,910.1 1591.2,911.8 1591.7,905.1 1592.2,920.7 1592.7,914.9 1593.2,913.6 1593.7,921.5 1594.2,920.5 1594.7,923.1 1595.2,925.2 1595.7,929.9 1596.2,930.3 1596.7,926.9 1597.2,939.2 1597.7,936.5 1598.2,946.4 1598.7,945.4 1599.2,947.8 1599.7,947.8 1600.2,954.8 1600.7,949.3 1601.2,948.2 1601.7,956.2 1602.2,944.1 1602.7,956.7 1603.2,961.2 1603.7,960.1 1604.2,969.5 1604.7,968.7 1605.2,967.7 1605.7,967.0 1606.2,975.4 1606.7,968.9 1607.2,971.6 1607.7,978.3 1608.2,979.0 1608.7,987.0 1609.2,978.2 1609.7,972.1 1610.2,985.1 1610.7,989.3 1611.2,984.4 1611.7,993.9 1612.2,996.7 1612.7,987.3 1613.2,989.9 1613.7,988.2 1614.2,998.1 1614.7,1000.6 1615.2,1001.8 1615.7,995.0 1616.2,998.7 1616.7,997.1 1617.2,997.6 1617.7,1000.1 1618.2,1000.3 1618.7,1008.0 1619.2,1012.0 1619.7,1014.1 1620.2,1012.5 1620.7,1010.8 1621.2,1015.2 1621.7,1019.3 1622.2,1016.8 1622.7,1020.0 1623.2,1020.0 1623.7,1020.6 1624.2,1024.8 1624.7,1021.2 1625.2,1032.5 1625.7,1022.2 1626.2,1032.7 1626.7,1025.7 1627.2,1039.8 1627.7,1038.0 1628.2,1031.5 1628.7,1034.1 1629.2,1032.0 1629.7,1037.8 1630.2,1040.8 1630.7,1051.5 1631.2,1034.6 1631.7,1047.4 1632.2,1040.0 1632.7,1044.9 1633.2,1048.6 1633.7,1048.0 1634.2,1048.4 1634.7,1046.6 1635.2,1048.4 1635.7,1050.0 1636.2,1055.6 1636.7,1044.4 1637.2,1049.7 1637.7,1047.1 1638.2,1049.1 1638.7,1050.5 1639.2,1059.7 1639.7,1065.1 1640.2,1062.1 1640.7,1051.1 1641.2,1057.4 1641.7,1052.4 1642.2,1060.1 1642.7,1064.3 1643.2,1061.6 1643.7,1063.4 1644.2,1059.2 1644.7,1051.4 1645.2,1051.8 1645.7,1060.8 1646.2,1064.3 1646.7,1067.9 1647.2,1061.0 1647.7,1063.3 1648.2,1064.6 1648.7,1068.6 1649.2,1063.9 1649.7,1059.7 1650.2,1069.9 1650.7,1067.3 1651.2,1067.6 1651.7,1060.5 1652.2,1066.6 1652.7,1059.2 1653.2,1058.3 1653.7,1066.6 1654.2,1066.1 1654.7,1071.0 1655.2,1075.3 1655.7,1068.9 1656.2,1077.5 1656.7,1067.1 1657.2,1073.5 1657.7,1064.7 1658.2,1071.3 1658.7,1069.6 1659.2,1070.4 1659.7,1074.3 1660.2,1063.4 1660.7,1072.7 1661.2,1068.8 1661.7,1073.3 1662.2,1074.8 1662.7,1071.6 1663.2,1071.9 1663.7,1068.6 1664.2,1076.5 1664.7,1071.2 1665.2,1076.5 1665.7,1068.3 1666.2,1081.1 1666.7,1070.5 1667.2,1080.6 1667.7,1073.6 1668.2,1078.3 1668.7,1075.4 1669.2,1079.4 1669.7,1076.5 1670.2,1082.4 1670.7,1079.9 1671.2,1080.2 1671.7,1084.8 1672.2,1074.3 1672.7,1083.4 1673.2,1078.0 1673.7,1071.1 1674.2,1080.0 1674.7,1077.0 1675.2,1085.6 1675.7,1075.8 1676.2,1078.2 1676.7,1079.0 1677.2,1069.3 1677.7,1080.2 1678.2,1073.3 1678.7,1084.1 1679.2,1085.1 1679.7,1077.5 1680.2,1070.3 1680.7,1078.1 1681.2,1078.0 1681.7,1080.3 1682.2,1075.6 1682.7,1071.4 1683.2,1076.0 1683.7,1072.3 1684.2,1084.4 1684.7,1073.1 1685.2,1073.2 1685.7,1075.7 1686.2,1070.2 1686.7,1073.5 1687.2,1074.7 1687.7,1072.9 1688.2,1073.8 1688.7,1080.3 1689.2,1076.4 1689.7,1068.2 1690.2,1072.0 1690.7,1077.1 1691.2,1070.5 1691.7,1073.6 1692.2,1072.9 1692.7,1075.2 1693.2,1071.8 1693.7,1071.7 1694.2,1068.3 1694.7,1073.6 1695.2,1067.7 1695.7,1079.5 1696.2,1071.4 1696.7,1070.3 1697.2,1074.7 1697.7,1070.6 1698.2,1071.2 1698.7,1070.4 1699.2,1067.3 1699.7,1066.2 1700.2,1067.1 1700.7,1075.2 1701.2,1067.1 1701.7,1068.0 1702.2,1067.7 1702.7,1072.7 1703.2,1078.4 1703.7,1065.3 1704.2,1071.8 1704.7,1069.9 1705.2,1067.9 1705.7,1071.6 1706.2,1063.6 1706.7,1073.2 1707.2,1070.6 1707.7,1065.2 1708.2,1077.1 1708.7,1074.0 1709.2,1075.7 1709.7,1064.2 1710.2,1069.8 1710.7,1069.0 1711.2,1074.5 1711.7,1078.1 1712.2,1063.8 1712.7,1072.8 1713.2,1072.5 1713.7,1077.8 1714.2,1073.5 1714.7,1068.2 1715.2,1073.3 1715.7,1069.8 1716.2,1071.3 1716.7,1075.3 1717.2,1073.2 1717.7,1077.0 1718.2,1069.2 1718.7,1086.8 1719.2,1082.4 1719.7,1080.2 1720.2,1071.5 1720.7,1068.0 1721.2,1074.1 1721.7,1077.3" fill="none" stroke="#ffc010" stroke-width="3.0" stroke-linejoin="round" stroke-linecap="butt" clip-path="url(#clipc)"/>
<text transform="translate(45.0,582.6) rotate(-90) scale(1,1.02)" font-size="56.5" text-anchor="middle" stroke="#000" stroke-width="0.6" stroke-linejoin="round">Intensity (a.u.)</text>
<text transform="translate(112.40,73.00) scale(1.0,1.0)" font-size="49.2" text-anchor="start" stroke="#000" stroke-width="0.6" stroke-linejoin="round">(a)</text>
<text transform="translate(105.20,149.90) scale(1.0,1.02)" font-size="57" text-anchor="start" stroke="#000" stroke-width="0.6" stroke-linejoin="round">2SLGs/BP</text>
<text transform="translate(192.50,262.40) scale(1.0,1.02)" font-size="57" text-anchor="start" stroke="#000" stroke-width="0.6" stroke-linejoin="round">A</text>
<text transform="translate(230.52,239.10) scale(1.0,1.02)" font-size="38" text-anchor="start" stroke="#000" stroke-width="0.6" stroke-linejoin="round">1</text>
<text transform="translate(230.52,277.60) scale(1.0,1.02)" font-size="38" text-anchor="start" stroke="#000" stroke-width="0.6" stroke-linejoin="round">g</text>
<text transform="translate(340.50,290.20) scale(1.0,1.02)" font-size="57" text-anchor="start" stroke="#000" stroke-width="0.6" stroke-linejoin="round">B</text>
<text transform="translate(378.52,305.40) scale(1.0,1.02)" font-size="38" text-anchor="start" stroke="#000" stroke-width="0.6" stroke-linejoin="round">2g</text>
<text transform="translate(442.50,72.90) scale(1.0,1.02)" font-size="57" text-anchor="start" stroke="#000" stroke-width="0.6" stroke-linejoin="round">A</text>
<text transform="translate(480.52,49.60) scale(1.0,1.02)" font-size="38" text-anchor="start" stroke="#000" stroke-width="0.6" stroke-linejoin="round">2</text>
<text transform="translate(480.52,88.10) scale(1.0,1.02)" font-size="38" text-anchor="start" stroke="#000" stroke-width="0.6" stroke-linejoin="round">g</text>
<text transform="translate(100.00,791.20) scale(1.0,1.02)" font-size="57" text-anchor="start" stroke="#000" stroke-width="0.6" stroke-linejoin="round">Parylene C</text>
<text transform="translate(100.10,972.60) scale(1.0,1.02)" font-size="57" text-anchor="start" stroke="#000" stroke-width="0.6" stroke-linejoin="round">2SLGs</text>
<text transform="translate(99.80,1099.70) scale(1.0,1.02)" font-size="57" text-anchor="start" stroke="#000" stroke-width="0.6" stroke-linejoin="round">Fabric</text>
<text transform="translate(601.10,71.30) scale(1.0,1.0)" font-size="49.0" text-anchor="start" stroke="#000" stroke-width="0.6" stroke-linejoin="round">(b)</text>
<text transform="translate(604.00,150.00) scale(1.0,1.02)" font-size="57" text-anchor="start" stroke="#000" stroke-width="0.6" stroke-linejoin="round">2SLGs/BP</text>
<text transform="translate(842.50,318.10) scale(1.0,1.02)" font-size="57" text-anchor="start" stroke="#000" stroke-width="0.6" stroke-linejoin="round">D</text>
<text transform="translate(1049.00,300.80) scale(1.0,1.02)" font-size="57" text-anchor="start" stroke="#000" stroke-width="0.6" stroke-linejoin="round">G</text>
<text transform="translate(596.70,481.30) scale(1.0,1.02)" font-size="57" text-anchor="start" stroke="#000" stroke-width="0.6" stroke-linejoin="round">Parylene C</text>
<text transform="translate(597.80,746.40) scale(1.0,1.02)" font-size="57" text-anchor="start" stroke="#000" stroke-width="0.6" stroke-linejoin="round">2SLGs</text>
<text transform="translate(597.50,979.30) scale(1.0,1.02)" font-size="57" text-anchor="start" stroke="#000" stroke-width="0.6" stroke-linejoin="round">Fabric</text>
<text transform="translate(1248.80,73.20) scale(1.0,1.0)" font-size="49.2" text-anchor="start" stroke="#000" stroke-width="0.6" stroke-linejoin="round">(c)</text>
<text transform="translate(1228.70,150.20) scale(1.0,1.02)" font-size="57" text-anchor="start" stroke="#000" stroke-width="0.6" stroke-linejoin="round">2SLGs/BP</text>
<text transform="translate(1346.50,313.80) scale(1.0,1.02)" font-size="57" text-anchor="start" stroke="#000" stroke-width="0.6" stroke-linejoin="round">2D</text>
<text transform="translate(1221.60,564.20) scale(1.0,1.02)" font-size="57" text-anchor="start" stroke="#000" stroke-width="0.6" stroke-linejoin="round">Parylene C</text>
<text transform="translate(1222.00,846.60) scale(1.0,1.02)" font-size="57" text-anchor="start" stroke="#000" stroke-width="0.6" stroke-linejoin="round">2SLGs</text>
<text transform="translate(1224.20,1053.00) scale(1.0,1.02)" font-size="57" text-anchor="start" stroke="#000" stroke-width="0.6" stroke-linejoin="round">Fabric</text>
</svg>
</body>
</html>
